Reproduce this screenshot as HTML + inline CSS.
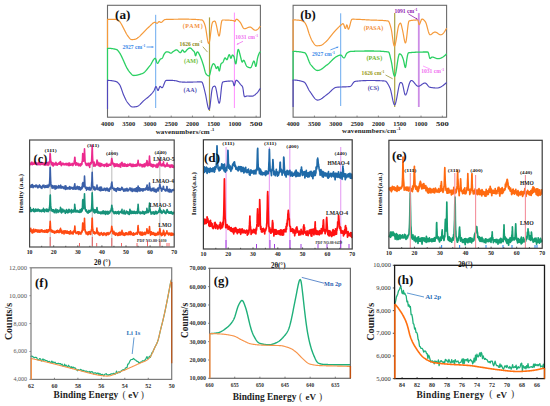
<!DOCTYPE html>
<html><head><meta charset="utf-8"><style>
html,body{margin:0;padding:0;background:#fff;}
body{width:550px;height:406px;overflow:hidden;}
svg{display:block;}
</style></head><body>
<svg width="550" height="406" viewBox="0 0 550 406">
<rect width="550" height="406" fill="#fff"/>
<text x="107.50" y="126.00" font-family="'Liberation Serif', serif" font-size="6.6" font-weight="bold" fill="#222" text-anchor="middle" textLength="12.8" lengthAdjust="spacingAndGlyphs">4000</text>
<line x1="128.74" y1="117.20" x2="128.74" y2="115.60" stroke="#555" stroke-width="0.7" opacity="1.0"/>
<text x="128.74" y="126.00" font-family="'Liberation Serif', serif" font-size="6.6" font-weight="bold" fill="#222" text-anchor="middle" textLength="12.8" lengthAdjust="spacingAndGlyphs">3500</text>
<line x1="149.97" y1="117.20" x2="149.97" y2="115.60" stroke="#555" stroke-width="0.7" opacity="1.0"/>
<text x="149.97" y="126.00" font-family="'Liberation Serif', serif" font-size="6.6" font-weight="bold" fill="#222" text-anchor="middle" textLength="12.8" lengthAdjust="spacingAndGlyphs">3000</text>
<line x1="171.21" y1="117.20" x2="171.21" y2="115.60" stroke="#555" stroke-width="0.7" opacity="1.0"/>
<text x="171.21" y="126.00" font-family="'Liberation Serif', serif" font-size="6.6" font-weight="bold" fill="#222" text-anchor="middle" textLength="12.8" lengthAdjust="spacingAndGlyphs">2500</text>
<line x1="192.44" y1="117.20" x2="192.44" y2="115.60" stroke="#555" stroke-width="0.7" opacity="1.0"/>
<text x="192.44" y="126.00" font-family="'Liberation Serif', serif" font-size="6.6" font-weight="bold" fill="#222" text-anchor="middle" textLength="12.8" lengthAdjust="spacingAndGlyphs">2000</text>
<line x1="213.68" y1="117.20" x2="213.68" y2="115.60" stroke="#555" stroke-width="0.7" opacity="1.0"/>
<text x="213.68" y="126.00" font-family="'Liberation Serif', serif" font-size="6.6" font-weight="bold" fill="#222" text-anchor="middle" textLength="12.8" lengthAdjust="spacingAndGlyphs">1500</text>
<line x1="234.92" y1="117.20" x2="234.92" y2="115.60" stroke="#555" stroke-width="0.7" opacity="1.0"/>
<text x="234.92" y="126.00" font-family="'Liberation Serif', serif" font-size="6.6" font-weight="bold" fill="#222" text-anchor="middle" textLength="12.8" lengthAdjust="spacingAndGlyphs">1000</text>
<line x1="256.15" y1="117.20" x2="256.15" y2="115.60" stroke="#555" stroke-width="0.7" opacity="1.0"/>
<text x="256.15" y="126.00" font-family="'Liberation Serif', serif" font-size="6.6" font-weight="bold" fill="#222" text-anchor="middle" textLength="12.8" lengthAdjust="spacingAndGlyphs">500</text>
<rect x="107.5" y="5.3" width="152.90" height="111.90" fill="none" stroke="#6a6a6a" stroke-width="1.1"/>
<line x1="155.70" y1="14.80" x2="155.70" y2="108.00" stroke="#5aa0ee" stroke-width="0.9" opacity="1.0"/>
<line x1="209.50" y1="17.40" x2="209.50" y2="111.00" stroke="#aaa040" stroke-width="1.2" opacity="1.0"/>
<line x1="234.40" y1="12.60" x2="234.40" y2="108.00" stroke="#ff80ff" stroke-width="0.9" opacity="1.0"/>
<line x1="107.50" y1="19.30" x2="107.50" y2="48.30" stroke="#f59a3a" stroke-width="1.2" opacity="1.0"/>
<line x1="107.50" y1="48.30" x2="107.50" y2="80.40" stroke="#2ad062" stroke-width="1.2" opacity="1.0"/>
<line x1="107.50" y1="80.40" x2="107.50" y2="109.00" stroke="#5048bc" stroke-width="1.15" opacity="1.0"/>
<polyline points="107.50,19.30 107.80,19.30 108.10,19.30 108.40,19.30 108.70,19.30 109.00,19.30 109.30,19.30 109.60,19.31 109.90,19.31 110.20,19.31 110.50,19.31 110.80,19.32 111.10,19.32 111.40,19.32 111.70,19.32 112.00,19.33 112.30,19.33 112.60,19.34 112.90,19.34 113.20,19.35 113.50,19.35 113.80,19.36 114.10,19.37 114.40,19.37 114.70,19.38 115.00,19.39 115.30,19.40 115.60,19.42 115.90,19.45 116.20,19.49 116.50,19.55 116.80,19.63 117.10,19.72 117.40,19.83 117.70,19.95 118.00,20.08 118.30,20.23 118.60,20.42 118.90,20.65 119.20,20.95 119.50,21.30 119.80,21.69 120.10,22.12 120.40,22.58 120.70,23.04 121.00,23.51 121.30,24.00 121.60,24.51 121.90,25.05 122.20,25.61 122.50,26.18 122.80,26.77 123.10,27.36 123.40,27.95 123.70,28.54 124.00,29.12 124.30,29.69 124.60,30.27 124.90,30.85 125.20,31.44 125.50,32.03 125.80,32.61 126.10,33.18 126.40,33.73 126.70,34.25 127.00,34.73 127.30,35.19 127.60,35.62 127.90,36.04 128.20,36.45 128.50,36.85 128.80,37.25 129.10,37.64 129.40,38.01 129.70,38.35 130.00,38.67 130.30,38.94 130.60,39.17 130.90,39.35 131.20,39.47 131.50,39.54 131.80,39.58 132.10,39.58 132.40,39.57 132.70,39.56 133.00,39.54 133.30,39.51 133.60,39.48 133.90,39.45 134.20,39.41 134.50,39.37 134.80,39.32 135.10,39.26 135.40,39.18 135.70,39.07 136.00,38.95 136.30,38.80 136.60,38.62 136.90,38.44 137.20,38.24 137.50,38.03 137.80,37.81 138.10,37.59 138.40,37.37 138.70,37.13 139.00,36.89 139.30,36.62 139.60,36.35 139.90,36.06 140.20,35.75 140.50,35.45 140.80,35.13 141.10,34.82 141.40,34.51 141.70,34.21 142.00,33.90 142.30,33.60 142.60,33.30 142.90,32.99 143.20,32.68 143.50,32.37 143.80,32.06 144.10,31.75 144.40,31.43 144.70,31.12 145.00,30.80 145.30,30.49 145.60,30.18 145.90,29.87 146.20,29.56 146.50,29.25 146.80,28.95 147.10,28.65 147.40,28.35 147.70,28.06 148.00,27.78 148.30,27.50 148.60,27.22 148.90,26.95 149.20,26.69 149.50,26.42 149.80,26.14 150.10,25.86 150.40,25.57 150.70,25.28 151.00,24.98 151.30,24.69 151.60,24.40 151.90,24.11 152.20,23.83 152.50,23.57 152.80,23.32 153.10,23.09 153.40,22.88 153.70,22.70 154.00,22.54 154.30,22.42 154.60,22.33 154.90,22.29 155.20,22.31 155.50,22.42 155.80,22.61 156.10,22.85 156.40,23.08 156.70,23.25 157.00,23.30 157.30,23.19 157.60,22.95 157.90,22.62 158.20,22.26 158.50,21.95 158.80,21.74 159.10,21.66 159.40,21.70 159.70,21.83 160.00,22.00 160.30,22.17 160.60,22.31 160.90,22.39 161.20,22.38 161.50,22.29 161.80,22.13 162.10,21.90 162.40,21.63 162.70,21.33 163.00,21.02 163.30,20.70 163.60,20.40 163.90,20.13 164.20,19.90 164.50,19.72 164.80,19.60 165.10,19.53 165.40,19.50 165.70,19.48 166.00,19.46 166.30,19.45 166.60,19.44 166.90,19.43 167.20,19.43 167.50,19.42 167.80,19.41 168.10,19.40 168.40,19.39 168.70,19.38 169.00,19.37 169.30,19.37 169.60,19.36 169.90,19.35 170.20,19.34 170.50,19.34 170.80,19.33 171.10,19.32 171.40,19.32 171.70,19.31 172.00,19.31 172.30,19.30 172.60,19.29 172.90,19.29 173.20,19.28 173.50,19.28 173.80,19.27 174.10,19.27 174.40,19.26 174.70,19.26 175.00,19.26 175.30,19.25 175.60,19.25 175.90,19.25 176.20,19.24 176.50,19.24 176.80,19.24 177.10,19.23 177.40,19.23 177.70,19.23 178.00,19.23 178.30,19.22 178.60,19.22 178.90,19.22 179.20,19.22 179.50,19.21 179.80,19.21 180.10,19.21 180.40,19.21 180.70,19.21 181.00,19.21 181.30,19.21 181.60,19.21 181.90,19.20 182.20,19.20 182.50,19.20 182.80,19.20 183.10,19.20 183.40,19.20 183.70,19.20 184.00,19.20 184.30,19.20 184.60,19.20 184.90,19.20 185.20,19.20 185.50,19.20 185.80,19.20 186.10,19.20 186.40,19.20 186.70,19.20 187.00,19.21 187.30,19.21 187.60,19.21 187.90,19.21 188.20,19.22 188.50,19.22 188.80,19.22 189.10,19.23 189.40,19.23 189.70,19.24 190.00,19.24 190.30,19.25 190.60,19.26 190.90,19.26 191.20,19.27 191.50,19.28 191.80,19.29 192.10,19.29 192.40,19.30 192.70,19.31 193.00,19.33 193.30,19.34 193.60,19.35 193.90,19.36 194.20,19.37 194.50,19.39 194.80,19.40 195.10,19.42 195.40,19.43 195.70,19.45 196.00,19.47 196.30,19.48 196.60,19.50 196.90,19.52 197.20,19.54 197.50,19.56 197.80,19.58 198.10,19.61 198.40,19.63 198.70,19.65 199.00,19.68 199.30,19.71 199.60,19.73 199.90,19.76 200.20,19.79 200.50,19.82 200.80,19.85 201.10,19.88 201.40,19.91 201.70,19.95 202.00,20.02 202.30,20.13 202.60,20.32 202.90,20.62 203.20,21.03 203.50,21.54 203.80,22.13 204.10,22.79 204.40,23.52 204.70,24.32 205.00,25.24 205.30,26.35 205.60,27.71 205.90,29.33 206.20,31.16 206.50,33.12 206.80,35.14 207.10,37.12 207.40,38.98 207.70,40.64 208.00,42.02 208.30,43.01 208.60,43.54 208.90,43.51 209.20,42.89 209.50,41.69 209.80,39.99 210.10,37.89 210.40,35.53 210.70,33.04 211.00,30.56 211.30,28.21 211.60,26.14 211.90,24.44 212.20,23.21 212.50,22.41 212.80,21.94 213.10,21.66 213.40,21.47 213.70,21.33 214.00,21.21 214.30,21.14 214.60,21.12 214.90,21.22 215.20,21.53 215.50,22.13 215.80,23.01 216.10,24.13 216.40,25.39 216.70,26.71 217.00,28.08 217.30,29.51 217.60,31.01 217.90,32.54 218.20,33.96 218.50,35.13 218.80,35.87 219.10,36.04 219.40,35.53 219.70,34.33 220.00,32.57 220.30,30.40 220.60,28.06 220.90,25.74 221.20,23.68 221.50,22.05 221.80,20.96 222.10,20.36 222.40,20.10 222.70,20.02 223.00,20.01 223.30,20.01 223.60,20.01 223.90,20.01 224.20,20.01 224.50,20.02 224.80,20.02 225.10,20.03 225.40,20.04 225.70,20.04 226.00,20.05 226.30,20.06 226.60,20.07 226.90,20.08 227.20,20.09 227.50,20.11 227.80,20.12 228.10,20.14 228.40,20.15 228.70,20.17 229.00,20.19 229.30,20.21 229.60,20.23 229.90,20.25 230.20,20.28 230.50,20.30 230.80,20.33 231.10,20.36 231.40,20.39 231.70,20.42 232.00,20.45 232.30,20.49 232.60,20.52 232.90,20.56 233.20,20.61 233.50,20.68 233.80,20.81 234.10,21.01 234.40,21.27 234.70,21.43 235.00,21.34 235.30,20.90 235.60,20.25 235.90,19.66 236.20,19.30 236.50,19.19 236.80,19.24 237.10,19.38 237.40,19.56 237.70,19.78 238.00,20.02 238.30,20.29 238.60,20.57 238.90,20.87 239.20,21.17 239.50,21.49 239.80,21.82 240.10,22.18 240.40,22.58 240.70,23.05 241.00,23.59 241.30,24.17 241.60,24.78 241.90,25.40 242.20,26.02 242.50,26.62 242.80,27.17 243.10,27.66 243.40,28.07 243.70,28.38 244.00,28.59 244.30,28.71 244.60,28.74 244.90,28.71 245.20,28.66 245.50,28.57 245.80,28.48 246.10,28.36 246.40,28.24 246.70,28.11 247.00,27.97 247.30,27.83 247.60,27.69 247.90,27.56 248.20,27.44 248.50,27.32 248.80,27.23 249.10,27.14 249.40,27.08 249.70,27.05 250.00,27.05 250.30,27.09 250.60,27.17 250.90,27.30 251.20,27.47 251.50,27.67 251.80,27.91 252.10,28.16 252.40,28.42 252.70,28.70 253.00,28.97 253.30,29.23 253.60,29.47 253.90,29.70 254.20,29.89 254.50,30.05 254.80,30.16 255.10,30.23 255.40,30.25 255.70,30.23 256.00,30.17 256.30,30.08 256.60,29.96 256.90,29.80 257.20,29.62 257.50,29.40 257.80,29.16 258.10,28.89 258.40,28.59 258.70,28.27 259.00,27.92 259.30,27.55 259.60,27.17 259.90,26.82 260.20,26.56" fill="none" stroke="#f59a3a" stroke-width="1.2" stroke-linejoin="round" stroke-linecap="round" opacity="1.0"/>
<polyline points="107.50,48.30 107.80,48.30 108.10,48.31 108.40,48.31 108.70,48.32 109.00,48.33 109.30,48.35 109.60,48.37 109.90,48.39 110.20,48.41 110.50,48.43 110.80,48.46 111.10,48.49 111.40,48.52 111.70,48.56 112.00,48.60 112.30,48.64 112.60,48.68 112.90,48.73 113.20,48.78 113.50,48.83 113.80,48.89 114.10,48.94 114.40,49.00 114.70,49.07 115.00,49.13 115.30,49.20 115.60,49.27 115.90,49.35 116.20,49.43 116.50,49.52 116.80,49.66 117.10,49.84 117.40,50.07 117.70,50.36 118.00,50.69 118.30,51.06 118.60,51.46 118.90,51.88 119.20,52.31 119.50,52.76 119.80,53.21 120.10,53.67 120.40,54.17 120.70,54.70 121.00,55.26 121.30,55.87 121.60,56.49 121.90,57.13 122.20,57.78 122.50,58.43 122.80,59.07 123.10,59.72 123.40,60.37 123.70,61.04 124.00,61.73 124.30,62.42 124.60,63.12 124.90,63.81 125.20,64.49 125.50,65.16 125.80,65.81 126.10,66.43 126.40,67.02 126.70,67.58 127.00,68.12 127.30,68.63 127.60,69.13 127.90,69.62 128.20,70.09 128.50,70.55 128.80,70.98 129.10,71.39 129.40,71.78 129.70,72.15 130.00,72.49 130.30,72.83 130.60,73.17 130.90,73.51 131.20,73.84 131.50,74.16 131.80,74.46 132.10,74.74 132.40,74.98 132.70,75.18 133.00,75.33 133.30,75.43 133.60,75.48 133.90,75.49 134.20,75.48 134.50,75.47 134.80,75.45 135.10,75.42 135.40,75.39 135.70,75.35 136.00,75.31 136.30,75.27 136.60,75.21 136.90,75.16 137.20,75.10 137.50,75.03 137.80,74.96 138.10,74.89 138.40,74.81 138.70,74.73 139.00,74.65 139.30,74.56 139.60,74.47 139.90,74.38 140.20,74.28 140.50,74.18 140.80,74.08 141.10,73.97 141.40,73.87 141.70,73.76 142.00,73.65 142.30,73.53 142.60,73.40 142.90,73.26 143.20,73.09 143.50,72.89 143.80,72.68 144.10,72.44 144.40,72.18 144.70,71.91 145.00,71.62 145.30,71.31 145.60,70.99 145.90,70.66 146.20,70.32 146.50,69.96 146.80,69.60 147.10,69.23 147.40,68.86 147.70,68.48 148.00,68.10 148.30,67.72 148.60,67.34 148.90,66.96 149.20,66.58 149.50,66.21 149.80,65.84 150.10,65.46 150.40,65.05 150.70,64.60 151.00,64.12 151.30,63.61 151.60,63.08 151.90,62.54 152.20,62.00 152.50,61.46 152.80,60.94 153.10,60.44 153.40,59.96 153.70,59.53 154.00,59.15 154.30,58.83 154.60,58.57 154.90,58.39 155.20,58.35 155.50,58.52 155.80,59.03 156.10,59.87 156.40,60.90 156.70,61.93 157.00,62.76 157.30,63.25 157.60,63.36 157.90,63.19 158.20,62.82 158.50,62.32 158.80,61.75 159.10,61.15 159.40,60.56 159.70,60.03 160.00,59.60 160.30,59.27 160.60,59.05 160.90,58.89 161.20,58.76 161.50,58.63 161.80,58.49 162.10,58.28 162.40,57.96 162.70,57.48 163.00,56.84 163.30,56.09 163.60,55.32 163.90,54.62 164.20,54.05 164.50,53.59 164.80,53.21 165.10,52.87 165.40,52.56 165.70,52.29 166.00,52.08 166.30,51.93 166.60,51.85 166.90,51.83 167.20,51.84 167.50,51.87 167.80,51.93 168.10,51.99 168.40,52.07 168.70,52.15 169.00,52.25 169.30,52.39 169.60,52.58 169.90,52.81 170.20,53.02 170.50,53.17 170.80,53.22 171.10,53.17 171.40,53.04 171.70,52.85 172.00,52.62 172.30,52.37 172.60,52.10 172.90,51.84 173.20,51.60 173.50,51.38 173.80,51.18 174.10,50.98 174.40,50.79 174.70,50.59 175.00,50.40 175.30,50.23 175.60,50.08 175.90,49.96 176.20,49.88 176.50,49.85 176.80,49.90 177.10,50.04 177.40,50.26 177.70,50.53 178.00,50.82 178.30,51.11 178.60,51.39 178.90,51.66 179.20,51.95 179.50,52.22 179.80,52.46 180.10,52.62 180.40,52.67 180.70,52.54 181.00,52.20 181.30,51.69 181.60,51.10 181.90,50.56 182.20,50.16 182.50,50.01 182.80,50.14 183.10,50.48 183.40,50.96 183.70,51.47 184.00,51.88 184.30,52.12 184.60,52.17 184.90,52.07 185.20,51.86 185.50,51.57 185.80,51.23 186.10,50.86 186.40,50.49 186.70,50.13 187.00,49.80 187.30,49.51 187.60,49.25 187.90,49.01 188.20,48.77 188.50,48.54 188.80,48.34 189.10,48.16 189.40,48.04 189.70,47.96 190.00,47.95 190.30,48.02 190.60,48.15 190.90,48.33 191.20,48.57 191.50,48.85 191.80,49.15 192.10,49.48 192.40,49.82 192.70,50.15 193.00,50.47 193.30,50.78 193.60,51.06 193.90,51.34 194.20,51.67 194.50,52.20 194.80,53.14 195.10,54.49 195.40,55.61 195.70,55.75 196.00,54.96 196.30,53.86 196.60,52.97 196.90,52.38 197.20,52.05 197.50,51.95 197.80,52.05 198.10,52.31 198.40,52.70 198.70,53.18 199.00,53.74 199.30,54.35 199.60,54.99 199.90,55.64 200.20,56.29 200.50,56.96 200.80,57.65 201.10,58.40 201.40,59.19 201.70,60.02 202.00,60.89 202.30,61.78 202.60,62.68 202.90,63.59 203.20,64.53 203.50,65.51 203.80,66.57 204.10,67.70 204.40,68.88 204.70,70.05 205.00,71.17 205.30,72.18 205.60,73.04 205.90,73.71 206.20,74.20 206.50,74.55 206.80,74.83 207.10,75.08 207.40,75.30 207.70,75.49 208.00,75.66 208.30,75.79 208.60,75.89 208.90,75.91 209.20,75.78 209.50,75.36 209.80,74.56 210.10,73.41 210.40,72.04 210.70,70.59 211.00,69.21 211.30,68.01 211.60,67.01 211.90,66.15 212.20,65.37 212.50,64.69 212.80,64.17 213.10,63.84 213.40,63.73 213.70,63.80 214.00,64.01 214.30,64.32 214.60,64.70 214.90,65.19 215.20,65.85 215.50,66.72 215.80,67.65 216.10,68.36 216.40,68.60 216.70,68.37 217.00,67.82 217.30,67.18 217.60,66.66 217.90,66.56 218.20,67.15 218.50,68.44 218.80,69.93 219.10,70.91 219.40,70.94 219.70,70.03 220.00,68.52 220.30,66.81 220.60,65.29 220.90,64.20 221.20,63.58 221.50,63.26 221.80,63.07 222.10,62.92 222.40,62.74 222.70,62.49 223.00,62.09 223.30,61.52 223.60,60.79 223.90,59.99 224.20,59.21 224.50,58.55 224.80,58.10 225.10,57.92 225.40,58.04 225.70,58.38 226.00,58.85 226.30,59.32 226.60,59.65 226.90,59.74 227.20,59.49 227.50,58.91 227.80,58.07 228.10,57.10 228.40,56.13 228.70,55.29 229.00,54.73 229.30,54.59 229.60,54.94 229.90,55.71 230.20,56.72 230.50,57.67 230.80,58.25 231.10,58.22 231.40,57.53 231.70,56.49 232.00,55.58 232.30,55.10 232.60,55.02 232.90,55.18 233.20,55.46 233.50,55.83 233.80,56.33 234.10,57.09 234.40,58.26 234.70,59.81 235.00,61.51 235.30,62.99 235.60,63.89 235.90,63.89 236.20,62.83 236.50,60.85 236.80,58.25 237.10,55.45 237.40,52.85 237.70,50.84 238.00,49.69 238.30,49.39 238.60,49.72 238.90,50.46 239.20,51.44 239.50,52.58 239.80,53.78 240.10,54.98 240.40,56.14 240.70,57.30 241.00,58.51 241.30,59.73 241.60,60.84 241.90,61.66 242.20,62.06 242.50,61.96 242.80,61.46 243.10,60.83 243.40,60.38 243.70,60.26 244.00,60.47 244.30,60.90 244.60,61.48 244.90,62.18 245.20,62.93 245.50,63.71 245.80,64.47 246.10,65.16 246.40,65.75 246.70,66.21 247.00,66.53 247.30,66.75 247.60,66.92 247.90,67.07 248.20,67.21 248.50,67.33 248.80,67.45 249.10,67.55 249.40,67.63 249.70,67.70 250.00,67.74 250.30,67.76 250.60,67.70 250.90,67.50 251.20,67.11 251.50,66.53 251.80,65.80 252.10,64.98 252.40,64.10 252.70,63.24 253.00,62.44 253.30,61.76 253.60,61.26 253.90,61.02 254.20,61.20 254.50,61.89 254.80,63.04 255.10,64.41 255.40,65.64 255.70,66.40 256.00,66.37 256.30,65.44 256.60,63.78 256.90,61.78 257.20,59.86 257.50,58.31 257.80,57.11 258.10,56.12 258.40,55.23 258.70,54.41 259.00,53.67 259.30,53.04 259.60,52.53 259.90,52.17 260.20,51.96" fill="none" stroke="#2ad062" stroke-width="1.3" stroke-linejoin="round" stroke-linecap="round" opacity="1.0"/>
<polyline points="107.50,80.40 107.80,80.40 108.10,80.41 108.40,80.42 108.70,80.43 109.00,80.44 109.30,80.45 109.60,80.47 109.90,80.49 110.20,80.52 110.50,80.55 110.80,80.58 111.10,80.61 111.40,80.64 111.70,80.68 112.00,80.72 112.30,80.76 112.60,80.81 112.90,80.86 113.20,80.91 113.50,80.96 113.80,81.02 114.10,81.08 114.40,81.14 114.70,81.20 115.00,81.27 115.30,81.33 115.60,81.41 115.90,81.49 116.20,81.59 116.50,81.72 116.80,81.88 117.10,82.07 117.40,82.29 117.70,82.54 118.00,82.82 118.30,83.12 118.60,83.44 118.90,83.79 119.20,84.16 119.50,84.57 119.80,85.04 120.10,85.59 120.40,86.22 120.70,86.93 121.00,87.71 121.30,88.53 121.60,89.39 121.90,90.27 122.20,91.15 122.50,92.02 122.80,92.87 123.10,93.68 123.40,94.44 123.70,95.16 124.00,95.85 124.30,96.51 124.60,97.17 124.90,97.82 125.20,98.46 125.50,99.08 125.80,99.67 126.10,100.25 126.40,100.79 126.70,101.30 127.00,101.77 127.30,102.20 127.60,102.61 127.90,102.99 128.20,103.37 128.50,103.74 128.80,104.11 129.10,104.47 129.40,104.81 129.70,105.15 130.00,105.46 130.30,105.75 130.60,106.02 130.90,106.26 131.20,106.47 131.50,106.65 131.80,106.79 132.10,106.89 132.40,106.95 132.70,106.98 133.00,106.98 133.30,106.98 133.60,106.96 133.90,106.94 134.20,106.92 134.50,106.89 134.80,106.85 135.10,106.81 135.40,106.77 135.70,106.73 136.00,106.68 136.30,106.63 136.60,106.57 136.90,106.50 137.20,106.42 137.50,106.32 137.80,106.19 138.10,106.04 138.40,105.85 138.70,105.64 139.00,105.41 139.30,105.16 139.60,104.90 139.90,104.61 140.20,104.32 140.50,104.01 140.80,103.70 141.10,103.38 141.40,103.06 141.70,102.74 142.00,102.42 142.30,102.10 142.60,101.79 142.90,101.49 143.20,101.20 143.50,100.92 143.80,100.65 144.10,100.38 144.40,100.13 144.70,99.87 145.00,99.62 145.30,99.38 145.60,99.14 145.90,98.90 146.20,98.66 146.50,98.42 146.80,98.18 147.10,97.94 147.40,97.70 147.70,97.46 148.00,97.21 148.30,96.97 148.60,96.71 148.90,96.46 149.20,96.19 149.50,95.92 149.80,95.64 150.10,95.36 150.40,95.07 150.70,94.77 151.00,94.45 151.30,94.13 151.60,93.80 151.90,93.45 152.20,93.10 152.50,92.72 152.80,92.34 153.10,91.94 153.40,91.52 153.70,91.08 154.00,90.59 154.30,90.02 154.60,89.33 154.90,88.54 155.20,87.73 155.50,87.04 155.80,86.62 156.10,86.58 156.40,86.94 156.70,87.63 157.00,88.50 157.30,89.37 157.60,90.05 157.90,90.40 158.20,90.33 158.50,89.85 158.80,89.09 159.10,88.20 159.40,87.36 159.70,86.73 160.00,86.40 160.30,86.37 160.60,86.56 160.90,86.88 161.20,87.24 161.50,87.54 161.80,87.73 162.10,87.74 162.40,87.57 162.70,87.20 163.00,86.68 163.30,86.03 163.60,85.29 163.90,84.49 164.20,83.69 164.50,82.90 164.80,82.18 165.10,81.56 165.40,81.07 165.70,80.73 166.00,80.53 166.30,80.43 166.60,80.38 166.90,80.36 167.20,80.35 167.50,80.34 167.80,80.33 168.10,80.32 168.40,80.32 168.70,80.31 169.00,80.31 169.30,80.30 169.60,80.30 169.90,80.30 170.20,80.30 170.50,80.31 170.80,80.32 171.10,80.33 171.40,80.34 171.70,80.35 172.00,80.37 172.30,80.39 172.60,80.42 172.90,80.44 173.20,80.47 173.50,80.50 173.80,80.53 174.10,80.57 174.40,80.60 174.70,80.64 175.00,80.67 175.30,80.71 175.60,80.75 175.90,80.79 176.20,80.85 176.50,80.91 176.80,80.98 177.10,81.07 177.40,81.17 177.70,81.27 178.00,81.37 178.30,81.47 178.60,81.57 178.90,81.66 179.20,81.74 179.50,81.81 179.80,81.86 180.10,81.90 180.40,81.93 180.70,81.96 181.00,81.98 181.30,82.01 181.60,82.03 181.90,82.05 182.20,82.07 182.50,82.09 182.80,82.10 183.10,82.12 183.40,82.13 183.70,82.15 184.00,82.16 184.30,82.17 184.60,82.18 184.90,82.19 185.20,82.19 185.50,82.20 185.80,82.20 186.10,82.20 186.40,82.20 186.70,82.20 187.00,82.19 187.30,82.19 187.60,82.19 187.90,82.18 188.20,82.18 188.50,82.17 188.80,82.17 189.10,82.16 189.40,82.16 189.70,82.15 190.00,82.14 190.30,82.13 190.60,82.13 190.90,82.12 191.20,82.11 191.50,82.10 191.80,82.09 192.10,82.08 192.40,82.07 192.70,82.07 193.00,82.06 193.30,82.05 193.60,82.04 193.90,82.03 194.20,82.02 194.50,82.01 194.80,82.01 195.10,82.00 195.40,81.99 195.70,81.98 196.00,81.97 196.30,81.96 196.60,81.95 196.90,81.94 197.20,81.92 197.50,81.91 197.80,81.90 198.10,81.89 198.40,81.88 198.70,81.87 199.00,81.86 199.30,81.85 199.60,81.84 199.90,81.83 200.20,81.82 200.50,81.81 200.80,81.81 201.10,81.82 201.40,81.85 201.70,81.96 202.00,82.20 202.30,82.62 202.60,83.24 202.90,84.05 203.20,85.01 203.50,86.09 203.80,87.24 204.10,88.44 204.40,89.65 204.70,90.85 205.00,92.07 205.30,93.35 205.60,94.73 205.90,96.23 206.20,97.82 206.50,99.48 206.80,101.15 207.10,102.79 207.40,104.35 207.70,105.79 208.00,107.06 208.30,108.12 208.60,108.90 208.90,109.32 209.20,109.28 209.50,108.64 209.80,107.36 210.10,105.46 210.40,103.09 210.70,100.40 211.00,97.60 211.30,94.87 211.60,92.39 211.90,90.33 212.20,88.80 212.50,87.80 212.80,87.21 213.10,86.85 213.40,86.61 213.70,86.43 214.00,86.28 214.30,86.17 214.60,86.13 214.90,86.21 215.20,86.49 215.50,87.05 215.80,87.92 216.10,89.09 216.40,90.51 216.70,92.11 217.00,93.83 217.30,95.59 217.60,97.32 217.90,98.97 218.20,100.46 218.50,101.71 218.80,102.65 219.10,103.17 219.40,103.13 219.70,102.39 220.00,100.89 220.30,98.70 220.60,96.02 220.90,93.08 221.20,90.13 221.50,87.42 221.80,85.19 222.10,83.58 222.40,82.61 222.70,82.13 223.00,81.92 223.30,81.82 223.60,81.75 223.90,81.70 224.20,81.64 224.50,81.59 224.80,81.55 225.10,81.50 225.40,81.46 225.70,81.42 226.00,81.38 226.30,81.34 226.60,81.31 226.90,81.28 227.20,81.25 227.50,81.22 227.80,81.19 228.10,81.17 228.40,81.15 228.70,81.13 229.00,81.11 229.30,81.09 229.60,81.08 229.90,81.06 230.20,81.05 230.50,81.04 230.80,81.03 231.10,81.02 231.40,81.02 231.70,81.01 232.00,81.02 232.30,81.06 232.60,81.23 232.90,81.71 233.20,82.65 233.50,83.95 233.80,85.15 234.10,85.74 234.40,85.53 234.70,84.68 235.00,83.49 235.30,82.27 235.60,81.25 235.90,80.58 236.20,80.26 236.50,80.20 236.80,80.30 237.10,80.47 237.40,80.70 237.70,80.97 238.00,81.27 238.30,81.61 238.60,81.97 238.90,82.34 239.20,82.73 239.50,83.13 239.80,83.52 240.10,83.90 240.40,84.28 240.70,84.63 241.00,84.96 241.30,85.25 241.60,85.53 241.90,85.82 242.20,86.17 242.50,86.71 242.80,87.66 243.10,89.25 243.40,91.45 243.70,93.73 244.00,95.48 244.30,96.42 244.60,96.73 244.90,96.74 245.20,96.63 245.50,96.50 245.80,96.37 246.10,96.24 246.40,96.14 246.70,96.07 247.00,96.03 247.30,96.01 247.60,96.01 247.90,96.02 248.20,96.03 248.50,96.05 248.80,96.06 249.10,96.08 249.40,96.09 249.70,96.11 250.00,96.13 250.30,96.14 250.60,96.16 250.90,96.17 251.20,96.18 251.50,96.19 251.80,96.19 252.10,96.17 252.40,96.14 252.70,96.07 253.00,95.98 253.30,95.86 253.60,95.72 253.90,95.55 254.20,95.36 254.50,95.15 254.80,94.93 255.10,94.69 255.40,94.44 255.70,94.18 256.00,93.91 256.30,93.64 256.60,93.36 256.90,93.08 257.20,92.78 257.50,92.45 257.80,92.10 258.10,91.71 258.40,91.29 258.70,90.85 259.00,90.39 259.30,89.91 259.60,89.43 259.90,88.99 260.20,88.66" fill="none" stroke="#5048bc" stroke-width="1.15" stroke-linejoin="round" stroke-linecap="round" opacity="1.0"/>
<text x="115.10" y="18.90" font-family="'Liberation Serif', serif" font-size="12.5" font-weight="bold" fill="#111" text-anchor="start" textLength="15.4" lengthAdjust="spacingAndGlyphs">(a)</text>
<text x="192.70" y="27.80" font-family="'Liberation Serif', serif" font-size="6.0" font-weight="bold" fill="#f39040" text-anchor="middle" textLength="20.1" lengthAdjust="spacing">(PAM)</text>
<text x="122.40" y="48.90" font-family="'Liberation Serif', serif" font-size="5.6" font-weight="bold" fill="#3a88e8" text-anchor="start">2927 cm<tspan font-size="3.8" dy="-2.2">-1</tspan></text>
<line x1="146.50" y1="47.00" x2="153.50" y2="47.00" stroke="#3a88e8" stroke-width="0.8" opacity="1.0"/>
<polygon points="153.50,47.00 151.70,47.87 151.70,46.13" fill="#3a88e8"/>
<text x="179.60" y="45.50" font-family="'Liberation Serif', serif" font-size="5.6" font-weight="bold" fill="#8c8a20" text-anchor="start">1626 cm<tspan font-size="3.8" dy="-2.2">-1</tspan></text>
<line x1="202.80" y1="46.70" x2="207.50" y2="52.10" stroke="#8c8a20" stroke-width="0.7" opacity="1.0"/>
<text x="235.30" y="39.30" font-family="'Liberation Serif', serif" font-size="5.6" font-weight="bold" fill="#f070f0" text-anchor="start">1031 cm<tspan font-size="3.8" dy="-2.2">-1</tspan></text>
<line x1="243.00" y1="41.30" x2="236.80" y2="44.40" stroke="#f070f0" stroke-width="0.8" opacity="1.0"/>
<polygon points="236.80,44.40 237.90,42.97 238.60,44.38" fill="#f070f0"/>
<text x="191.00" y="63.30" font-family="'Liberation Serif', serif" font-size="6.0" font-weight="bold" fill="#70c040" text-anchor="middle" textLength="14.2" lengthAdjust="spacing">(AM)</text>
<text x="190.10" y="92.30" font-family="'Liberation Serif', serif" font-size="6.0" font-weight="bold" fill="#4a48b0" text-anchor="middle" textLength="13.2" lengthAdjust="spacing">(AA)</text>
<text x="155.70" y="134.10" font-family="'Liberation Serif', serif" font-size="7.0" font-weight="bold" fill="#222" text-anchor="start" textLength="54.0" lengthAdjust="spacing">wavenumbers/cm</text>
<text x="210.60" y="131.00" font-family="'Liberation Serif', serif" font-size="4.6" font-weight="bold" fill="#222" text-anchor="start">-1</text>
<text x="293.10" y="126.00" font-family="'Liberation Serif', serif" font-size="6.6" font-weight="bold" fill="#222" text-anchor="middle" textLength="12.8" lengthAdjust="spacingAndGlyphs">4000</text>
<line x1="314.42" y1="117.20" x2="314.42" y2="115.60" stroke="#555" stroke-width="0.7" opacity="1.0"/>
<text x="314.42" y="126.00" font-family="'Liberation Serif', serif" font-size="6.6" font-weight="bold" fill="#222" text-anchor="middle" textLength="12.8" lengthAdjust="spacingAndGlyphs">3500</text>
<line x1="335.74" y1="117.20" x2="335.74" y2="115.60" stroke="#555" stroke-width="0.7" opacity="1.0"/>
<text x="335.74" y="126.00" font-family="'Liberation Serif', serif" font-size="6.6" font-weight="bold" fill="#222" text-anchor="middle" textLength="12.8" lengthAdjust="spacingAndGlyphs">3000</text>
<line x1="357.06" y1="117.20" x2="357.06" y2="115.60" stroke="#555" stroke-width="0.7" opacity="1.0"/>
<text x="357.06" y="126.00" font-family="'Liberation Serif', serif" font-size="6.6" font-weight="bold" fill="#222" text-anchor="middle" textLength="12.8" lengthAdjust="spacingAndGlyphs">2500</text>
<line x1="378.38" y1="117.20" x2="378.38" y2="115.60" stroke="#555" stroke-width="0.7" opacity="1.0"/>
<text x="378.38" y="126.00" font-family="'Liberation Serif', serif" font-size="6.6" font-weight="bold" fill="#222" text-anchor="middle" textLength="12.8" lengthAdjust="spacingAndGlyphs">2000</text>
<line x1="399.70" y1="117.20" x2="399.70" y2="115.60" stroke="#555" stroke-width="0.7" opacity="1.0"/>
<text x="399.70" y="126.00" font-family="'Liberation Serif', serif" font-size="6.6" font-weight="bold" fill="#222" text-anchor="middle" textLength="12.8" lengthAdjust="spacingAndGlyphs">1500</text>
<line x1="421.02" y1="117.20" x2="421.02" y2="115.60" stroke="#555" stroke-width="0.7" opacity="1.0"/>
<text x="421.02" y="126.00" font-family="'Liberation Serif', serif" font-size="6.6" font-weight="bold" fill="#222" text-anchor="middle" textLength="12.8" lengthAdjust="spacingAndGlyphs">1000</text>
<line x1="442.34" y1="117.20" x2="442.34" y2="115.60" stroke="#555" stroke-width="0.7" opacity="1.0"/>
<text x="442.34" y="126.00" font-family="'Liberation Serif', serif" font-size="6.6" font-weight="bold" fill="#222" text-anchor="middle" textLength="12.8" lengthAdjust="spacingAndGlyphs">500</text>
<rect x="293.1" y="5.3" width="153.50" height="111.90" fill="none" stroke="#6a6a6a" stroke-width="1.1"/>
<line x1="340.70" y1="13.30" x2="340.70" y2="106.00" stroke="#5aa0ee" stroke-width="0.9" opacity="1.0"/>
<line x1="394.70" y1="13.10" x2="394.70" y2="107.00" stroke="#aaa040" stroke-width="1.2" opacity="1.0"/>
<line x1="418.80" y1="13.10" x2="418.80" y2="107.00" stroke="#c070e0" stroke-width="1.8" opacity="0.8"/>
<line x1="293.10" y1="19.90" x2="293.10" y2="51.40" stroke="#f59a3a" stroke-width="1.2" opacity="1.0"/>
<line x1="293.10" y1="51.40" x2="293.10" y2="80.00" stroke="#2ad062" stroke-width="1.2" opacity="1.0"/>
<line x1="293.10" y1="80.00" x2="293.10" y2="107.00" stroke="#5048bc" stroke-width="1.15" opacity="1.0"/>
<polyline points="293.10,19.90 293.40,19.90 293.70,19.90 294.00,19.91 294.30,19.92 294.60,19.92 294.90,19.93 295.20,19.95 295.50,19.96 295.80,19.97 296.10,19.99 296.40,20.01 296.70,20.03 297.00,20.05 297.30,20.08 297.60,20.10 297.90,20.13 298.20,20.16 298.50,20.19 298.80,20.22 299.10,20.25 299.40,20.29 299.70,20.32 300.00,20.36 300.30,20.40 300.60,20.44 300.90,20.49 301.20,20.54 301.50,20.61 301.80,20.70 302.10,20.81 302.40,20.94 302.70,21.08 303.00,21.25 303.30,21.43 303.60,21.62 303.90,21.84 304.20,22.07 304.50,22.33 304.80,22.65 305.10,23.06 305.40,23.55 305.70,24.10 306.00,24.72 306.30,25.37 306.60,26.05 306.90,26.79 307.20,27.60 307.50,28.50 307.80,29.48 308.10,30.49 308.40,31.50 308.70,32.48 309.00,33.40 309.30,34.25 309.60,35.06 309.90,35.85 310.20,36.62 310.50,37.38 310.80,38.11 311.10,38.81 311.40,39.47 311.70,40.09 312.00,40.65 312.30,41.17 312.60,41.64 312.90,42.09 313.20,42.53 313.50,42.97 313.80,43.40 314.10,43.81 314.40,44.20 314.70,44.56 315.00,44.88 315.30,45.16 315.60,45.40 315.90,45.58 316.20,45.70 316.50,45.77 316.80,45.79 317.10,45.79 317.40,45.78 317.70,45.77 318.00,45.75 318.30,45.73 318.60,45.71 318.90,45.68 319.20,45.65 319.50,45.62 319.80,45.59 320.10,45.55 320.40,45.51 320.70,45.45 321.00,45.37 321.30,45.27 321.60,45.14 321.90,44.98 322.20,44.80 322.50,44.60 322.80,44.39 323.10,44.16 323.40,43.92 323.70,43.66 324.00,43.41 324.30,43.15 324.60,42.88 324.90,42.62 325.20,42.36 325.50,42.10 325.80,41.83 326.10,41.56 326.40,41.27 326.70,40.97 327.00,40.66 327.30,40.34 327.60,40.01 327.90,39.67 328.20,39.31 328.50,38.96 328.80,38.59 329.10,38.22 329.40,37.85 329.70,37.47 330.00,37.09 330.30,36.71 330.60,36.32 330.90,35.93 331.20,35.55 331.50,35.17 331.80,34.78 332.10,34.41 332.40,34.03 332.70,33.66 333.00,33.30 333.30,32.94 333.60,32.59 333.90,32.25 334.20,31.91 334.50,31.58 334.80,31.26 335.10,30.93 335.40,30.60 335.70,30.28 336.00,29.95 336.30,29.63 336.60,29.31 336.90,28.99 337.20,28.67 337.50,28.36 337.80,28.05 338.10,27.75 338.40,27.45 338.70,27.16 339.00,26.87 339.30,26.60 339.60,26.32 339.90,26.06 340.20,25.80 340.50,25.53 340.80,25.25 341.10,24.96 341.40,24.67 341.70,24.40 342.00,24.15 342.30,23.94 342.60,23.78 342.90,23.69 343.20,23.74 343.50,24.05 343.80,24.68 344.10,25.55 344.40,26.53 344.70,27.45 345.00,28.16 345.30,28.48 345.60,28.25 345.90,27.49 346.20,26.42 346.50,25.42 346.80,24.89 347.10,25.12 347.40,26.08 347.70,27.40 348.00,28.54 348.30,29.14 348.60,29.11 348.90,28.64 349.20,27.86 349.50,26.88 349.80,25.76 350.10,24.55 350.40,23.34 350.70,22.18 351.00,21.14 351.30,20.29 351.60,19.69 351.90,19.35 352.20,19.23 352.50,19.20 352.80,19.20 353.10,19.21 353.40,19.21 353.70,19.21 354.00,19.22 354.30,19.22 354.60,19.23 354.90,19.24 355.20,19.24 355.50,19.25 355.80,19.26 356.10,19.27 356.40,19.28 356.70,19.29 357.00,19.30 357.30,19.31 357.60,19.33 357.90,19.34 358.20,19.35 358.50,19.36 358.80,19.38 359.10,19.39 359.40,19.41 359.70,19.42 360.00,19.44 360.30,19.45 360.60,19.47 360.90,19.48 361.20,19.50 361.50,19.52 361.80,19.53 362.10,19.55 362.40,19.57 362.70,19.59 363.00,19.60 363.30,19.62 363.60,19.64 363.90,19.66 364.20,19.67 364.50,19.69 364.80,19.71 365.10,19.73 365.40,19.74 365.70,19.76 366.00,19.78 366.30,19.80 366.60,19.82 366.90,19.83 367.20,19.85 367.50,19.87 367.80,19.88 368.10,19.90 368.40,19.92 368.70,19.93 369.00,19.95 369.30,19.96 369.60,19.98 369.90,19.99 370.20,20.01 370.50,20.02 370.80,20.04 371.10,20.05 371.40,20.06 371.70,20.07 372.00,20.08 372.30,20.09 372.60,20.10 372.90,20.11 373.20,20.12 373.50,20.13 373.80,20.14 374.10,20.15 374.40,20.16 374.70,20.17 375.00,20.17 375.30,20.18 375.60,20.19 375.90,20.20 376.20,20.21 376.50,20.21 376.80,20.22 377.10,20.23 377.40,20.24 377.70,20.25 378.00,20.26 378.30,20.27 378.60,20.28 378.90,20.29 379.20,20.30 379.50,20.31 379.80,20.32 380.10,20.33 380.40,20.34 380.70,20.36 381.00,20.37 381.30,20.38 381.60,20.40 381.90,20.42 382.20,20.43 382.50,20.45 382.80,20.47 383.10,20.49 383.40,20.51 383.70,20.53 384.00,20.55 384.30,20.58 384.60,20.60 384.90,20.63 385.20,20.65 385.50,20.68 385.80,20.71 386.10,20.74 386.40,20.78 386.70,20.81 387.00,20.84 387.30,20.88 387.60,20.92 387.90,20.97 388.20,21.06 388.50,21.26 388.80,21.63 389.10,22.18 389.40,22.88 389.70,23.71 390.00,24.63 390.30,25.61 390.60,26.64 390.90,27.72 391.20,28.96 391.50,30.47 391.80,32.27 392.10,34.29 392.40,36.43 392.70,38.59 393.00,40.66 393.30,42.53 393.60,44.11 393.90,45.28 394.20,45.97 394.50,46.12 394.80,45.78 395.10,45.02 395.40,43.91 395.70,42.50 396.00,40.87 396.30,39.06 396.60,37.14 396.90,35.17 397.20,33.21 397.50,31.31 397.80,29.54 398.10,27.95 398.40,26.61 398.70,25.57 399.00,24.80 399.30,24.24 399.60,23.78 399.90,23.42 400.20,23.19 400.50,23.18 400.80,23.49 401.10,24.19 401.40,25.22 401.70,26.46 402.00,27.80 402.30,29.14 402.60,30.48 402.90,31.91 403.20,33.49 403.50,35.19 403.80,36.92 404.10,38.59 404.40,40.12 404.70,41.41 405.00,42.37 405.30,42.90 405.60,42.86 405.90,42.13 406.20,40.70 406.50,38.70 406.80,36.27 407.10,33.58 407.40,30.81 407.70,28.11 408.00,25.66 408.30,23.62 408.60,22.13 408.90,21.28 409.20,20.92 409.50,20.80 409.80,20.73 410.10,20.67 410.40,20.61 410.70,20.56 411.00,20.51 411.30,20.46 411.60,20.42 411.90,20.38 412.20,20.34 412.50,20.30 412.80,20.26 413.10,20.23 413.40,20.20 413.70,20.17 414.00,20.15 414.30,20.13 414.60,20.11 414.90,20.09 415.20,20.07 415.50,20.06 415.80,20.04 416.10,20.03 416.40,20.02 416.70,20.01 417.00,20.01 417.30,20.01 417.60,20.04 417.90,20.28 418.20,21.08 418.50,22.50 418.80,23.90 419.10,24.59 419.40,24.54 419.70,24.07 420.00,23.38 420.30,22.57 420.60,21.71 420.90,20.88 421.20,20.14 421.50,19.56 421.80,19.21 422.10,19.07 422.40,19.09 422.70,19.19 423.00,19.34 423.30,19.54 423.60,19.78 423.90,20.05 424.20,20.35 424.50,20.68 424.80,21.02 425.10,21.38 425.40,21.81 425.70,22.36 426.00,23.07 426.30,23.94 426.60,24.93 426.90,26.01 427.20,27.14 427.50,28.31 427.80,29.46 428.10,30.58 428.40,31.63 428.70,32.57 429.00,33.38 429.30,34.01 429.60,34.45 429.90,34.69 430.20,34.74 430.50,34.70 430.80,34.59 431.10,34.44 431.40,34.25 431.70,34.04 432.00,33.81 432.30,33.57 432.60,33.32 432.90,33.07 433.20,32.84 433.50,32.62 433.80,32.42 434.10,32.26 434.40,32.13 434.70,32.05 435.00,32.03 435.30,32.04 435.60,32.10 435.90,32.20 436.20,32.33 436.50,32.49 436.80,32.67 437.10,32.87 437.40,33.07 437.70,33.29 438.00,33.51 438.30,33.73 438.60,33.93 438.90,34.13 439.20,34.31 439.50,34.47 439.80,34.60 440.10,34.70 440.40,34.76 440.70,34.78 441.00,34.76 441.30,34.69 441.60,34.58 441.90,34.44 442.20,34.25 442.50,34.03 442.80,33.77 443.10,33.47 443.40,33.15 443.70,32.79 444.00,32.40 444.30,31.98 444.60,31.54 444.90,31.07 445.20,30.58 445.50,30.06 445.80,29.52 446.10,29.00 446.40,28.60" fill="none" stroke="#f59a3a" stroke-width="1.2" stroke-linejoin="round" stroke-linecap="round" opacity="1.0"/>
<polyline points="293.10,51.40 293.40,51.40 293.70,51.40 294.00,51.41 294.30,51.41 294.60,51.42 294.90,51.43 295.20,51.44 295.50,51.46 295.80,51.47 296.10,51.49 296.40,51.51 296.70,51.53 297.00,51.55 297.30,51.57 297.60,51.60 297.90,51.62 298.20,51.65 298.50,51.68 298.80,51.72 299.10,51.75 299.40,51.79 299.70,51.83 300.00,51.87 300.30,51.91 300.60,51.96 300.90,52.00 301.20,52.05 301.50,52.10 301.80,52.16 302.10,52.21 302.40,52.27 302.70,52.33 303.00,52.39 303.30,52.45 303.60,52.52 303.90,52.59 304.20,52.66 304.50,52.73 304.80,52.83 305.10,52.99 305.40,53.25 305.70,53.61 306.00,54.06 306.30,54.60 306.60,55.21 306.90,55.88 307.20,56.60 307.50,57.35 307.80,58.13 308.10,58.92 308.40,59.71 308.70,60.49 309.00,61.25 309.30,61.98 309.60,62.65 309.90,63.27 310.20,63.82 310.50,64.30 310.80,64.71 311.10,65.09 311.40,65.45 311.70,65.82 312.00,66.18 312.30,66.54 312.60,66.90 312.90,67.25 313.20,67.59 313.50,67.92 313.80,68.23 314.10,68.54 314.40,68.82 314.70,69.10 315.00,69.35 315.30,69.58 315.60,69.79 315.90,69.97 316.20,70.13 316.50,70.26 316.80,70.36 317.10,70.44 317.40,70.48 317.70,70.49 318.00,70.47 318.30,70.44 318.60,70.39 318.90,70.32 319.20,70.23 319.50,70.13 319.80,70.01 320.10,69.88 320.40,69.74 320.70,69.58 321.00,69.41 321.30,69.23 321.60,69.04 321.90,68.85 322.20,68.64 322.50,68.43 322.80,68.21 323.10,67.98 323.40,67.75 323.70,67.52 324.00,67.28 324.30,67.04 324.60,66.80 324.90,66.55 325.20,66.31 325.50,66.07 325.80,65.83 326.10,65.59 326.40,65.35 326.70,65.12 327.00,64.90 327.30,64.67 327.60,64.45 327.90,64.22 328.20,63.97 328.50,63.72 328.80,63.45 329.10,63.18 329.40,62.89 329.70,62.60 330.00,62.31 330.30,62.01 330.60,61.70 330.90,61.40 331.20,61.09 331.50,60.78 331.80,60.47 332.10,60.17 332.40,59.87 332.70,59.57 333.00,59.28 333.30,58.99 333.60,58.71 333.90,58.44 334.20,58.18 334.50,57.93 334.80,57.69 335.10,57.46 335.40,57.25 335.70,57.05 336.00,56.87 336.30,56.70 336.60,56.54 336.90,56.38 337.20,56.22 337.50,56.06 337.80,55.91 338.10,55.76 338.40,55.62 338.70,55.48 339.00,55.36 339.30,55.26 339.60,55.17 339.90,55.10 340.20,55.05 340.50,55.03 340.80,55.06 341.10,55.18 341.40,55.39 341.70,55.69 342.00,56.05 342.30,56.43 342.60,56.83 342.90,57.20 343.20,57.52 343.50,57.76 343.80,57.90 344.10,57.89 344.40,57.69 344.70,57.32 345.00,56.80 345.30,56.18 345.60,55.51 345.90,54.84 346.20,54.21 346.50,53.67 346.80,53.26 347.10,52.97 347.40,52.75 347.70,52.56 348.00,52.39 348.30,52.23 348.60,52.08 348.90,51.94 349.20,51.82 349.50,51.71 349.80,51.62 350.10,51.54 350.40,51.48 350.70,51.43 351.00,51.40 351.30,51.39 351.60,51.37 351.90,51.36 352.20,51.34 352.50,51.33 352.80,51.32 353.10,51.30 353.40,51.29 353.70,51.28 354.00,51.27 354.30,51.26 354.60,51.24 354.90,51.23 355.20,51.22 355.50,51.21 355.80,51.20 356.10,51.19 356.40,51.18 356.70,51.17 357.00,51.17 357.30,51.16 357.60,51.15 357.90,51.14 358.20,51.13 358.50,51.13 358.80,51.12 359.10,51.11 359.40,51.10 359.70,51.10 360.00,51.09 360.30,51.09 360.60,51.08 360.90,51.07 361.20,51.07 361.50,51.06 361.80,51.06 362.10,51.05 362.40,51.05 362.70,51.05 363.00,51.04 363.30,51.04 363.60,51.03 363.90,51.03 364.20,51.03 364.50,51.02 364.80,51.02 365.10,51.02 365.40,51.02 365.70,51.01 366.00,51.01 366.30,51.01 366.60,51.01 366.90,51.01 367.20,51.01 367.50,51.00 367.80,51.00 368.10,51.00 368.40,51.00 368.70,51.00 369.00,51.00 369.30,51.00 369.60,51.00 369.90,51.00 370.20,51.00 370.50,51.00 370.80,51.00 371.10,51.00 371.40,51.00 371.70,51.00 372.00,51.01 372.30,51.01 372.60,51.01 372.90,51.01 373.20,51.01 373.50,51.02 373.80,51.02 374.10,51.03 374.40,51.03 374.70,51.03 375.00,51.04 375.30,51.05 375.60,51.05 375.90,51.06 376.20,51.07 376.50,51.07 376.80,51.08 377.10,51.09 377.40,51.10 377.70,51.11 378.00,51.12 378.30,51.13 378.60,51.14 378.90,51.16 379.20,51.17 379.50,51.18 379.80,51.20 380.10,51.21 380.40,51.23 380.70,51.24 381.00,51.26 381.30,51.28 381.60,51.30 381.90,51.32 382.20,51.34 382.50,51.36 382.80,51.38 383.10,51.41 383.40,51.43 383.70,51.45 384.00,51.48 384.30,51.51 384.60,51.53 384.90,51.56 385.20,51.59 385.50,51.62 385.80,51.65 386.10,51.69 386.40,51.72 386.70,51.76 387.00,51.79 387.30,51.83 387.60,51.87 387.90,51.91 388.20,51.95 388.50,52.05 388.80,52.28 389.10,52.78 389.40,53.56 389.70,54.59 390.00,55.77 390.30,57.04 390.60,58.33 390.90,59.61 391.20,60.92 391.50,62.38 391.80,63.99 392.10,65.74 392.40,67.54 392.70,69.34 393.00,71.06 393.30,72.64 393.60,74.02 393.90,75.12 394.20,75.88 394.50,76.24 394.80,76.16 395.10,75.64 395.40,74.71 395.70,73.44 396.00,71.89 396.30,70.12 396.60,68.19 396.90,66.18 397.20,64.12 397.50,62.11 397.80,60.18 398.10,58.41 398.40,56.86 398.70,55.59 399.00,54.66 399.30,54.11 399.60,53.90 399.90,53.90 400.20,54.01 400.50,54.17 400.80,54.38 401.10,54.64 401.40,54.99 401.70,55.46 402.00,56.04 402.30,56.72 402.60,57.47 402.90,58.29 403.20,59.15 403.50,60.13 403.80,61.33 404.10,62.79 404.40,64.37 404.70,65.85 405.00,66.98 405.30,67.49 405.60,67.13 405.90,65.83 406.20,63.83 406.50,61.56 406.80,59.41 407.10,57.58 407.40,55.97 407.70,54.59 408.00,53.56 408.30,53.00 408.60,52.80 408.90,52.74 409.20,52.70 409.50,52.67 409.80,52.64 410.10,52.61 410.40,52.59 410.70,52.56 411.00,52.53 411.30,52.51 411.60,52.48 411.90,52.46 412.20,52.44 412.50,52.41 412.80,52.39 413.10,52.37 413.40,52.35 413.70,52.33 414.00,52.31 414.30,52.30 414.60,52.28 414.90,52.26 415.20,52.25 415.50,52.23 415.80,52.22 416.10,52.20 416.40,52.19 416.70,52.18 417.00,52.16 417.30,52.15 417.60,52.14 417.90,52.13 418.20,52.12 418.50,52.11 418.80,52.10 419.10,52.09 419.40,52.09 419.70,52.08 420.00,52.07 420.30,52.06 420.60,52.06 420.90,52.05 421.20,52.05 421.50,52.04 421.80,52.04 422.10,52.03 422.40,52.03 422.70,52.03 423.00,52.02 423.30,52.02 423.60,52.02 423.90,52.01 424.20,52.01 424.50,52.01 424.80,52.01 425.10,52.01 425.40,52.00 425.70,52.00 426.00,52.00 426.30,52.00 426.60,52.00 426.90,52.00 427.20,52.00 427.50,52.01 427.80,52.06 428.10,52.31 428.40,52.95 428.70,54.02 429.00,55.35 429.30,56.68 429.60,57.75 429.90,58.37 430.20,58.52 430.50,58.37 430.80,58.08 431.10,57.73 431.40,57.41 431.70,57.18 432.00,57.05 432.30,57.03 432.60,57.06 432.90,57.12 433.20,57.19 433.50,57.28 433.80,57.38 434.10,57.50 434.40,57.62 434.70,57.74 435.00,57.87 435.30,58.00 435.60,58.12 435.90,58.24 436.20,58.35 436.50,58.45 436.80,58.54 437.10,58.61 437.40,58.65 437.70,58.68 438.00,58.69 438.30,58.68 438.60,58.66 438.90,58.62 439.20,58.58 439.50,58.51 439.80,58.44 440.10,58.36 440.40,58.26 440.70,58.15 441.00,58.03 441.30,57.90 441.60,57.76 441.90,57.60 442.20,57.44 442.50,57.26 442.80,57.07 443.10,56.87 443.40,56.66 443.70,56.44 444.00,56.21 444.30,55.97 444.60,55.72 444.90,55.46 445.20,55.19 445.50,54.91 445.80,54.62 446.10,54.34 446.40,54.12" fill="none" stroke="#2ad062" stroke-width="1.3" stroke-linejoin="round" stroke-linecap="round" opacity="1.0"/>
<polyline points="293.10,80.00 293.40,80.00 293.70,80.01 294.00,80.02 294.30,80.03 294.60,80.04 294.90,80.06 295.20,80.08 295.50,80.10 295.80,80.13 296.10,80.16 296.40,80.19 296.70,80.23 297.00,80.26 297.30,80.31 297.60,80.35 297.90,80.40 298.20,80.45 298.50,80.50 298.80,80.56 299.10,80.62 299.40,80.68 299.70,80.75 300.00,80.82 300.30,80.89 300.60,80.96 300.90,81.04 301.20,81.12 301.50,81.20 301.80,81.29 302.10,81.37 302.40,81.47 302.70,81.56 303.00,81.66 303.30,81.76 303.60,81.86 303.90,81.98 304.20,82.13 304.50,82.33 304.80,82.61 305.10,82.95 305.40,83.36 305.70,83.81 306.00,84.31 306.30,84.85 306.60,85.42 306.90,86.01 307.20,86.61 307.50,87.22 307.80,87.83 308.10,88.43 308.40,89.02 308.70,89.58 309.00,90.10 309.30,90.59 309.60,91.05 309.90,91.47 310.20,91.90 310.50,92.33 310.80,92.77 311.10,93.21 311.40,93.66 311.70,94.12 312.00,94.57 312.30,95.02 312.60,95.47 312.90,95.91 313.20,96.34 313.50,96.76 313.80,97.17 314.10,97.55 314.40,97.92 314.70,98.27 315.00,98.60 315.30,98.90 315.60,99.17 315.90,99.41 316.20,99.62 316.50,99.79 316.80,99.92 317.10,100.02 317.40,100.07 317.70,100.09 318.00,100.07 318.30,100.04 318.60,99.98 318.90,99.91 319.20,99.82 319.50,99.71 319.80,99.59 320.10,99.46 320.40,99.31 320.70,99.15 321.00,98.98 321.30,98.80 321.60,98.61 321.90,98.40 322.20,98.20 322.50,97.98 322.80,97.76 323.10,97.53 323.40,97.30 323.70,97.06 324.00,96.82 324.30,96.58 324.60,96.34 324.90,96.10 325.20,95.86 325.50,95.62 325.80,95.38 326.10,95.15 326.40,94.92 326.70,94.70 327.00,94.48 327.30,94.27 327.60,94.05 327.90,93.83 328.20,93.59 328.50,93.34 328.80,93.08 329.10,92.81 329.40,92.53 329.70,92.25 330.00,91.95 330.30,91.66 330.60,91.36 330.90,91.06 331.20,90.76 331.50,90.47 331.80,90.17 332.10,89.89 332.40,89.61 332.70,89.34 333.00,89.08 333.30,88.83 333.60,88.59 333.90,88.37 334.20,88.16 334.50,87.98 334.80,87.81 335.10,87.66 335.40,87.54 335.70,87.44 336.00,87.36 336.30,87.31 336.60,87.27 336.90,87.24 337.20,87.21 337.50,87.18 337.80,87.16 338.10,87.13 338.40,87.11 338.70,87.09 339.00,87.07 339.30,87.06 339.60,87.04 339.90,87.03 340.20,87.01 340.50,87.00 340.80,86.99 341.10,86.98 341.40,86.97 341.70,86.96 342.00,86.95 342.30,86.94 342.60,86.94 342.90,86.93 343.20,86.92 343.50,86.91 343.80,86.90 344.10,86.89 344.40,86.89 344.70,86.88 345.00,86.87 345.30,86.85 345.60,86.84 345.90,86.83 346.20,86.82 346.50,86.80 346.80,86.78 347.10,86.77 347.40,86.75 347.70,86.73 348.00,86.70 348.30,86.68 348.60,86.65 348.90,86.62 349.20,86.59 349.50,86.56 349.80,86.52 350.10,86.45 350.40,86.33 350.70,86.14 351.00,85.88 351.30,85.56 351.60,85.20 351.90,84.80 352.20,84.38 352.50,83.95 352.80,83.52 353.10,83.10 353.40,82.70 353.70,82.34 354.00,82.02 354.30,81.76 354.60,81.57 354.90,81.45 355.20,81.38 355.50,81.34 355.80,81.30 356.10,81.26 356.40,81.23 356.70,81.19 357.00,81.16 357.30,81.12 357.60,81.09 357.90,81.06 358.20,81.03 358.50,81.00 358.80,80.97 359.10,80.95 359.40,80.92 359.70,80.90 360.00,80.87 360.30,80.85 360.60,80.83 360.90,80.80 361.20,80.78 361.50,80.76 361.80,80.74 362.10,80.72 362.40,80.71 362.70,80.69 363.00,80.67 363.30,80.66 363.60,80.64 363.90,80.63 364.20,80.62 364.50,80.60 364.80,80.59 365.10,80.58 365.40,80.57 365.70,80.56 366.00,80.55 366.30,80.55 366.60,80.54 366.90,80.53 367.20,80.53 367.50,80.52 367.80,80.52 368.10,80.51 368.40,80.51 368.70,80.51 369.00,80.50 369.30,80.50 369.60,80.50 369.90,80.50 370.20,80.50 370.50,80.50 370.80,80.50 371.10,80.50 371.40,80.50 371.70,80.50 372.00,80.51 372.30,80.51 372.60,80.51 372.90,80.51 373.20,80.52 373.50,80.52 373.80,80.52 374.10,80.53 374.40,80.53 374.70,80.54 375.00,80.54 375.30,80.55 375.60,80.56 375.90,80.56 376.20,80.57 376.50,80.58 376.80,80.58 377.10,80.59 377.40,80.60 377.70,80.61 378.00,80.62 378.30,80.63 378.60,80.64 378.90,80.65 379.20,80.66 379.50,80.68 379.80,80.69 380.10,80.70 380.40,80.72 380.70,80.73 381.00,80.75 381.30,80.76 381.60,80.78 381.90,80.79 382.20,80.81 382.50,80.83 382.80,80.85 383.10,80.87 383.40,80.89 383.70,80.91 384.00,80.93 384.30,80.95 384.60,80.97 384.90,81.00 385.20,81.06 385.50,81.17 385.80,81.33 386.10,81.56 386.40,81.84 386.70,82.18 387.00,82.56 387.30,82.98 387.60,83.45 387.90,83.94 388.20,84.47 388.50,85.02 388.80,85.59 389.10,86.18 389.40,86.78 389.70,87.40 390.00,88.06 390.30,88.85 390.60,89.81 390.90,90.96 391.20,92.26 391.50,93.67 391.80,95.15 392.10,96.66 392.40,98.15 392.70,99.59 393.00,100.93 393.30,102.14 393.60,103.18 393.90,103.99 394.20,104.55 394.50,104.82 394.80,104.76 395.10,104.40 395.40,103.74 395.70,102.83 396.00,101.69 396.30,100.38 396.60,98.91 396.90,97.34 397.20,95.68 397.50,93.98 397.80,92.28 398.10,90.61 398.40,89.00 398.70,87.50 399.00,86.13 399.30,84.93 399.60,83.94 399.90,83.19 400.20,82.72 400.50,82.50 400.80,82.47 401.10,82.54 401.40,82.67 401.70,82.84 402.00,83.12 402.30,83.62 402.60,84.43 402.90,85.54 403.20,86.88 403.50,88.36 403.80,89.87 404.10,91.34 404.40,92.67 404.70,93.78 405.00,94.56 405.30,94.96 405.60,95.00 405.90,94.73 406.20,94.23 406.50,93.54 406.80,92.69 407.10,91.71 407.40,90.64 407.70,89.51 408.00,88.34 408.30,87.18 408.60,86.04 408.90,84.97 409.20,84.00 409.50,83.15 409.80,82.44 410.10,81.86 410.40,81.36 410.70,80.93 411.00,80.62 411.30,80.48 411.60,80.47 411.90,80.55 412.20,80.70 412.50,80.90 412.80,81.13 413.10,81.41 413.40,81.72 413.70,82.06 414.00,82.41 414.30,82.78 414.60,83.16 414.90,83.54 415.20,83.92 415.50,84.29 415.80,84.64 416.10,84.98 416.40,85.29 416.70,85.57 417.00,85.80 417.30,86.00 417.60,86.15 417.90,86.24 418.20,86.27 418.50,86.26 418.80,86.21 419.10,86.13 419.40,86.02 419.70,85.88 420.00,85.72 420.30,85.54 420.60,85.35 420.90,85.15 421.20,84.94 421.50,84.72 421.80,84.51 422.10,84.29 422.40,84.08 422.70,83.88 423.00,83.70 423.30,83.53 423.60,83.37 423.90,83.24 424.20,83.14 424.50,83.07 424.80,83.03 425.10,83.04 425.40,83.11 425.70,83.24 426.00,83.44 426.30,83.70 426.60,83.99 426.90,84.32 427.20,84.67 427.50,85.03 427.80,85.40 428.10,85.76 428.40,86.11 428.70,86.43 429.00,86.71 429.30,86.95 429.60,87.13 429.90,87.25 430.20,87.33 430.50,87.39 430.80,87.44 431.10,87.49 431.40,87.54 431.70,87.59 432.00,87.63 432.30,87.67 432.60,87.71 432.90,87.75 433.20,87.78 433.50,87.81 433.80,87.84 434.10,87.87 434.40,87.89 434.70,87.92 435.00,87.94 435.30,87.95 435.60,87.97 435.90,87.98 436.20,87.99 436.50,87.99 436.80,88.00 437.10,87.99 437.40,87.98 437.70,87.95 438.00,87.91 438.30,87.86 438.60,87.80 438.90,87.72 439.20,87.63 439.50,87.52 439.80,87.41 440.10,87.28 440.40,87.15 440.70,87.00 441.00,86.84 441.30,86.67 441.60,86.49 441.90,86.31 442.20,86.11 442.50,85.90 442.80,85.69 443.10,85.47 443.40,85.24 443.70,85.00 444.00,84.76 444.30,84.51 444.60,84.25 444.90,83.99 445.20,83.72 445.50,83.45 445.80,83.17 446.10,82.90 446.40,82.70" fill="none" stroke="#5048bc" stroke-width="1.15" stroke-linejoin="round" stroke-linecap="round" opacity="1.0"/>
<text x="300.30" y="19.20" font-family="'Liberation Serif', serif" font-size="12.5" font-weight="bold" fill="#111" text-anchor="start" textLength="15.5" lengthAdjust="spacingAndGlyphs">(b)</text>
<text x="312.00" y="55.80" font-family="'Liberation Serif', serif" font-size="5.6" font-weight="bold" fill="#3a88e8" text-anchor="start">2927 cm<tspan font-size="3.8" dy="-2.2">-1</tspan></text>
<line x1="330.40" y1="49.90" x2="338.30" y2="46.90" stroke="#3a88e8" stroke-width="0.8" opacity="1.0"/>
<polygon points="338.30,46.90 336.93,48.35 336.31,46.73" fill="#3a88e8"/>
<text x="373.40" y="29.80" font-family="'Liberation Serif', serif" font-size="6.0" font-weight="bold" fill="#f39040" text-anchor="middle" textLength="19.5" lengthAdjust="spacing">(PASA)</text>
<text x="394.40" y="13.00" font-family="'Liberation Serif', serif" font-size="5.6" font-weight="bold" fill="#9020b0" text-anchor="start">1091 cm<tspan font-size="3.8" dy="-2.2">-1</tspan></text>
<line x1="408.30" y1="13.90" x2="417.50" y2="19.30" stroke="#9020b0" stroke-width="0.8" opacity="1.0"/>
<polygon points="417.50,19.30 415.71,19.15 416.50,17.80" fill="#9020b0"/>
<text x="374.30" y="60.40" font-family="'Liberation Serif', serif" font-size="6.2" font-weight="bold" fill="#6cb42c" text-anchor="middle" textLength="15.8" lengthAdjust="spacing">(PAS)</text>
<text x="361.60" y="75.30" font-family="'Liberation Serif', serif" font-size="5.6" font-weight="bold" fill="#9a9a20" text-anchor="start">1626 cm<tspan font-size="3.8" dy="-2.2">-1</tspan></text>
<line x1="385.50" y1="75.00" x2="392.70" y2="78.80" stroke="#8c8a20" stroke-width="0.7" opacity="1.0"/>
<text x="373.30" y="89.80" font-family="'Liberation Serif', serif" font-size="6.0" font-weight="bold" fill="#4a48b0" text-anchor="middle" textLength="11.3" lengthAdjust="spacing">(CS)</text>
<text x="421.20" y="73.30" font-family="'Liberation Serif', serif" font-size="5.6" font-weight="bold" fill="#f070f0" text-anchor="start">1031 cm<tspan font-size="3.8" dy="-2.2">-1</tspan></text>
<line x1="423.00" y1="66.00" x2="430.00" y2="69.00" stroke="#ff66ff" stroke-width="0.6" opacity="1.0"/>
<text x="342.00" y="132.80" font-family="'Liberation Serif', serif" font-size="7.0" font-weight="bold" fill="#222" text-anchor="start" textLength="54.1" lengthAdjust="spacing">wavenumbers/cm</text>
<text x="396.80" y="129.70" font-family="'Liberation Serif', serif" font-size="4.6" font-weight="bold" fill="#222" text-anchor="start">-1</text>
<line x1="50.20" y1="150.00" x2="50.20" y2="246.50" stroke="#c0c0c0" stroke-width="1.1" opacity="1.0"/>
<line x1="92.30" y1="150.00" x2="92.30" y2="246.50" stroke="#c0c0c0" stroke-width="1.1" opacity="1.0"/>
<line x1="111.80" y1="150.00" x2="111.80" y2="246.50" stroke="#c0c0c0" stroke-width="1.1" opacity="1.0"/>
<line x1="159.80" y1="150.00" x2="159.80" y2="246.50" stroke="#c0c0c0" stroke-width="1.1" opacity="1.0"/>
<polyline points="30.10,163.53 30.30,164.60 30.50,164.49 30.70,163.11 30.90,163.29 31.10,163.11 31.30,163.99 31.50,163.49 31.70,164.14 31.90,162.07 32.10,164.80 32.30,163.48 32.50,164.10 32.70,163.45 32.90,163.27 33.10,163.94 33.30,164.24 33.50,163.42 33.70,163.46 33.90,164.14 34.10,162.90 34.30,162.39 34.50,163.92 34.70,163.07 34.90,162.08 35.10,162.97 35.30,163.25 35.50,162.67 35.70,162.44 35.90,163.66 36.10,164.36 36.30,163.46 36.50,163.05 36.70,163.96 36.90,164.23 37.10,163.42 37.30,164.10 37.50,164.50 37.70,163.51 37.90,163.03 38.10,163.96 38.30,163.88 38.50,164.57 38.70,162.67 38.90,163.17 39.10,163.03 39.30,162.32 39.50,163.81 39.70,164.14 39.90,163.13 40.10,164.83 40.30,164.39 40.50,164.23 40.70,164.06 40.90,164.50 41.10,162.68 41.30,164.24 41.50,164.23 41.70,162.34 41.90,164.04 42.10,163.56 42.30,164.39 42.50,163.42 42.70,163.76 42.90,164.05 43.10,163.08 43.30,164.26 43.50,163.70 43.70,164.18 43.90,163.38 44.10,164.66 44.30,164.28 44.50,163.66 44.70,164.31 44.90,164.81 45.10,165.24 45.30,162.55 45.50,164.51 45.70,164.18 45.90,163.73 46.10,163.00 46.30,164.81 46.50,162.79 46.70,164.25 46.90,164.83 47.10,162.50 47.30,163.53 47.50,162.71 47.70,163.93 47.90,164.92 48.10,165.29 48.30,162.21 48.50,163.10 48.70,164.03 48.90,164.60 49.10,163.45 49.30,162.17 49.50,162.37 49.70,160.89 49.90,158.20 50.10,153.80 50.20,153.77 50.30,154.64 50.50,158.30 50.70,160.74 50.90,161.13 51.10,162.41 51.30,164.13 51.50,163.24 51.70,162.38 51.90,164.71 52.10,164.14 52.30,165.45 52.50,163.86 52.70,163.48 52.90,162.72 53.10,164.96 53.30,165.97 53.50,163.28 53.70,163.43 53.90,164.44 54.10,163.31 54.30,163.77 54.50,163.72 54.70,164.16 54.90,164.89 55.10,164.04 55.30,164.76 55.50,163.70 55.70,164.30 55.90,162.34 56.10,162.89 56.30,164.69 56.50,163.59 56.70,164.53 56.90,164.51 57.10,165.13 57.30,164.73 57.50,164.90 57.70,164.00 57.90,163.53 58.10,163.50 58.30,163.69 58.50,163.18 58.70,163.64 58.90,163.99 59.10,164.25 59.30,163.75 59.50,162.43 59.70,163.83 59.90,163.90 60.10,164.26 60.30,163.20 60.50,161.67 60.50,161.60 60.70,164.36 60.90,164.01 61.10,165.22 61.30,165.63 61.50,163.36 61.70,164.38 61.90,164.48 62.10,164.59 62.30,164.59 62.50,164.34 62.70,164.33 62.90,163.00 63.10,164.08 63.30,163.62 63.50,164.33 63.70,163.86 63.90,164.73 64.10,164.90 64.30,164.50 64.50,164.51 64.70,164.34 64.90,163.91 65.10,164.14 65.30,163.88 65.50,164.59 65.70,164.30 65.90,164.76 66.10,163.23 66.30,165.01 66.50,163.70 66.70,163.72 66.90,164.16 67.10,163.87 67.30,164.55 67.50,163.87 67.70,163.47 67.90,163.66 68.10,165.39 68.30,164.38 68.50,163.41 68.70,164.35 68.90,163.11 69.10,165.78 69.30,163.14 69.50,164.74 69.70,164.80 69.90,163.20 70.10,164.60 70.30,165.16 70.50,164.74 70.70,164.58 70.90,165.13 71.10,164.50 71.30,164.63 71.50,164.26 71.70,164.86 71.90,163.60 72.10,164.98 72.30,163.93 72.50,163.44 72.70,164.59 72.90,165.62 73.10,165.00 73.30,163.76 73.50,164.64 73.70,163.59 73.90,163.63 74.10,163.40 74.30,160.70 74.50,161.12 74.70,157.64 74.80,157.32 74.90,157.29 75.10,159.76 75.30,161.82 75.50,164.01 75.70,165.09 75.90,163.96 76.10,164.99 76.30,164.00 76.50,162.75 76.70,164.44 76.90,164.71 77.10,164.04 77.30,164.64 77.50,164.87 77.70,163.73 77.90,163.25 78.10,164.26 78.30,164.27 78.50,164.16 78.70,165.23 78.90,165.82 79.10,164.11 79.30,164.99 79.50,165.18 79.70,164.98 79.90,165.24 80.10,164.07 80.30,164.94 80.50,165.94 80.70,164.92 80.90,163.72 81.10,164.62 81.30,165.04 81.50,164.16 81.70,163.18 81.90,164.48 82.10,161.57 82.30,161.69 82.50,158.68 82.70,153.67 82.80,154.61 82.90,154.79 83.10,157.38 83.30,161.08 83.50,161.08 83.70,159.85 83.90,159.89 84.10,158.26 84.30,153.60 84.50,148.97 84.50,148.88 84.70,153.64 84.90,158.25 85.10,162.02 85.30,162.52 85.50,163.36 85.70,163.99 85.90,162.99 86.10,163.46 86.30,165.38 86.50,164.52 86.70,164.10 86.90,164.66 87.10,164.04 87.30,164.69 87.50,163.96 87.70,164.73 87.90,163.27 88.10,165.60 88.30,164.14 88.50,163.28 88.70,164.37 88.90,164.25 89.10,164.66 89.30,163.60 89.50,164.81 89.70,167.36 89.90,163.39 90.10,164.62 90.30,164.02 90.50,164.30 90.70,162.53 90.90,162.81 91.10,163.71 91.30,162.67 91.50,162.86 91.70,158.76 91.90,154.87 92.10,149.87 92.20,145.24 92.30,146.82 92.50,154.72 92.70,159.31 92.90,162.26 93.10,162.84 93.30,162.78 93.50,163.96 93.70,166.16 93.90,165.24 94.10,162.12 94.30,164.32 94.50,163.80 94.70,165.04 94.90,164.43 95.10,166.13 95.30,165.33 95.50,165.28 95.70,164.67 95.90,164.41 96.10,164.56 96.30,165.03 96.50,163.83 96.70,161.91 96.90,161.29 97.00,159.97 97.10,160.22 97.30,161.59 97.50,163.01 97.70,163.57 97.90,162.16 98.10,165.39 98.30,165.15 98.50,164.60 98.70,165.66 98.90,165.22 99.10,165.19 99.30,162.94 99.50,164.76 99.70,165.39 99.90,166.27 100.10,166.46 100.30,166.14 100.50,164.08 100.70,163.26 100.90,165.48 101.10,165.05 101.30,165.81 101.50,164.94 101.70,165.22 101.90,163.85 102.10,165.41 102.30,164.70 102.50,165.34 102.70,165.44 102.90,164.98 103.10,165.33 103.30,165.07 103.50,165.69 103.70,165.48 103.90,164.65 104.10,164.62 104.30,166.48 104.50,165.01 104.70,165.89 104.90,165.41 105.10,164.64 105.30,164.50 105.50,165.19 105.70,165.30 105.90,165.59 106.10,164.08 106.30,164.62 106.50,165.02 106.70,166.38 106.90,163.20 107.10,165.44 107.30,164.65 107.50,165.43 107.70,164.68 107.90,165.36 108.10,166.31 108.30,165.33 108.50,165.38 108.70,165.32 108.90,164.40 109.10,165.41 109.30,164.78 109.50,164.25 109.70,164.82 109.90,164.60 110.10,165.29 110.30,164.52 110.50,163.95 110.70,165.26 110.90,164.47 111.10,164.04 111.30,162.46 111.50,160.36 111.70,158.64 111.80,158.50 111.90,159.74 112.10,160.54 112.30,160.80 112.50,163.01 112.70,162.57 112.90,164.26 113.10,163.44 113.30,163.58 113.50,164.82 113.70,164.77 113.90,163.57 114.10,165.56 114.30,166.74 114.50,163.86 114.70,166.53 114.90,164.55 115.10,164.72 115.30,164.99 115.50,164.00 115.70,166.21 115.90,165.57 116.10,164.59 116.30,164.98 116.50,163.99 116.70,164.94 116.90,165.97 117.10,163.86 117.30,164.88 117.50,165.36 117.70,166.08 117.90,166.33 118.10,164.88 118.30,164.66 118.50,165.62 118.70,164.97 118.90,165.01 119.10,166.12 119.30,166.61 119.50,165.47 119.70,165.10 119.90,165.70 120.10,163.73 120.30,165.21 120.50,164.36 120.70,167.09 120.90,165.70 121.10,165.16 121.30,164.74 121.50,162.59 121.70,164.57 121.90,164.36 122.00,162.26 122.10,163.61 122.30,164.59 122.50,163.38 122.70,165.66 122.90,166.15 123.10,165.34 123.30,165.16 123.50,165.88 123.70,164.04 123.90,165.37 124.10,166.15 124.30,164.33 124.50,166.12 124.70,165.00 124.90,163.68 125.10,165.26 125.30,164.58 125.50,165.61 125.70,164.42 125.90,166.21 126.10,164.78 126.30,165.66 126.50,164.90 126.70,165.12 126.90,166.33 127.10,165.55 127.30,165.06 127.50,164.37 127.70,166.30 127.90,165.95 128.10,165.10 128.30,165.54 128.50,164.51 128.70,164.50 128.90,164.61 129.10,165.49 129.30,165.32 129.50,164.26 129.70,164.96 129.90,164.24 130.00,163.58 130.10,164.45 130.30,164.15 130.50,164.77 130.70,165.48 130.90,165.20 131.10,165.93 131.30,164.34 131.50,166.51 131.70,164.76 131.90,165.27 132.10,164.31 132.30,165.90 132.50,166.45 132.70,166.29 132.90,166.11 133.10,164.20 133.30,164.82 133.50,165.08 133.70,164.70 133.90,166.35 134.10,165.60 134.30,165.43 134.50,165.84 134.70,164.69 134.90,164.72 135.10,164.74 135.30,165.84 135.50,165.70 135.70,165.88 135.90,166.27 136.10,164.30 136.30,164.92 136.50,165.44 136.70,164.19 136.90,164.77 137.10,165.87 137.30,165.72 137.50,165.28 137.70,163.62 137.90,161.77 138.10,161.40 138.10,160.24 138.30,162.21 138.50,164.65 138.70,164.14 138.90,164.37 139.10,165.07 139.30,165.70 139.50,165.69 139.70,165.48 139.90,165.85 140.10,164.15 140.30,164.77 140.50,165.60 140.70,164.74 140.90,164.42 141.10,164.54 141.30,164.78 141.50,165.37 141.70,164.70 141.90,165.71 142.10,166.89 142.30,165.41 142.50,166.55 142.70,165.77 142.90,164.64 143.10,165.33 143.30,164.75 143.50,166.15 143.70,164.61 143.90,166.58 144.10,165.98 144.30,163.89 144.50,166.13 144.70,166.73 144.90,164.83 145.10,166.23 145.30,163.96 145.50,165.56 145.70,163.95 145.90,165.56 146.10,163.56 146.30,162.58 146.50,164.40 146.70,164.69 146.90,160.48 147.00,161.16 147.10,161.02 147.30,162.54 147.50,164.46 147.70,165.82 147.90,163.75 148.10,165.25 148.30,165.03 148.50,163.43 148.70,165.48 148.90,164.99 149.10,161.09 149.30,160.14 149.50,156.14 149.50,155.97 149.70,159.98 149.90,162.10 150.10,163.79 150.30,165.55 150.50,165.80 150.70,165.74 150.90,164.07 151.10,164.04 151.30,166.28 151.50,164.70 151.70,165.60 151.90,164.66 152.10,165.39 152.30,164.54 152.50,166.89 152.70,164.78 152.90,165.51 153.10,165.47 153.30,166.59 153.50,164.50 153.70,165.62 153.90,165.48 154.10,166.08 154.30,166.04 154.50,165.29 154.70,165.85 154.90,165.36 155.10,166.04 155.30,165.58 155.50,165.14 155.70,165.64 155.90,165.95 156.10,167.46 156.30,165.25 156.50,165.88 156.70,166.80 156.90,163.95 157.10,164.20 157.30,164.62 157.50,165.45 157.70,167.45 157.90,165.76 158.10,166.34 158.30,165.10 158.50,163.16 158.70,163.07 158.90,165.41 159.10,164.24 159.30,162.24 159.50,163.00 159.70,159.74 159.80,161.69 159.90,162.14 160.10,161.49 160.30,162.40 160.50,164.77 160.70,163.72 160.90,165.61 161.10,164.17 161.30,165.91 161.50,165.43 161.70,165.07 161.90,164.73 162.10,165.65 162.30,163.93 162.50,165.17 162.70,164.96 162.90,165.59 163.10,163.55 163.30,164.95 163.50,162.50 163.50,161.84 163.70,164.71 163.90,165.92 164.10,164.95 164.30,164.64 164.50,165.51 164.70,165.02 164.90,165.37 165.10,166.89 165.30,165.96 165.50,165.76 165.70,165.90 165.90,165.53 166.10,166.16 166.30,166.02 166.50,164.67 166.70,164.34 166.90,165.05 167.00,163.20 167.10,162.98 167.30,165.91 167.50,165.01 167.70,164.48 167.90,166.09 168.10,164.94 168.30,165.32 168.50,166.03 168.70,165.70 168.90,165.21 169.10,165.40 169.30,165.38 169.50,166.80 169.70,165.30 169.90,165.43 170.10,167.53 170.30,165.46 170.50,167.10 170.70,166.97 170.90,165.80 171.10,164.79 171.30,166.29 171.50,166.47 171.70,166.71 171.90,166.00 172.10,166.91 172.30,167.06 172.50,165.11 172.70,167.10 172.90,166.10 173.10,165.51 173.30,165.71 173.50,167.47 173.70,166.76" fill="none" stroke="#ec2a8e" stroke-width="1.6" stroke-linejoin="round" stroke-linecap="round" opacity="1.0"/>
<polyline points="30.10,186.01 30.30,186.86 30.50,186.63 30.70,186.63 30.90,187.35 31.10,185.10 31.30,185.58 31.50,185.03 31.70,186.01 31.90,186.91 32.10,186.10 32.30,186.52 32.50,184.61 32.70,186.26 32.90,185.43 33.10,187.59 33.30,186.88 33.50,186.94 33.70,186.15 33.90,186.69 34.10,186.74 34.30,185.95 34.50,185.84 34.70,186.15 34.90,185.77 35.10,185.79 35.30,186.05 35.50,185.70 35.70,186.90 35.90,185.02 36.10,186.97 36.30,185.82 36.50,185.89 36.70,185.26 36.90,186.23 37.10,186.16 37.30,186.52 37.50,185.95 37.70,186.46 37.90,187.85 38.10,186.73 38.30,185.96 38.50,187.19 38.70,186.33 38.90,186.92 39.10,186.94 39.30,186.15 39.50,184.93 39.70,186.20 39.90,186.93 40.10,186.20 40.30,186.86 40.50,187.30 40.70,186.09 40.90,187.52 41.10,187.84 41.30,187.42 41.50,187.49 41.70,187.45 41.90,188.38 42.10,186.74 42.30,186.60 42.50,187.09 42.70,185.89 42.90,185.38 43.10,185.92 43.30,186.93 43.50,187.02 43.70,185.42 43.90,185.15 44.10,186.41 44.30,186.52 44.50,186.64 44.70,187.22 44.90,187.67 45.10,186.88 45.30,187.19 45.50,185.82 45.70,185.76 45.90,186.89 46.10,187.23 46.30,187.28 46.50,187.17 46.70,187.32 46.90,187.33 47.10,185.26 47.30,186.06 47.50,186.99 47.70,187.07 47.90,185.33 48.10,187.42 48.30,186.05 48.50,186.10 48.70,186.34 48.90,186.47 49.10,184.33 49.30,185.63 49.50,183.76 49.70,180.86 49.90,176.67 50.10,167.95 50.20,167.50 50.30,169.86 50.50,176.35 50.70,181.26 50.90,183.65 51.10,184.97 51.30,186.41 51.50,185.98 51.70,186.06 51.90,186.88 52.10,188.25 52.30,186.42 52.50,187.18 52.70,185.57 52.90,187.96 53.10,187.46 53.30,188.04 53.50,186.95 53.70,186.20 53.90,187.77 54.10,187.68 54.30,186.41 54.50,185.94 54.70,187.50 54.90,187.02 55.10,189.26 55.30,186.70 55.50,186.78 55.70,187.13 55.90,185.90 56.10,186.53 56.30,188.57 56.50,187.16 56.70,186.79 56.90,186.27 57.10,187.77 57.30,187.84 57.50,187.53 57.70,187.02 57.90,187.58 58.10,187.65 58.30,186.80 58.50,187.85 58.70,185.66 58.90,186.32 59.10,187.09 59.30,187.23 59.50,186.34 59.70,187.45 59.90,187.88 60.10,187.07 60.30,186.24 60.50,186.17 60.50,185.83 60.70,185.17 60.90,186.59 61.10,188.13 61.30,186.37 61.50,187.43 61.70,187.13 61.90,186.76 62.10,186.71 62.30,187.62 62.50,187.82 62.70,187.83 62.90,186.44 63.10,187.38 63.30,187.90 63.50,188.40 63.70,188.19 63.90,188.33 64.10,188.56 64.30,188.35 64.50,187.05 64.70,187.76 64.90,187.15 65.10,185.83 65.30,186.40 65.50,189.43 65.70,186.87 65.90,185.98 66.10,187.32 66.30,189.01 66.50,187.77 66.70,188.14 66.90,187.61 67.10,187.77 67.30,188.86 67.50,188.49 67.70,187.80 67.90,188.59 68.10,188.74 68.30,187.72 68.50,188.12 68.70,188.11 68.90,187.39 69.10,188.85 69.30,187.80 69.50,187.45 69.70,186.62 69.90,186.95 70.10,189.19 70.30,187.07 70.50,188.33 70.70,187.70 70.90,188.41 71.10,188.49 71.30,187.40 71.50,187.79 71.70,188.11 71.90,188.12 72.10,188.01 72.30,187.78 72.50,188.53 72.70,189.08 72.90,188.45 73.10,187.41 73.30,188.29 73.50,187.97 73.70,188.22 73.90,189.20 74.10,187.32 74.30,187.02 74.50,185.36 74.70,184.33 74.80,183.76 74.90,185.85 75.10,186.34 75.30,186.61 75.50,189.09 75.70,186.74 75.90,188.64 76.10,188.85 76.30,188.56 76.50,187.94 76.70,188.08 76.90,187.93 77.10,188.86 77.30,186.39 77.50,187.86 77.70,188.40 77.90,187.83 78.10,186.85 78.30,188.12 78.50,187.71 78.70,188.97 78.90,189.45 79.10,188.39 79.30,186.79 79.50,188.18 79.70,187.60 79.90,188.88 80.10,189.68 80.30,188.57 80.50,189.93 80.70,189.49 80.90,188.81 81.10,187.52 81.30,188.31 81.50,186.98 81.70,188.83 81.90,187.86 82.10,188.45 82.30,186.80 82.50,183.41 82.70,182.96 82.80,182.58 82.90,183.70 83.10,183.93 83.30,185.36 83.50,186.62 83.70,185.60 83.90,184.60 84.10,183.01 84.30,182.24 84.50,176.47 84.50,176.16 84.70,179.91 84.90,184.12 85.10,187.14 85.30,187.86 85.50,188.28 85.70,188.01 85.90,188.31 86.10,187.82 86.30,187.23 86.50,190.14 86.70,188.21 86.90,189.43 87.10,188.40 87.30,188.62 87.50,188.59 87.70,187.63 87.90,188.69 88.10,189.07 88.30,189.44 88.50,189.18 88.70,189.60 88.90,189.03 89.10,188.78 89.30,187.20 89.50,188.34 89.70,189.99 89.90,188.81 90.10,189.31 90.30,188.44 90.50,187.98 90.70,190.03 90.90,188.49 91.10,189.10 91.30,187.82 91.50,186.26 91.70,182.95 91.90,181.20 92.10,174.20 92.20,172.35 92.30,176.46 92.50,181.74 92.70,185.31 92.90,186.61 93.10,187.46 93.30,188.35 93.50,188.45 93.70,188.60 93.90,189.28 94.10,186.82 94.30,189.58 94.50,188.42 94.70,189.66 94.90,189.94 95.10,188.35 95.30,189.67 95.50,189.66 95.70,188.44 95.90,188.54 96.10,188.96 96.30,186.92 96.50,188.01 96.70,187.80 96.90,186.18 97.00,184.99 97.10,186.23 97.30,188.91 97.50,189.50 97.70,188.71 97.90,188.35 98.10,189.10 98.30,189.20 98.50,188.70 98.70,189.01 98.90,189.81 99.10,190.08 99.30,187.41 99.50,190.16 99.70,189.51 99.90,190.33 100.10,189.41 100.30,189.78 100.50,190.75 100.70,187.06 100.90,190.72 101.10,189.60 101.30,188.00 101.50,187.32 101.70,189.71 101.90,188.64 102.10,190.27 102.30,189.64 102.50,189.37 102.70,190.27 102.90,189.63 103.10,190.08 103.30,190.15 103.50,189.74 103.70,190.12 103.90,190.12 104.10,188.39 104.30,189.27 104.50,189.40 104.70,189.19 104.90,188.22 105.10,189.04 105.30,189.77 105.50,189.65 105.70,190.71 105.90,189.01 106.10,189.15 106.30,189.03 106.50,189.24 106.70,189.00 106.90,187.99 107.10,189.76 107.30,190.27 107.50,190.37 107.70,188.59 107.90,189.30 108.10,190.92 108.30,189.34 108.50,189.69 108.70,189.27 108.90,190.18 109.10,190.12 109.30,191.17 109.50,189.66 109.70,189.56 109.90,188.16 110.10,188.69 110.30,188.32 110.50,188.41 110.70,187.32 110.90,188.88 111.10,186.33 111.30,186.23 111.50,183.31 111.70,182.97 111.80,183.74 111.90,182.04 112.10,184.61 112.30,185.97 112.50,187.42 112.70,188.26 112.90,187.88 113.10,188.56 113.30,188.44 113.50,188.40 113.70,188.18 113.90,190.02 114.10,188.72 114.30,189.90 114.50,189.85 114.70,188.64 114.90,190.30 115.10,188.80 115.30,190.01 115.50,190.69 115.70,188.96 115.90,188.81 116.10,188.81 116.30,191.41 116.50,189.28 116.70,188.58 116.90,190.25 117.10,189.46 117.30,189.58 117.50,188.81 117.70,187.83 117.90,189.03 118.10,188.78 118.30,188.32 118.50,188.75 118.70,188.86 118.90,190.27 119.10,190.19 119.30,190.04 119.50,189.19 119.70,188.61 119.90,189.85 120.10,189.97 120.30,190.39 120.50,189.55 120.70,189.44 120.90,189.74 121.10,188.67 121.30,188.61 121.50,189.48 121.70,187.36 121.90,187.36 122.00,187.83 122.10,187.61 122.30,188.72 122.50,188.10 122.70,189.18 122.90,189.22 123.10,190.01 123.30,189.92 123.50,189.64 123.70,191.17 123.90,190.10 124.10,189.45 124.30,189.21 124.50,189.68 124.70,189.26 124.90,191.03 125.10,190.18 125.30,189.49 125.50,189.22 125.70,188.89 125.90,189.53 126.10,190.80 126.30,190.43 126.50,189.71 126.70,189.87 126.90,188.27 127.10,190.37 127.30,189.59 127.50,190.86 127.70,189.62 127.90,189.37 128.10,189.92 128.30,189.23 128.50,190.80 128.70,189.93 128.90,189.96 129.10,189.86 129.30,189.20 129.50,189.63 129.70,188.91 129.90,189.42 130.00,187.89 130.10,188.32 130.30,188.42 130.50,188.97 130.70,189.26 130.90,190.67 131.10,189.78 131.30,190.54 131.50,189.58 131.70,189.52 131.90,188.29 132.10,190.51 132.30,191.50 132.50,189.68 132.70,191.02 132.90,190.56 133.10,189.33 133.30,190.50 133.50,189.17 133.70,189.65 133.90,190.87 134.10,190.02 134.30,188.96 134.50,191.03 134.70,189.02 134.90,189.76 135.10,189.61 135.30,189.76 135.50,189.20 135.70,188.57 135.90,191.35 136.10,189.09 136.30,189.12 136.50,187.85 136.70,189.83 136.90,190.72 137.10,190.70 137.30,191.62 137.50,190.28 137.70,188.73 137.90,187.11 138.10,187.12 138.10,185.94 138.30,187.26 138.50,187.65 138.70,189.17 138.90,191.01 139.10,189.55 139.30,190.04 139.50,187.86 139.70,190.91 139.90,190.16 140.10,191.01 140.30,190.09 140.50,189.23 140.70,188.83 140.90,190.33 141.10,189.91 141.30,189.15 141.50,189.88 141.70,189.42 141.90,190.50 142.10,189.60 142.30,188.94 142.50,189.85 142.70,189.47 142.90,191.09 143.10,189.53 143.30,188.84 143.50,189.84 143.70,189.68 143.90,190.09 144.10,190.03 144.30,189.02 144.50,189.79 144.70,189.73 144.90,188.84 145.10,189.31 145.30,189.89 145.50,188.41 145.70,188.74 145.90,189.12 146.10,189.24 146.30,189.41 146.50,187.32 146.70,187.42 146.90,185.78 147.00,186.06 147.10,184.93 147.30,186.41 147.50,187.10 147.70,189.32 147.90,190.17 148.10,188.70 148.30,189.61 148.50,189.86 148.70,189.72 148.90,188.17 149.10,188.03 149.30,185.53 149.50,183.15 149.50,184.13 149.70,185.91 149.90,186.84 150.10,188.99 150.30,190.75 150.50,188.23 150.70,190.16 150.90,190.44 151.10,189.82 151.30,190.09 151.50,189.66 151.70,190.98 151.90,189.16 152.10,189.82 152.30,188.39 152.50,190.20 152.70,190.25 152.90,188.62 153.10,189.26 153.30,190.34 153.50,189.57 153.70,189.00 153.90,187.96 154.10,190.24 154.30,191.51 154.50,189.59 154.70,190.31 154.90,190.29 155.10,189.89 155.30,190.03 155.50,190.04 155.70,189.25 155.90,191.93 156.10,192.11 156.30,190.17 156.50,191.34 156.70,189.24 156.90,189.70 157.10,190.76 157.30,188.91 157.50,188.75 157.70,190.02 157.90,188.11 158.10,190.99 158.30,190.10 158.50,189.53 158.70,189.64 158.90,188.01 159.10,187.41 159.30,187.91 159.50,186.65 159.70,184.73 159.80,184.36 159.90,184.19 160.10,187.02 160.30,186.06 160.50,187.49 160.70,188.32 160.90,187.89 161.10,188.29 161.30,188.69 161.50,190.43 161.70,191.13 161.90,190.01 162.10,188.45 162.30,189.25 162.50,189.58 162.70,189.36 162.90,189.05 163.10,189.27 163.30,186.33 163.50,186.60 163.50,187.23 163.70,188.48 163.90,189.14 164.10,189.44 164.30,189.57 164.50,189.28 164.70,189.97 164.90,189.79 165.10,189.42 165.30,190.96 165.50,190.95 165.70,189.68 165.90,190.44 166.10,190.83 166.30,189.95 166.50,189.55 166.70,189.25 166.90,186.60 167.00,186.56 167.10,188.34 167.30,189.10 167.50,190.58 167.70,189.39 167.90,190.83 168.10,190.89 168.30,191.67 168.50,189.49 168.70,189.88 168.90,190.40 169.10,190.41 169.30,189.42 169.50,189.77 169.70,189.19 169.90,192.09 170.10,190.19 170.30,190.25 170.50,189.77 170.70,190.29 170.90,190.90 171.10,190.01 171.30,190.26 171.50,192.02 171.70,191.02 171.90,190.48 172.10,189.96 172.30,190.28 172.50,189.71 172.70,190.52 172.90,189.77 173.10,189.72 173.30,189.98 173.50,189.45 173.70,190.46" fill="none" stroke="#3a5fa8" stroke-width="1.6" stroke-linejoin="round" stroke-linecap="round" opacity="1.0"/>
<polyline points="30.10,211.47 30.30,207.56 30.50,210.79 30.70,210.09 30.90,211.09 31.10,210.35 31.30,211.51 31.50,210.09 31.70,209.65 31.90,210.54 32.10,210.43 32.30,209.80 32.50,209.90 32.70,210.68 32.90,210.67 33.10,209.72 33.30,209.83 33.50,208.68 33.70,211.48 33.90,209.96 34.10,211.22 34.30,210.49 34.50,211.72 34.70,211.40 34.90,210.43 35.10,211.37 35.30,209.43 35.50,211.21 35.70,209.02 35.90,210.49 36.10,211.07 36.30,210.40 36.50,209.94 36.70,209.60 36.90,209.97 37.10,211.09 37.30,210.97 37.50,210.06 37.70,209.28 37.90,210.82 38.10,209.13 38.30,209.87 38.50,209.71 38.70,210.90 38.90,210.50 39.10,210.69 39.30,210.54 39.50,209.79 39.70,210.77 39.90,211.48 40.10,210.32 40.30,210.87 40.50,210.26 40.70,211.19 40.90,210.91 41.10,211.08 41.30,210.67 41.50,211.71 41.70,210.11 41.90,210.14 42.10,209.94 42.30,210.91 42.50,209.93 42.70,209.92 42.90,211.02 43.10,211.37 43.30,210.91 43.50,208.31 43.70,209.69 43.90,209.60 44.10,209.50 44.30,210.14 44.50,211.93 44.70,210.23 44.90,209.89 45.10,211.04 45.30,210.54 45.50,210.58 45.70,209.94 45.90,210.48 46.10,210.83 46.30,208.95 46.50,209.19 46.70,211.34 46.90,211.13 47.10,210.04 47.30,209.61 47.50,210.26 47.70,209.42 47.90,210.07 48.10,211.61 48.30,210.32 48.50,211.05 48.70,209.80 48.90,210.06 49.10,210.55 49.30,207.83 49.50,207.65 49.70,205.93 49.90,202.42 50.10,197.39 50.20,195.27 50.30,194.95 50.50,202.00 50.70,205.38 50.90,207.25 51.10,210.58 51.30,208.66 51.50,210.04 51.70,209.51 51.90,210.92 52.10,210.63 52.30,210.53 52.50,210.44 52.70,211.46 52.90,209.85 53.10,210.05 53.30,209.77 53.50,211.75 53.70,210.47 53.90,209.90 54.10,210.41 54.30,212.76 54.50,210.69 54.70,211.47 54.90,211.18 55.10,210.81 55.30,210.28 55.50,210.57 55.70,210.57 55.90,209.09 56.10,212.94 56.30,211.62 56.50,210.98 56.70,210.73 56.90,210.27 57.10,211.67 57.30,210.76 57.50,211.30 57.70,209.81 57.90,211.23 58.10,212.52 58.30,210.69 58.50,211.56 58.70,210.94 58.90,211.78 59.10,211.72 59.30,210.87 59.50,210.31 59.70,210.86 59.90,210.42 60.10,209.39 60.30,209.27 60.50,208.42 60.50,207.36 60.70,208.83 60.90,212.25 61.10,211.08 61.30,210.76 61.50,212.84 61.70,210.55 61.90,208.99 62.10,209.49 62.30,209.83 62.50,211.28 62.70,211.87 62.90,209.37 63.10,212.01 63.30,210.15 63.50,211.35 63.70,211.53 63.90,211.51 64.10,211.18 64.30,211.32 64.50,210.28 64.70,211.43 64.90,212.00 65.10,211.96 65.30,213.32 65.50,212.10 65.70,211.82 65.90,212.58 66.10,211.45 66.30,210.23 66.50,209.48 66.70,212.30 66.90,211.74 67.10,211.97 67.30,211.03 67.50,211.58 67.70,212.82 67.90,211.59 68.10,210.43 68.30,210.99 68.50,212.45 68.70,210.47 68.90,209.29 69.10,209.52 69.30,210.29 69.50,212.01 69.70,211.44 69.90,210.77 70.10,210.35 70.30,211.29 70.50,211.26 70.70,210.94 70.90,211.20 71.10,210.79 71.30,212.84 71.50,209.51 71.70,211.50 71.90,210.59 72.10,211.96 72.30,211.20 72.50,211.67 72.70,211.78 72.90,211.50 73.10,212.09 73.30,210.14 73.50,211.94 73.70,210.88 73.90,211.16 74.10,211.74 74.30,210.70 74.50,209.94 74.70,204.29 74.80,204.79 74.90,206.86 75.10,207.47 75.30,209.68 75.50,211.90 75.70,211.61 75.90,210.35 76.10,211.61 76.30,211.85 76.50,211.44 76.70,211.35 76.90,211.58 77.10,210.29 77.30,211.61 77.50,210.75 77.70,211.86 77.90,211.89 78.10,210.84 78.30,212.05 78.50,211.85 78.70,211.54 78.90,212.15 79.10,211.32 79.30,211.34 79.50,211.62 79.70,211.50 79.90,212.44 80.10,209.61 80.30,211.24 80.50,209.84 80.70,210.99 80.90,211.54 81.10,211.25 81.30,211.91 81.50,211.22 81.70,208.52 81.90,209.41 82.10,210.85 82.30,209.51 82.50,205.61 82.70,200.04 82.80,201.98 82.90,199.47 83.10,205.38 83.30,207.48 83.50,208.57 83.70,207.36 83.90,206.97 84.10,205.59 84.30,199.03 84.50,193.76 84.50,194.85 84.70,199.67 84.90,205.01 85.10,207.33 85.30,209.82 85.50,210.06 85.70,209.69 85.90,211.10 86.10,211.11 86.30,211.39 86.50,210.02 86.70,210.85 86.90,211.89 87.10,212.33 87.30,211.90 87.50,211.78 87.70,212.27 87.90,212.50 88.10,213.15 88.30,212.12 88.50,211.30 88.70,212.14 88.90,210.20 89.10,211.81 89.30,211.39 89.50,211.71 89.70,212.10 89.90,211.71 90.10,210.45 90.30,211.24 90.50,210.77 90.70,211.23 90.90,211.29 91.10,209.84 91.30,210.56 91.50,209.88 91.70,206.39 91.90,202.61 92.10,193.65 92.20,192.72 92.30,195.62 92.50,200.64 92.70,206.24 92.90,208.17 93.10,210.97 93.30,211.62 93.50,210.61 93.70,211.47 93.90,209.46 94.10,212.36 94.30,212.05 94.50,212.90 94.70,209.98 94.90,212.21 95.10,211.67 95.30,209.87 95.50,211.40 95.70,211.86 95.90,212.51 96.10,211.91 96.30,211.11 96.50,211.43 96.70,210.04 96.90,208.10 97.00,207.46 97.10,208.76 97.30,210.29 97.50,212.62 97.70,211.27 97.90,213.17 98.10,212.31 98.30,213.07 98.50,211.47 98.70,211.54 98.90,212.03 99.10,213.02 99.30,212.47 99.50,212.96 99.70,212.63 99.90,213.21 100.10,212.56 100.30,211.99 100.50,212.83 100.70,212.49 100.90,213.82 101.10,212.30 101.30,212.52 101.50,212.19 101.70,213.37 101.90,213.14 102.10,212.97 102.30,211.45 102.50,211.24 102.70,212.66 102.90,213.03 103.10,213.64 103.30,211.02 103.50,212.32 103.70,211.11 103.90,211.69 104.10,212.28 104.30,213.23 104.50,212.04 104.70,211.89 104.90,212.21 105.10,213.47 105.30,214.40 105.50,211.23 105.70,212.24 105.90,212.12 106.10,213.39 106.30,212.80 106.50,213.69 106.70,211.64 106.90,212.46 107.10,212.08 107.30,211.56 107.50,212.31 107.70,211.48 107.90,214.15 108.10,212.74 108.30,211.58 108.50,211.89 108.70,213.75 108.90,211.96 109.10,212.87 109.30,212.75 109.50,213.11 109.70,212.69 109.90,211.95 110.10,211.55 110.30,210.47 110.50,211.66 110.70,211.54 110.90,210.72 111.10,210.23 111.30,208.32 111.50,209.50 111.70,205.90 111.80,205.22 111.90,205.82 112.10,207.63 112.30,209.89 112.50,208.41 112.70,211.43 112.90,210.95 113.10,211.57 113.30,212.72 113.50,212.65 113.70,211.59 113.90,212.13 114.10,213.76 114.30,213.40 114.50,213.04 114.70,212.38 114.90,213.17 115.10,212.74 115.30,212.00 115.50,211.65 115.70,212.88 115.90,212.78 116.10,213.45 116.30,212.11 116.50,213.62 116.70,212.21 116.90,213.52 117.10,212.95 117.30,212.06 117.50,211.77 117.70,212.43 117.90,212.32 118.10,213.28 118.30,211.98 118.50,211.35 118.70,212.52 118.90,214.07 119.10,213.84 119.30,212.03 119.50,212.31 119.70,212.78 119.90,211.99 120.10,212.31 120.30,212.27 120.50,211.63 120.70,211.94 120.90,212.00 121.10,212.49 121.30,211.21 121.50,211.95 121.70,210.47 121.90,209.67 122.00,209.19 122.10,213.52 122.30,212.27 122.50,212.94 122.70,212.81 122.90,212.13 123.10,212.46 123.30,212.69 123.50,212.85 123.70,212.99 123.90,213.76 124.10,210.18 124.30,212.11 124.50,213.11 124.70,212.29 124.90,212.45 125.10,213.77 125.30,212.74 125.50,214.01 125.70,212.55 125.90,212.78 126.10,211.74 126.30,211.00 126.50,212.26 126.70,212.64 126.90,212.32 127.10,211.51 127.30,213.12 127.50,212.64 127.70,212.59 127.90,211.95 128.10,213.89 128.30,213.74 128.50,212.79 128.70,212.42 128.90,212.68 129.10,213.76 129.30,214.53 129.50,212.06 129.70,211.23 129.90,209.36 130.00,212.87 130.10,209.93 130.30,212.27 130.50,212.46 130.70,213.36 130.90,211.72 131.10,211.18 131.30,212.64 131.50,212.88 131.70,213.49 131.90,211.23 132.10,212.23 132.30,212.39 132.50,211.52 132.70,212.48 132.90,213.25 133.10,212.59 133.30,211.46 133.50,212.89 133.70,213.30 133.90,213.04 134.10,213.25 134.30,211.29 134.50,212.98 134.70,213.08 134.90,212.29 135.10,212.54 135.30,211.96 135.50,213.55 135.70,212.31 135.90,211.77 136.10,212.65 136.30,212.55 136.50,212.94 136.70,211.66 136.90,211.67 137.10,212.34 137.30,213.51 137.50,211.51 137.70,208.86 137.90,207.78 138.10,205.06 138.10,204.20 138.30,207.10 138.50,209.49 138.70,211.47 138.90,212.78 139.10,212.95 139.30,212.87 139.50,211.99 139.70,212.54 139.90,212.44 140.10,213.64 140.30,212.02 140.50,212.13 140.70,213.78 140.90,213.06 141.10,212.25 141.30,212.75 141.50,212.75 141.70,212.79 141.90,213.28 142.10,212.94 142.30,212.50 142.50,212.24 142.70,211.26 142.90,212.30 143.10,213.57 143.30,212.83 143.50,212.12 143.70,212.45 143.90,211.95 144.10,212.87 144.30,214.23 144.50,214.06 144.70,213.56 144.90,213.21 145.10,212.38 145.30,211.54 145.50,212.51 145.70,212.08 145.90,213.02 146.10,212.33 146.30,211.49 146.50,211.84 146.70,212.83 146.90,208.24 147.00,209.51 147.10,209.42 147.30,210.35 147.50,210.75 147.70,211.80 147.90,212.13 148.10,212.61 148.30,212.49 148.50,212.00 148.70,210.83 148.90,210.89 149.10,208.78 149.30,205.37 149.50,204.41 149.50,203.16 149.70,205.27 149.90,209.27 150.10,209.18 150.30,211.43 150.50,212.25 150.70,211.80 150.90,212.48 151.10,214.12 151.30,213.60 151.50,213.26 151.70,213.04 151.90,212.17 152.10,212.50 152.30,212.40 152.50,212.67 152.70,212.75 152.90,212.02 153.10,213.97 153.30,211.85 153.50,212.98 153.70,213.52 153.90,212.67 154.10,212.16 154.30,212.73 154.50,214.26 154.70,213.21 154.90,212.47 155.10,213.17 155.30,212.55 155.50,211.20 155.70,212.90 155.90,213.53 156.10,213.62 156.30,212.63 156.50,211.55 156.70,213.63 156.90,212.53 157.10,213.23 157.30,213.53 157.50,212.87 157.70,212.51 157.90,212.02 158.10,212.11 158.30,212.40 158.50,211.89 158.70,212.38 158.90,210.27 159.10,210.62 159.30,210.75 159.50,209.28 159.70,208.50 159.80,207.86 159.90,209.46 160.10,211.13 160.30,209.96 160.50,212.33 160.70,210.65 160.90,212.18 161.10,210.62 161.30,212.72 161.50,212.42 161.70,212.56 161.90,213.44 162.10,212.94 162.30,212.42 162.50,211.73 162.70,212.30 162.90,211.47 163.10,211.19 163.30,211.74 163.50,210.42 163.50,209.95 163.70,211.07 163.90,210.40 164.10,212.14 164.30,210.96 164.50,211.91 164.70,212.81 164.90,212.86 165.10,213.14 165.30,212.71 165.50,212.62 165.70,212.55 165.90,213.62 166.10,213.45 166.30,211.07 166.50,211.99 166.70,212.20 166.90,209.83 167.00,209.94 167.10,209.55 167.30,210.21 167.50,212.00 167.70,211.92 167.90,212.30 168.10,211.38 168.30,211.67 168.50,212.53 168.70,212.30 168.90,213.12 169.10,211.85 169.30,213.27 169.50,213.16 169.70,212.79 169.90,213.23 170.10,212.65 170.30,212.57 170.50,212.70 170.70,211.71 170.90,212.69 171.10,213.36 171.30,211.44 171.50,213.28 171.70,212.22 171.90,212.45 172.10,212.80 172.30,212.93 172.50,213.83 172.70,212.62 172.90,214.11 173.10,212.78 173.30,213.13 173.50,213.29 173.70,212.22" fill="none" stroke="#17927a" stroke-width="1.6" stroke-linejoin="round" stroke-linecap="round" opacity="1.0"/>
<polyline points="30.10,231.17 30.30,229.84 30.50,229.38 30.70,228.30 30.90,230.37 31.10,231.66 31.30,230.70 31.50,231.09 31.70,231.51 31.90,229.99 32.10,232.83 32.30,230.02 32.50,231.02 32.70,232.93 32.90,230.65 33.10,230.84 33.30,230.35 33.50,231.04 33.70,229.08 33.90,230.27 34.10,232.15 34.30,230.98 34.50,230.62 34.70,231.12 34.90,231.17 35.10,230.96 35.30,231.31 35.50,229.53 35.70,231.34 35.90,230.34 36.10,231.52 36.30,230.88 36.50,230.11 36.70,230.86 36.90,230.12 37.10,231.74 37.30,230.92 37.50,231.63 37.70,230.07 37.90,232.26 38.10,230.73 38.30,232.08 38.50,231.68 38.70,230.12 38.90,231.27 39.10,230.59 39.30,231.36 39.50,232.18 39.70,231.60 39.90,231.91 40.10,230.13 40.30,231.24 40.50,231.37 40.70,231.96 40.90,230.60 41.10,231.56 41.30,231.46 41.50,229.90 41.70,230.30 41.90,231.50 42.10,230.21 42.30,230.17 42.50,231.88 42.70,231.40 42.90,230.99 43.10,231.27 43.30,230.87 43.50,230.77 43.70,230.84 43.90,231.53 44.10,232.28 44.30,230.86 44.50,231.19 44.70,231.07 44.90,230.25 45.10,231.46 45.30,231.96 45.50,230.60 45.70,231.94 45.90,230.82 46.10,232.20 46.30,232.26 46.50,230.98 46.70,229.69 46.90,231.01 47.10,230.17 47.30,230.23 47.50,231.07 47.70,232.34 47.90,231.16 48.10,231.03 48.30,229.69 48.50,230.63 48.70,229.91 48.90,231.32 49.10,230.28 49.30,230.33 49.50,229.76 49.70,228.45 49.90,226.95 50.10,222.80 50.20,221.27 50.30,222.55 50.50,226.66 50.70,229.74 50.90,229.93 51.10,231.60 51.30,230.32 51.50,230.83 51.70,229.97 51.90,231.92 52.10,230.51 52.30,230.57 52.50,232.11 52.70,231.05 52.90,230.91 53.10,232.30 53.30,231.41 53.50,232.32 53.70,231.28 53.90,232.20 54.10,232.50 54.30,231.71 54.50,233.10 54.70,231.36 54.90,231.52 55.10,231.76 55.30,232.51 55.50,231.49 55.70,231.38 55.90,231.95 56.10,232.75 56.30,231.43 56.50,230.75 56.70,231.67 56.90,232.29 57.10,231.36 57.30,231.90 57.50,230.31 57.70,231.83 57.90,231.90 58.10,232.32 58.30,232.07 58.50,232.43 58.70,231.01 58.90,232.32 59.10,230.45 59.30,231.25 59.50,232.54 59.70,232.21 59.90,229.81 60.10,231.27 60.30,229.47 60.50,228.36 60.50,229.15 60.70,229.94 60.90,231.95 61.10,230.19 61.30,231.26 61.50,231.64 61.70,230.37 61.90,232.84 62.10,233.35 62.30,231.47 62.50,232.31 62.70,231.81 62.90,232.26 63.10,231.52 63.30,232.74 63.50,231.15 63.70,233.19 63.90,232.40 64.10,234.06 64.30,230.81 64.50,232.07 64.70,231.13 64.90,232.05 65.10,232.52 65.30,231.45 65.50,231.05 65.70,230.82 65.90,232.39 66.10,233.25 66.30,233.17 66.50,232.27 66.70,231.48 66.90,231.97 67.10,231.06 67.30,231.02 67.50,233.14 67.70,232.07 67.90,232.56 68.10,232.09 68.30,233.38 68.50,233.48 68.70,231.72 68.90,232.05 69.10,231.81 69.30,233.41 69.50,233.37 69.70,232.14 69.90,234.22 70.10,232.41 70.30,231.42 70.50,230.77 70.70,232.29 70.90,232.67 71.10,231.95 71.30,232.71 71.50,233.38 71.70,232.37 71.90,233.10 72.10,233.75 72.30,232.81 72.50,231.94 72.70,232.74 72.90,232.80 73.10,234.05 73.30,231.94 73.50,230.98 73.70,232.34 73.90,232.16 74.10,231.22 74.30,231.30 74.50,229.66 74.70,228.11 74.80,225.94 74.90,226.59 75.10,229.41 75.30,230.48 75.50,232.62 75.70,232.44 75.90,232.17 76.10,233.54 76.30,232.81 76.50,233.27 76.70,233.16 76.90,232.43 77.10,232.46 77.30,232.60 77.50,231.74 77.70,232.36 77.90,233.33 78.10,232.90 78.30,231.91 78.50,234.56 78.70,231.85 78.90,233.18 79.10,233.26 79.30,233.70 79.50,231.99 79.70,232.69 79.90,232.51 80.10,233.57 80.30,232.95 80.50,232.95 80.70,233.01 80.90,234.10 81.10,233.01 81.30,233.08 81.50,231.50 81.70,232.59 81.90,230.69 82.10,231.85 82.30,230.06 82.50,226.89 82.70,223.01 82.80,222.97 82.90,223.94 83.10,226.84 83.30,229.10 83.50,229.87 83.70,229.65 83.90,229.09 84.10,227.30 84.30,223.66 84.50,219.30 84.50,218.34 84.70,224.09 84.90,228.40 85.10,229.66 85.30,231.89 85.50,231.31 85.70,231.53 85.90,231.81 86.10,233.86 86.30,232.80 86.50,233.04 86.70,232.91 86.90,232.60 87.10,233.35 87.30,233.55 87.50,234.61 87.70,232.39 87.90,234.31 88.10,233.64 88.30,231.74 88.50,233.91 88.70,234.43 88.90,234.01 89.10,233.33 89.30,233.26 89.50,231.53 89.70,233.35 89.90,233.21 90.10,232.27 90.30,233.11 90.50,232.33 90.70,234.52 90.90,231.53 91.10,231.46 91.30,229.91 91.50,230.35 91.70,228.88 91.90,224.94 92.10,218.36 92.20,218.15 92.30,219.07 92.50,225.89 92.70,228.73 92.90,229.30 93.10,231.56 93.30,231.42 93.50,233.23 93.70,232.30 93.90,232.74 94.10,233.03 94.30,231.90 94.50,232.86 94.70,233.91 94.90,232.78 95.10,233.12 95.30,233.38 95.50,232.69 95.70,232.95 95.90,233.45 96.10,232.65 96.30,232.71 96.50,231.98 96.70,230.06 96.90,227.99 97.00,230.16 97.10,230.13 97.30,230.84 97.50,232.92 97.70,233.65 97.90,233.85 98.10,232.97 98.30,232.24 98.50,232.45 98.70,233.33 98.90,234.64 99.10,234.85 99.30,233.44 99.50,233.39 99.70,234.64 99.90,235.34 100.10,232.97 100.30,234.10 100.50,233.85 100.70,233.48 100.90,233.49 101.10,233.48 101.30,233.75 101.50,232.53 101.70,233.76 101.90,234.39 102.10,234.37 102.30,234.40 102.50,234.04 102.70,233.93 102.90,235.33 103.10,233.64 103.30,233.91 103.50,234.78 103.70,233.82 103.90,232.76 104.10,233.35 104.30,233.45 104.50,233.67 104.70,233.43 104.90,234.58 105.10,234.36 105.30,234.18 105.50,233.47 105.70,234.61 105.90,234.58 106.10,235.53 106.30,233.30 106.50,233.70 106.70,234.89 106.90,232.92 107.10,233.99 107.30,233.95 107.50,233.81 107.70,233.00 107.90,233.78 108.10,232.55 108.30,234.67 108.50,233.32 108.70,233.81 108.90,233.65 109.10,233.78 109.30,233.68 109.50,233.87 109.70,233.18 109.90,233.42 110.10,232.40 110.30,232.29 110.50,232.23 110.70,231.79 110.90,231.02 111.10,230.84 111.30,230.63 111.50,228.69 111.70,226.34 111.80,226.63 111.90,226.96 112.10,230.50 112.30,228.87 112.50,231.55 112.70,231.08 112.90,233.61 113.10,232.76 113.30,233.50 113.50,233.46 113.70,233.97 113.90,231.18 114.10,232.65 114.30,233.69 114.50,232.61 114.70,234.13 114.90,234.70 115.10,232.72 115.30,233.42 115.50,234.28 115.70,235.24 115.90,234.61 116.10,234.40 116.30,233.14 116.50,233.86 116.70,233.95 116.90,233.37 117.10,234.19 117.30,233.62 117.50,233.52 117.70,235.56 117.90,233.74 118.10,235.36 118.30,233.57 118.50,233.82 118.70,232.89 118.90,233.42 119.10,235.14 119.30,233.88 119.50,232.28 119.70,234.99 119.90,233.14 120.10,233.50 120.30,233.79 120.50,232.30 120.70,235.00 120.90,234.74 121.10,233.37 121.30,233.76 121.50,232.96 121.70,232.11 121.90,231.45 122.00,230.27 122.10,231.32 122.30,232.14 122.50,234.72 122.70,232.32 122.90,234.65 123.10,234.30 123.30,233.90 123.50,233.34 123.70,235.28 123.90,235.02 124.10,233.84 124.30,233.73 124.50,234.05 124.70,235.36 124.90,233.18 125.10,233.98 125.30,234.82 125.50,232.81 125.70,233.86 125.90,234.81 126.10,233.58 126.30,233.84 126.50,232.70 126.70,234.23 126.90,232.99 127.10,233.62 127.30,234.19 127.50,233.48 127.70,234.61 127.90,234.48 128.10,234.29 128.30,234.68 128.50,233.74 128.70,232.13 128.90,234.50 129.10,234.36 129.30,233.24 129.50,232.72 129.70,233.83 129.90,231.77 130.00,231.66 130.10,231.79 130.30,234.77 130.50,232.81 130.70,231.56 130.90,233.64 131.10,232.96 131.30,232.42 131.50,233.93 131.70,233.42 131.90,234.55 132.10,233.59 132.30,234.80 132.50,234.64 132.70,233.88 132.90,234.48 133.10,235.30 133.30,234.41 133.50,232.73 133.70,233.93 133.90,234.03 134.10,234.86 134.30,233.76 134.50,234.75 134.70,233.75 134.90,233.87 135.10,233.65 135.30,233.84 135.50,233.70 135.70,234.07 135.90,233.17 136.10,232.92 136.30,233.64 136.50,233.77 136.70,233.25 136.90,233.77 137.10,233.53 137.30,234.29 137.50,231.21 137.70,232.75 137.90,227.02 138.10,225.50 138.10,227.11 138.30,228.10 138.50,230.91 138.70,231.98 138.90,231.87 139.10,232.14 139.30,233.10 139.50,233.80 139.70,234.08 139.90,233.79 140.10,233.43 140.30,234.67 140.50,232.02 140.70,233.79 140.90,234.78 141.10,235.07 141.30,234.75 141.50,234.88 141.70,234.64 141.90,233.93 142.10,232.06 142.30,233.44 142.50,233.62 142.70,235.10 142.90,233.51 143.10,233.57 143.30,234.37 143.50,233.08 143.70,233.87 143.90,234.28 144.10,233.58 144.30,233.78 144.50,232.41 144.70,232.82 144.90,233.58 145.10,234.66 145.30,233.26 145.50,232.94 145.70,232.96 145.90,234.01 146.10,232.17 146.30,233.13 146.50,232.11 146.70,231.23 146.90,228.68 147.00,228.89 147.10,230.33 147.30,230.90 147.50,231.91 147.70,230.81 147.90,233.47 148.10,232.66 148.30,233.45 148.50,233.09 148.70,232.06 148.90,231.55 149.10,229.67 149.30,229.71 149.50,226.63 149.50,226.56 149.70,229.11 149.90,231.91 150.10,232.85 150.30,233.66 150.50,235.19 150.70,232.08 150.90,233.74 151.10,233.19 151.30,233.80 151.50,231.80 151.70,232.98 151.90,234.52 152.10,232.90 152.30,234.36 152.50,233.27 152.70,233.81 152.90,232.75 153.10,233.48 153.30,232.78 153.50,234.42 153.70,232.61 153.90,234.26 154.10,233.57 154.30,233.88 154.50,235.16 154.70,233.82 154.90,233.52 155.10,234.04 155.30,234.59 155.50,233.60 155.70,235.39 155.90,234.17 156.10,233.74 156.30,233.50 156.50,233.90 156.70,234.46 156.90,234.84 157.10,234.04 157.30,233.49 157.50,233.89 157.70,232.21 157.90,234.72 158.10,234.43 158.30,233.51 158.50,234.09 158.70,232.54 158.90,234.45 159.10,232.42 159.30,231.39 159.50,232.25 159.70,228.74 159.80,229.66 159.90,228.87 160.10,230.25 160.30,231.64 160.50,232.22 160.70,234.35 160.90,234.38 161.10,233.26 161.30,235.75 161.50,233.91 161.70,233.86 161.90,234.35 162.10,233.22 162.30,235.10 162.50,233.24 162.70,232.85 162.90,234.46 163.10,232.38 163.30,231.93 163.50,230.32 163.50,230.93 163.70,232.20 163.90,231.19 164.10,233.54 164.30,233.21 164.50,235.09 164.70,235.66 164.90,234.51 165.10,234.58 165.30,234.95 165.50,234.95 165.70,232.93 165.90,232.97 166.10,233.52 166.30,232.63 166.50,233.11 166.70,232.74 166.90,230.88 167.00,231.62 167.10,232.66 167.30,232.69 167.50,233.73 167.70,233.71 167.90,233.86 168.10,233.62 168.30,233.20 168.50,234.58 168.70,235.02 168.90,234.14 169.10,234.27 169.30,233.12 169.50,234.02 169.70,234.46 169.90,234.15 170.10,234.28 170.30,233.44 170.50,233.23 170.70,234.04 170.90,235.42 171.10,233.94 171.30,233.06 171.50,233.73 171.70,234.09 171.90,235.21 172.10,235.11 172.30,233.62 172.50,233.46 172.70,234.06 172.90,234.25 173.10,233.47 173.30,235.02 173.50,233.92 173.70,234.46" fill="none" stroke="#ff4a12" stroke-width="1.6" stroke-linejoin="round" stroke-linecap="round" opacity="1.0"/>
<line x1="50.20" y1="237.00" x2="50.20" y2="246.50" stroke="#f04040" stroke-width="0.8" opacity="1.0"/>
<line x1="79.50" y1="243.00" x2="79.50" y2="246.50" stroke="#f04040" stroke-width="0.8" opacity="1.0"/>
<line x1="92.30" y1="237.00" x2="92.30" y2="246.50" stroke="#f04040" stroke-width="0.8" opacity="1.0"/>
<line x1="96.70" y1="243.00" x2="96.70" y2="246.50" stroke="#f04040" stroke-width="0.8" opacity="1.0"/>
<line x1="111.80" y1="238.00" x2="111.80" y2="246.50" stroke="#f04040" stroke-width="0.8" opacity="1.0"/>
<line x1="121.50" y1="243.00" x2="121.50" y2="246.50" stroke="#f04040" stroke-width="0.8" opacity="1.0"/>
<line x1="137.00" y1="243.00" x2="137.00" y2="246.50" stroke="#f04040" stroke-width="0.8" opacity="1.0"/>
<line x1="147.50" y1="241.00" x2="147.50" y2="246.50" stroke="#f04040" stroke-width="0.8" opacity="1.0"/>
<line x1="160.00" y1="241.00" x2="160.00" y2="246.50" stroke="#f04040" stroke-width="0.8" opacity="1.0"/>
<line x1="167.00" y1="243.00" x2="167.00" y2="246.50" stroke="#f04040" stroke-width="0.8" opacity="1.0"/>
<line x1="169.00" y1="243.00" x2="169.00" y2="246.50" stroke="#f04040" stroke-width="0.8" opacity="1.0"/>
<line x1="41.65" y1="247.00" x2="41.65" y2="245.80" stroke="#333" stroke-width="0.8" opacity="1.0"/>
<line x1="53.70" y1="247.00" x2="53.70" y2="245.40" stroke="#333" stroke-width="0.8" opacity="1.0"/>
<line x1="65.75" y1="247.00" x2="65.75" y2="245.80" stroke="#333" stroke-width="0.8" opacity="1.0"/>
<line x1="77.80" y1="247.00" x2="77.80" y2="245.40" stroke="#333" stroke-width="0.8" opacity="1.0"/>
<line x1="89.85" y1="247.00" x2="89.85" y2="245.80" stroke="#333" stroke-width="0.8" opacity="1.0"/>
<line x1="101.90" y1="247.00" x2="101.90" y2="245.40" stroke="#333" stroke-width="0.8" opacity="1.0"/>
<line x1="113.95" y1="247.00" x2="113.95" y2="245.80" stroke="#333" stroke-width="0.8" opacity="1.0"/>
<line x1="126.00" y1="247.00" x2="126.00" y2="245.40" stroke="#333" stroke-width="0.8" opacity="1.0"/>
<line x1="138.05" y1="247.00" x2="138.05" y2="245.80" stroke="#333" stroke-width="0.8" opacity="1.0"/>
<line x1="150.10" y1="247.00" x2="150.10" y2="245.40" stroke="#333" stroke-width="0.8" opacity="1.0"/>
<line x1="162.15" y1="247.00" x2="162.15" y2="245.80" stroke="#333" stroke-width="0.8" opacity="1.0"/>
<text x="29.60" y="253.70" font-family="'Liberation Serif', serif" font-size="5.4" font-weight="bold" fill="#222" text-anchor="middle" textLength="5.8" lengthAdjust="spacingAndGlyphs">10</text>
<text x="53.70" y="253.70" font-family="'Liberation Serif', serif" font-size="5.4" font-weight="bold" fill="#222" text-anchor="middle" textLength="5.8" lengthAdjust="spacingAndGlyphs">20</text>
<text x="77.80" y="253.70" font-family="'Liberation Serif', serif" font-size="5.4" font-weight="bold" fill="#222" text-anchor="middle" textLength="5.8" lengthAdjust="spacingAndGlyphs">30</text>
<text x="101.90" y="253.70" font-family="'Liberation Serif', serif" font-size="5.4" font-weight="bold" fill="#222" text-anchor="middle" textLength="5.8" lengthAdjust="spacingAndGlyphs">40</text>
<text x="126.00" y="253.70" font-family="'Liberation Serif', serif" font-size="5.4" font-weight="bold" fill="#222" text-anchor="middle" textLength="5.8" lengthAdjust="spacingAndGlyphs">50</text>
<text x="150.10" y="253.70" font-family="'Liberation Serif', serif" font-size="5.4" font-weight="bold" fill="#222" text-anchor="middle" textLength="5.8" lengthAdjust="spacingAndGlyphs">60</text>
<text x="174.20" y="253.70" font-family="'Liberation Serif', serif" font-size="5.4" font-weight="bold" fill="#222" text-anchor="middle" textLength="5.8" lengthAdjust="spacingAndGlyphs">70</text>
<rect x="29.6" y="140.0" width="144.60" height="107.00" fill="none" stroke="#4a4a4a" stroke-width="1.2"/>
<text x="33.60" y="162.60" font-family="'Liberation Serif', serif" font-size="12.0" font-weight="bold" fill="#111" text-anchor="start" textLength="13.8" lengthAdjust="spacingAndGlyphs">(c)</text>
<text x="50.70" y="152.30" font-family="'Liberation Serif', serif" font-size="4.9" font-weight="bold" fill="#222" text-anchor="middle" textLength="12.3" lengthAdjust="spacingAndGlyphs">(111)</text>
<text x="93.10" y="146.60" font-family="'Liberation Serif', serif" font-size="4.9" font-weight="bold" fill="#222" text-anchor="middle" textLength="12.3" lengthAdjust="spacingAndGlyphs">(311)</text>
<text x="112.10" y="155.30" font-family="'Liberation Serif', serif" font-size="4.9" font-weight="bold" fill="#222" text-anchor="middle" textLength="12.3" lengthAdjust="spacingAndGlyphs">(400)</text>
<text x="160.60" y="153.80" font-family="'Liberation Serif', serif" font-size="4.9" font-weight="bold" fill="#222" text-anchor="middle" textLength="12.3" lengthAdjust="spacingAndGlyphs">(440)</text>
<text x="153.20" y="160.70" font-family="'Liberation Serif', serif" font-size="5.9" font-weight="bold" fill="#222" text-anchor="start" textLength="21.3" lengthAdjust="spacingAndGlyphs">LMAO-5</text>
<text x="152.40" y="182.80" font-family="'Liberation Serif', serif" font-size="5.9" font-weight="bold" fill="#222" text-anchor="start" textLength="21.5" lengthAdjust="spacingAndGlyphs">LMAO-4</text>
<text x="149.50" y="206.80" font-family="'Liberation Serif', serif" font-size="5.9" font-weight="bold" fill="#222" text-anchor="start" textLength="21.4" lengthAdjust="spacingAndGlyphs">LMAO-3</text>
<text x="158.30" y="226.70" font-family="'Liberation Serif', serif" font-size="5.9" font-weight="bold" fill="#222" text-anchor="start" textLength="13.3" lengthAdjust="spacingAndGlyphs">LMO</text>
<text x="137.00" y="241.50" font-family="'Liberation Serif', serif" font-size="3.8" font-weight="bold" fill="#333" text-anchor="start" textLength="29.5" lengthAdjust="spacingAndGlyphs">PDF NO.88-1030</text>
<text x="22.60" y="193.50" font-family="'Liberation Serif', serif" font-size="6.6" font-weight="bold" fill="#222" text-anchor="middle" textLength="39.3" lengthAdjust="spacingAndGlyphs" transform="rotate(-90 22.6 193.5)">Itensity (a.u.)</text>
<text x="102.30" y="265.40" font-family="'Liberation Serif', serif" font-size="7.2" font-weight="bold" fill="#111" text-anchor="middle" textLength="16.4" lengthAdjust="spacingAndGlyphs">2θ (°)</text>
<line x1="226.10" y1="147.00" x2="226.10" y2="248.50" stroke="#e8a8f4" stroke-width="1.2" opacity="1.0"/>
<line x1="269.40" y1="147.00" x2="269.40" y2="248.50" stroke="#e8a8f4" stroke-width="1.2" opacity="1.0"/>
<line x1="289.80" y1="147.00" x2="289.80" y2="248.50" stroke="#e8a8f4" stroke-width="1.2" opacity="1.0"/>
<line x1="340.70" y1="147.00" x2="340.70" y2="248.50" stroke="#e8a8f4" stroke-width="1.2" opacity="1.0"/>
<polyline points="203.90,170.30 204.10,172.15 204.30,166.89 204.50,172.45 204.70,169.69 204.90,168.49 205.10,168.50 205.30,168.06 205.50,169.44 205.70,171.14 205.90,170.75 206.10,170.85 206.30,167.12 206.50,167.33 206.70,172.33 206.90,171.41 207.10,173.36 207.30,171.81 207.50,168.24 207.70,171.94 207.90,170.90 208.10,170.24 208.30,168.60 208.50,169.92 208.70,169.68 208.90,171.35 209.10,170.13 209.30,172.47 209.50,168.70 209.70,170.70 209.90,170.75 210.10,168.57 210.30,168.07 210.50,171.58 210.70,170.79 210.90,169.71 211.10,170.60 211.30,168.89 211.50,170.35 211.70,169.00 211.90,170.27 212.10,171.54 212.30,169.41 212.50,171.31 212.70,168.29 212.90,169.47 213.10,167.73 213.30,169.74 213.50,170.01 213.70,169.54 213.90,169.40 214.10,171.94 214.30,172.03 214.50,167.75 214.70,171.50 214.90,166.77 215.10,168.23 215.30,168.97 215.50,169.20 215.70,167.01 215.90,167.03 216.10,167.50 216.30,164.82 216.50,162.11 216.70,158.41 216.90,149.60 217.00,145.80 217.10,148.10 217.30,157.23 217.50,162.26 217.70,164.90 217.90,165.43 218.10,168.88 218.30,168.13 218.50,168.29 218.70,168.96 218.90,169.55 219.10,170.98 219.30,168.24 219.50,167.96 219.70,168.82 219.90,167.02 220.10,170.25 220.30,169.51 220.50,168.93 220.70,167.40 220.90,168.54 221.10,168.80 221.30,167.70 221.50,166.26 221.70,163.88 221.90,168.02 222.00,165.94 222.10,165.17 222.30,168.03 222.50,167.30 222.70,164.69 222.90,167.04 223.10,167.03 223.30,169.31 223.50,164.94 223.70,167.59 223.90,168.19 224.10,170.88 224.30,167.04 224.50,164.21 224.70,166.83 224.90,169.56 225.10,170.52 225.30,172.06 225.50,169.96 225.70,168.05 225.90,170.73 226.10,169.24 226.30,168.83 226.50,169.01 226.70,170.74 226.90,166.81 227.10,165.85 227.30,166.04 227.50,163.48 227.70,157.34 227.90,150.29 228.00,150.79 228.10,153.84 228.30,159.80 228.50,164.70 228.70,168.16 228.90,164.34 229.10,165.87 229.30,167.61 229.50,167.11 229.70,167.61 229.90,169.40 230.10,167.28 230.30,168.64 230.50,166.05 230.70,167.70 230.90,171.32 231.10,168.18 231.30,169.41 231.50,169.83 231.70,167.67 231.90,169.10 232.10,168.17 232.30,168.53 232.50,165.92 232.70,164.08 232.90,164.13 233.10,164.21 233.30,165.27 233.50,163.47 233.70,162.67 233.90,162.75 234.00,164.76 234.10,162.12 234.30,165.73 234.50,161.83 234.70,163.47 234.90,166.47 235.10,166.60 235.30,165.02 235.50,166.76 235.70,166.28 235.90,169.18 236.10,169.01 236.30,167.29 236.50,169.29 236.70,168.24 236.90,168.85 237.10,169.17 237.30,168.23 237.50,169.85 237.70,169.91 237.90,169.83 238.10,170.87 238.30,168.59 238.50,166.55 238.70,168.03 238.90,169.00 239.10,168.59 239.30,169.36 239.50,169.62 239.70,168.08 239.90,168.08 240.00,166.69 240.10,169.95 240.30,167.98 240.50,166.81 240.70,166.95 240.90,168.28 241.10,171.65 241.30,170.63 241.50,166.90 241.70,169.61 241.90,170.43 242.10,171.18 242.30,170.89 242.50,169.46 242.70,171.27 242.90,169.84 243.10,167.25 243.30,169.80 243.50,169.92 243.70,172.62 243.90,172.86 244.10,169.56 244.30,171.58 244.50,171.50 244.70,169.11 244.90,168.17 245.10,171.35 245.30,171.76 245.50,170.63 245.70,167.28 245.90,171.60 246.10,170.76 246.30,170.29 246.50,171.23 246.70,169.97 246.90,172.70 247.10,171.84 247.30,170.95 247.50,172.32 247.70,171.84 247.90,169.49 248.10,171.71 248.30,171.23 248.50,169.19 248.70,170.95 248.90,172.70 249.10,171.04 249.30,174.30 249.50,174.78 249.70,171.59 249.90,172.98 250.10,175.30 250.30,171.59 250.50,170.70 250.70,171.48 250.90,169.96 251.10,170.02 251.30,172.52 251.50,171.53 251.70,172.60 251.90,173.00 252.10,171.00 252.30,171.92 252.50,171.81 252.70,171.17 252.90,170.91 253.10,172.75 253.30,172.02 253.50,172.77 253.70,173.84 253.90,173.85 254.10,170.44 254.30,170.83 254.50,171.77 254.70,172.34 254.90,173.60 255.10,170.51 255.30,171.28 255.50,172.27 255.70,173.71 255.90,173.77 256.10,169.69 256.30,170.58 256.50,169.03 256.70,170.70 256.90,168.36 257.10,163.86 257.30,157.27 257.50,150.03 257.60,149.25 257.70,148.35 257.90,157.77 258.10,164.67 258.30,167.75 258.50,169.99 258.70,168.85 258.90,170.11 259.10,168.12 259.30,171.85 259.50,173.68 259.70,168.83 259.90,171.23 260.10,173.78 260.30,172.19 260.50,169.45 260.70,174.40 260.90,170.30 261.10,174.81 261.30,171.72 261.50,171.56 261.70,172.76 261.90,172.70 262.10,173.72 262.30,173.59 262.50,172.56 262.70,174.93 262.90,173.97 263.10,173.28 263.30,173.08 263.50,172.72 263.70,172.76 263.90,173.95 264.10,173.66 264.30,172.97 264.50,174.53 264.70,172.49 264.90,173.61 265.10,174.29 265.30,171.12 265.50,172.48 265.70,175.56 265.90,171.35 266.10,174.70 266.30,171.14 266.50,173.45 266.70,171.06 266.90,171.72 267.10,172.03 267.30,171.65 267.50,174.01 267.70,173.55 267.90,173.35 268.10,171.89 268.30,173.62 268.50,171.71 268.70,168.93 268.90,163.64 269.10,160.47 269.30,152.06 269.40,149.35 269.50,152.15 269.70,160.58 269.90,164.80 270.10,169.25 270.30,170.52 270.50,171.36 270.70,170.84 270.90,170.96 271.10,172.05 271.30,174.20 271.50,175.58 271.70,171.09 271.90,169.66 272.10,170.20 272.30,168.35 272.50,167.13 272.70,165.24 272.90,159.48 273.00,161.23 273.10,162.24 273.30,167.12 273.50,170.85 273.70,171.50 273.90,174.66 274.10,170.92 274.30,172.60 274.50,172.73 274.70,173.36 274.90,174.45 275.10,172.41 275.30,175.75 275.50,175.12 275.70,173.70 275.90,173.93 276.10,171.67 276.30,169.28 276.50,173.13 276.70,173.79 276.90,173.66 277.10,171.55 277.30,172.58 277.50,176.10 277.70,174.45 277.90,174.25 278.10,172.74 278.30,174.37 278.50,175.17 278.70,174.23 278.90,172.22 279.10,173.08 279.30,170.83 279.50,171.03 279.70,171.07 279.90,166.39 280.10,162.26 280.20,163.81 280.30,162.36 280.50,168.44 280.70,169.61 280.90,169.65 281.10,172.16 281.30,171.94 281.50,169.52 281.70,170.91 281.90,172.18 282.10,175.16 282.30,171.81 282.50,172.50 282.70,173.26 282.90,172.23 283.10,170.38 283.30,172.06 283.50,168.45 283.70,157.03 283.90,158.26 283.90,157.60 284.10,162.49 284.30,166.53 284.50,170.77 284.70,174.11 284.90,174.66 285.10,175.32 285.30,174.49 285.50,174.52 285.70,174.71 285.90,171.56 286.10,177.04 286.30,173.88 286.50,174.08 286.70,173.81 286.90,174.41 287.10,170.32 287.30,174.08 287.50,171.74 287.70,172.20 287.90,170.84 288.10,171.08 288.30,174.75 288.50,173.06 288.70,173.69 288.90,173.59 289.10,172.03 289.30,172.76 289.50,171.89 289.70,173.41 289.90,170.38 290.10,173.30 290.30,175.37 290.50,175.85 290.70,175.76 290.90,174.74 291.10,172.36 291.30,175.40 291.50,174.79 291.70,174.40 291.90,172.05 292.10,174.61 292.30,176.24 292.50,175.18 292.70,173.64 292.90,174.88 293.10,174.02 293.30,174.30 293.50,175.37 293.70,174.58 293.90,174.15 294.10,174.65 294.30,172.74 294.50,172.46 294.70,174.82 294.90,173.11 295.10,174.95 295.30,171.14 295.50,175.97 295.70,173.91 295.90,176.72 296.10,170.14 296.30,171.40 296.50,176.31 296.70,174.33 296.90,174.56 297.10,174.28 297.30,174.34 297.50,174.93 297.70,172.47 297.90,173.81 298.10,176.13 298.30,174.34 298.50,173.06 298.70,174.18 298.90,175.67 299.10,173.67 299.30,173.67 299.50,174.69 299.70,175.20 299.90,176.11 300.10,173.45 300.30,174.04 300.50,174.91 300.70,169.85 300.90,172.51 301.10,172.05 301.30,169.77 301.50,167.15 301.60,169.20 301.70,170.49 301.90,169.78 302.10,170.58 302.30,171.97 302.50,175.40 302.70,175.29 302.90,173.63 303.10,171.99 303.30,171.84 303.50,173.43 303.70,173.51 303.90,174.49 304.10,172.31 304.30,173.94 304.50,175.02 304.70,171.51 304.90,177.87 305.10,175.15 305.30,175.09 305.50,172.19 305.70,172.64 305.90,175.91 306.10,175.71 306.30,170.42 306.50,176.15 306.70,175.47 306.90,175.31 307.10,172.55 307.30,174.74 307.50,173.36 307.70,175.23 307.90,177.27 308.10,175.36 308.30,175.96 308.50,173.84 308.70,172.71 308.90,174.36 309.10,175.99 309.30,176.68 309.50,174.23 309.70,174.73 309.90,173.68 310.10,171.56 310.30,174.44 310.50,174.84 310.70,173.62 310.90,173.99 311.10,171.37 311.30,174.32 311.50,176.42 311.70,174.15 311.90,175.12 312.10,174.84 312.30,172.89 312.50,174.40 312.70,172.72 312.90,178.64 313.10,174.25 313.30,172.12 313.50,171.34 313.70,176.10 313.90,174.60 314.10,174.15 314.30,171.22 314.50,172.34 314.70,171.13 314.90,174.62 315.10,171.79 315.30,175.41 315.50,172.81 315.70,171.03 315.90,173.16 316.10,167.01 316.30,168.22 316.50,167.90 316.70,169.01 316.90,167.54 317.10,164.71 317.30,159.55 317.50,160.02 317.70,158.19 317.80,161.83 317.90,159.26 318.10,161.82 318.30,165.38 318.50,164.06 318.70,166.99 318.90,166.75 319.10,168.69 319.30,169.70 319.50,170.48 319.70,171.23 319.90,171.03 320.10,175.09 320.30,171.43 320.50,173.17 320.70,172.55 320.90,169.63 321.10,174.98 321.30,173.95 321.50,171.52 321.70,172.67 321.90,171.35 322.10,174.48 322.30,176.60 322.50,176.12 322.70,172.17 322.90,171.54 323.10,175.19 323.30,177.09 323.50,174.52 323.70,176.15 323.90,172.28 324.10,174.36 324.30,175.28 324.50,173.94 324.70,174.26 324.90,175.74 325.10,173.67 325.30,173.11 325.50,175.91 325.70,175.12 325.90,173.16 326.10,175.46 326.30,173.89 326.50,175.82 326.70,174.80 326.90,174.37 327.10,173.61 327.30,175.18 327.50,174.80 327.70,177.91 327.90,174.82 328.10,172.75 328.30,178.23 328.50,171.67 328.70,177.58 328.90,173.57 329.10,177.18 329.30,174.67 329.50,175.85 329.70,175.03 329.90,174.82 330.10,175.84 330.30,173.98 330.50,175.78 330.70,173.30 330.90,173.86 331.10,174.23 331.30,174.89 331.50,177.00 331.70,173.73 331.90,173.69 332.10,173.28 332.30,174.43 332.50,175.99 332.70,173.90 332.90,174.63 333.10,174.17 333.30,175.25 333.50,171.90 333.70,176.08 333.90,176.61 334.10,173.80 334.30,175.03 334.50,173.70 334.70,176.76 334.90,176.17 335.10,179.81 335.30,174.85 335.50,173.78 335.70,174.42 335.90,173.19 336.10,175.54 336.30,175.71 336.50,176.70 336.70,175.87 336.90,174.57 337.10,177.31 337.30,176.17 337.50,176.58 337.70,173.38 337.90,173.92 338.10,174.24 338.30,174.64 338.50,171.77 338.70,177.20 338.90,174.94 339.10,176.63 339.30,176.52 339.50,177.67 339.70,176.19 339.90,175.87 340.10,174.08 340.30,175.45 340.50,178.05 340.70,172.40 340.90,174.06 341.10,175.59 341.30,177.67 341.50,173.24 341.70,174.14 341.90,174.90 342.10,179.28 342.30,172.32 342.50,172.30 342.70,171.53 342.90,166.08 343.00,167.16 343.10,167.88 343.30,169.79 343.50,173.16 343.70,176.53 343.90,174.60 344.10,174.08 344.30,173.79 344.50,175.51 344.70,176.91 344.90,175.56 345.10,175.88 345.30,179.67 345.50,174.25 345.70,173.77 345.90,175.96 346.10,175.20 346.30,176.48 346.50,177.56 346.70,176.17 346.90,175.30 347.10,176.45 347.30,176.41 347.50,175.50 347.70,174.74 347.90,176.73 348.10,175.35 348.30,173.85 348.50,176.78 348.70,174.87 348.90,174.84 349.10,176.75 349.30,174.46 349.50,175.44 349.70,174.16 349.90,173.29 350.10,176.21 350.30,178.23 350.50,174.35 350.70,177.61 350.90,177.46 351.10,178.17 351.30,174.06 351.50,174.74 351.70,178.41" fill="none" stroke="#1f6aa8" stroke-width="1.7" stroke-linejoin="round" stroke-linecap="round" opacity="1.0"/>
<polyline points="203.90,219.62 204.10,219.91 204.30,219.71 204.50,220.74 204.70,223.98 204.90,219.00 205.10,222.95 205.30,223.31 205.50,220.53 205.70,219.75 205.90,221.37 206.10,222.28 206.30,223.50 206.50,221.22 206.70,222.16 206.90,218.81 207.00,218.15 207.10,216.84 207.30,217.94 207.50,219.51 207.70,220.78 207.90,218.77 208.10,222.58 208.30,221.48 208.50,220.96 208.70,221.07 208.90,225.81 209.10,223.09 209.30,221.60 209.50,221.70 209.70,226.34 209.90,222.64 210.10,225.61 210.30,226.12 210.50,220.24 210.70,226.24 210.90,223.85 211.10,222.55 211.30,223.51 211.50,225.37 211.70,225.16 211.90,225.33 212.10,223.57 212.30,226.86 212.50,227.30 212.70,227.90 212.90,226.64 213.10,228.15 213.30,228.54 213.50,226.38 213.70,226.74 213.90,226.33 214.10,226.34 214.30,226.91 214.50,222.86 214.70,225.14 214.90,226.50 215.10,222.40 215.30,223.51 215.50,228.40 215.70,224.21 215.90,225.21 216.10,226.60 216.30,225.28 216.50,224.70 216.70,225.29 216.90,225.47 217.10,225.27 217.30,226.53 217.50,228.85 217.70,226.88 217.90,228.94 218.10,227.56 218.30,227.75 218.50,227.38 218.70,225.99 218.90,227.17 219.10,227.01 219.30,224.76 219.50,227.76 219.70,227.50 219.90,227.18 220.10,225.70 220.30,222.38 220.50,228.94 220.70,226.46 220.90,223.06 221.10,227.55 221.30,225.34 221.50,227.48 221.70,226.11 221.90,227.95 222.10,226.32 222.30,226.15 222.50,225.59 222.70,226.84 222.90,222.12 223.10,225.07 223.30,222.76 223.50,218.34 223.70,215.15 223.90,207.33 224.10,196.26 224.30,184.07 224.40,178.93 224.50,183.80 224.70,197.80 224.90,209.29 225.10,217.96 225.30,219.51 225.50,223.26 225.70,227.73 225.90,224.90 226.10,225.41 226.30,226.20 226.50,227.57 226.70,225.98 226.90,226.86 227.10,224.67 227.30,225.99 227.50,226.20 227.70,226.12 227.90,227.39 228.10,229.33 228.30,227.71 228.50,226.30 228.70,228.90 228.90,228.86 229.10,226.43 229.30,228.98 229.50,227.10 229.70,227.87 229.90,227.77 230.10,230.32 230.30,227.75 230.50,228.62 230.70,229.48 230.90,230.90 231.10,231.19 231.30,227.72 231.50,231.30 231.70,229.94 231.90,231.43 232.10,231.25 232.30,228.76 232.50,229.73 232.70,229.25 232.90,230.36 233.10,232.46 233.30,229.95 233.50,228.85 233.70,234.01 233.90,228.42 234.10,230.06 234.30,230.08 234.50,228.12 234.70,231.46 234.90,231.94 235.10,230.16 235.30,230.43 235.50,230.12 235.70,227.61 235.90,230.86 236.10,228.53 236.30,229.03 236.50,231.24 236.70,232.13 236.90,229.31 237.10,232.57 237.30,233.62 237.50,231.11 237.70,230.76 237.90,231.25 238.10,230.33 238.30,229.65 238.50,232.09 238.70,232.25 238.90,230.35 239.10,230.54 239.30,230.24 239.50,230.16 239.70,229.78 239.90,228.96 240.10,232.84 240.30,230.84 240.50,231.52 240.70,234.28 240.90,230.65 241.10,232.35 241.30,229.28 241.50,230.44 241.70,232.56 241.90,231.04 242.10,229.18 242.30,229.02 242.50,232.00 242.70,229.99 242.90,232.56 243.10,231.92 243.30,230.98 243.50,231.39 243.70,232.69 243.90,231.55 244.10,230.00 244.30,232.04 244.50,230.95 244.70,231.15 244.90,232.42 245.10,232.04 245.30,233.13 245.50,231.22 245.70,230.79 245.90,230.98 246.10,232.10 246.30,230.23 246.50,230.92 246.70,230.15 246.90,230.24 247.10,231.16 247.30,235.22 247.50,230.78 247.70,231.74 247.90,231.42 248.10,230.91 248.30,231.11 248.50,233.95 248.70,230.20 248.90,232.70 249.10,230.48 249.30,226.80 249.50,224.64 249.70,220.45 249.90,216.03 249.90,219.52 250.10,221.82 250.30,226.49 250.50,226.57 250.70,230.21 250.90,229.37 251.10,234.43 251.30,230.77 251.50,231.53 251.70,231.86 251.90,230.56 252.10,230.76 252.30,230.80 252.50,232.78 252.70,230.33 252.90,231.23 253.10,232.00 253.30,230.85 253.50,229.35 253.70,229.60 253.90,230.79 254.10,229.90 254.30,232.87 254.50,231.34 254.70,231.21 254.90,229.60 255.10,231.88 255.30,230.37 255.50,229.27 255.70,229.54 255.90,233.94 256.10,228.87 256.30,227.88 256.50,230.17 256.70,228.23 256.90,224.59 257.10,223.89 257.30,214.65 257.50,211.43 257.60,208.77 257.70,214.17 257.90,216.60 258.10,225.07 258.30,224.66 258.50,226.21 258.70,224.25 258.90,223.81 259.10,223.38 259.30,222.06 259.50,211.90 259.70,199.58 259.80,202.42 259.90,204.85 260.10,212.57 260.30,222.20 260.50,227.20 260.70,229.39 260.90,226.37 261.10,229.67 261.30,228.88 261.50,231.92 261.70,230.82 261.90,228.98 262.10,231.15 262.30,232.02 262.50,228.75 262.70,229.11 262.90,230.20 263.10,230.80 263.30,230.39 263.50,228.42 263.70,228.81 263.90,231.17 264.10,231.82 264.30,229.74 264.50,231.30 264.70,233.88 264.90,230.48 265.10,229.96 265.30,229.33 265.50,230.89 265.70,230.14 265.90,229.68 266.10,228.01 266.30,228.28 266.50,226.88 266.70,223.90 266.90,222.62 267.10,213.05 267.30,208.21 267.50,196.11 267.70,191.64 267.70,193.30 267.90,196.41 268.10,206.84 268.30,215.52 268.50,223.07 268.70,226.65 268.90,226.62 269.10,228.79 269.30,231.57 269.50,230.29 269.70,227.59 269.90,229.03 270.10,229.81 270.30,231.37 270.50,229.98 270.70,233.09 270.90,230.13 271.10,233.21 271.30,229.46 271.50,232.12 271.70,229.43 271.90,229.80 272.10,227.97 272.30,224.56 272.40,222.89 272.50,220.68 272.70,223.75 272.90,222.78 273.10,231.79 273.30,232.44 273.50,232.65 273.70,229.63 273.90,236.04 274.10,230.81 274.30,233.38 274.50,229.56 274.70,231.23 274.90,234.21 275.10,233.95 275.30,230.65 275.50,232.27 275.70,234.20 275.90,229.54 276.10,233.69 276.30,230.03 276.50,233.50 276.70,232.10 276.90,234.08 277.10,231.70 277.30,231.96 277.50,231.95 277.70,230.99 277.90,232.06 278.10,230.88 278.30,231.59 278.50,233.56 278.70,231.96 278.90,234.17 279.10,233.58 279.30,233.77 279.50,230.63 279.70,233.09 279.90,234.71 280.10,233.85 280.30,234.35 280.50,234.80 280.70,229.96 280.90,233.25 281.10,233.19 281.30,231.99 281.50,230.18 281.70,232.47 281.90,231.95 282.10,235.27 282.30,234.20 282.50,231.42 282.70,230.34 282.90,230.60 283.10,231.80 283.30,230.66 283.50,234.87 283.70,229.73 283.90,231.38 284.10,231.63 284.30,231.91 284.50,229.61 284.70,230.54 284.90,230.97 285.10,230.95 285.30,229.20 285.50,229.28 285.70,229.69 285.90,231.88 286.10,226.32 286.30,228.60 286.50,229.11 286.70,223.29 286.90,226.49 287.10,224.83 287.30,220.81 287.50,220.10 287.70,218.68 287.90,213.99 288.10,213.08 288.30,210.45 288.30,211.06 288.50,212.85 288.70,214.13 288.90,218.95 289.10,218.30 289.30,218.88 289.50,224.11 289.70,225.78 289.90,226.28 290.10,226.54 290.30,226.41 290.50,227.38 290.70,231.44 290.90,230.78 291.10,230.13 291.30,231.00 291.50,230.09 291.70,229.43 291.90,230.37 292.10,231.23 292.30,228.87 292.50,229.33 292.70,228.99 292.90,231.12 293.10,232.89 293.30,229.87 293.50,230.25 293.70,229.56 293.90,231.41 294.10,230.29 294.30,230.60 294.50,230.46 294.70,235.78 294.90,232.04 295.10,231.11 295.30,231.37 295.50,233.36 295.70,233.35 295.90,231.96 296.10,227.97 296.30,231.91 296.50,230.87 296.70,228.89 296.90,227.57 296.90,226.94 297.10,229.60 297.30,228.78 297.50,232.13 297.70,230.50 297.90,231.14 298.10,231.36 298.30,231.40 298.50,231.66 298.70,233.74 298.90,235.10 299.10,231.57 299.30,231.09 299.50,234.76 299.70,232.28 299.90,233.27 300.10,233.09 300.30,234.30 300.50,231.46 300.70,234.68 300.90,234.12 301.10,229.36 301.30,232.57 301.50,232.19 301.70,233.35 301.90,232.59 302.10,231.40 302.30,231.92 302.50,232.84 302.70,232.07 302.90,231.32 303.10,234.40 303.30,230.60 303.50,226.34 303.70,226.68 303.80,226.73 303.90,224.92 304.10,228.31 304.30,228.47 304.50,227.41 304.70,232.19 304.90,233.09 305.10,233.37 305.30,232.36 305.50,231.80 305.70,233.22 305.90,233.60 306.10,234.44 306.30,235.16 306.50,234.36 306.70,232.20 306.90,233.06 307.10,230.95 307.30,234.33 307.50,234.14 307.70,235.12 307.90,234.02 308.10,235.75 308.30,232.18 308.50,233.81 308.70,232.91 308.90,232.96 309.10,230.51 309.30,232.13 309.50,230.16 309.70,232.79 309.90,232.21 310.10,233.52 310.30,230.42 310.50,232.47 310.70,232.89 310.90,229.64 311.10,235.86 311.30,234.03 311.50,232.05 311.70,236.23 311.90,235.38 312.10,229.31 312.30,232.73 312.50,232.20 312.70,233.23 312.90,231.62 313.10,232.66 313.30,233.14 313.50,228.98 313.70,233.01 313.90,234.87 314.10,232.58 314.30,233.77 314.50,233.72 314.70,230.25 314.90,227.70 315.10,223.90 315.20,221.76 315.30,226.88 315.50,227.81 315.70,230.73 315.90,232.78 316.10,234.37 316.30,230.30 316.50,231.10 316.70,233.13 316.90,233.85 317.10,231.19 317.30,230.99 317.50,234.44 317.70,234.40 317.90,232.82 318.10,232.83 318.30,232.29 318.50,231.43 318.70,231.90 318.90,233.56 319.10,232.99 319.30,234.81 319.50,231.16 319.70,230.55 319.90,234.13 320.10,231.70 320.30,232.67 320.50,233.18 320.70,231.08 320.90,230.59 321.10,233.38 321.30,228.55 321.50,233.73 321.70,229.76 321.90,233.64 322.10,232.55 322.30,231.96 322.50,231.64 322.70,229.88 322.90,225.38 323.10,225.38 323.30,220.28 323.40,220.05 323.50,219.85 323.70,223.60 323.90,228.93 324.10,231.01 324.30,231.04 324.50,229.42 324.70,230.22 324.90,230.30 325.10,233.75 325.30,232.72 325.50,231.82 325.70,231.05 325.90,229.31 326.10,230.26 326.30,224.30 326.50,219.21 326.70,217.75 326.70,217.42 326.90,220.53 327.10,224.09 327.30,227.17 327.50,232.13 327.70,232.28 327.90,234.58 328.10,231.82 328.30,232.67 328.50,231.47 328.70,235.72 328.90,230.50 329.10,234.23 329.30,235.87 329.50,231.83 329.70,231.09 329.90,231.79 330.10,231.15 330.30,233.99 330.50,233.29 330.70,232.00 330.90,233.00 331.10,235.86 331.30,233.05 331.50,232.81 331.70,236.53 331.90,232.01 332.10,232.67 332.30,235.74 332.50,233.43 332.70,230.30 332.90,231.93 333.10,229.68 333.30,232.20 333.50,233.70 333.70,230.51 333.90,235.52 334.10,235.03 334.30,234.22 334.50,231.69 334.70,232.81 334.90,233.54 335.10,234.05 335.30,234.41 335.50,228.73 335.70,230.83 335.90,229.85 336.10,230.84 336.30,231.33 336.50,234.18 336.70,229.75 336.90,230.59 337.10,228.35 337.30,226.90 337.50,228.22 337.70,221.78 337.90,222.52 338.10,222.60 338.30,223.08 338.50,216.12 338.50,215.46 338.70,215.59 338.90,218.64 339.10,221.45 339.30,223.61 339.50,227.27 339.70,226.49 339.90,228.73 340.10,226.53 340.30,228.88 340.50,230.31 340.70,227.25 340.90,231.63 341.10,233.18 341.30,232.15 341.50,232.59 341.70,232.42 341.90,230.67 342.10,232.79 342.30,231.92 342.50,233.06 342.70,233.10 342.90,233.24 343.10,230.98 343.30,233.03 343.50,235.94 343.70,234.64 343.90,232.73 344.10,231.86 344.30,234.51 344.50,232.72 344.70,229.54 344.90,231.10 345.10,233.50 345.30,226.36 345.50,227.21 345.60,225.52 345.70,227.01 345.90,228.46 346.10,229.46 346.30,227.79 346.50,232.20 346.70,232.97 346.90,232.94 347.10,231.61 347.30,232.45 347.50,237.10 347.70,231.79 347.90,233.12 348.10,231.68 348.30,233.37 348.50,234.16 348.70,235.75 348.90,234.18 349.10,233.85 349.30,234.45 349.50,234.80 349.70,233.85 349.90,233.89 350.10,235.91 350.30,232.80 350.50,233.83 350.70,232.50 350.90,233.15 351.10,236.39 351.30,232.87 351.50,234.84 351.70,237.42" fill="none" stroke="#ff1010" stroke-width="1.7" stroke-linejoin="round" stroke-linecap="round" opacity="1.0"/>
<line x1="226.00" y1="240.00" x2="226.00" y2="248.50" stroke="#a040e0" stroke-width="1.0" opacity="1.0"/>
<line x1="256.50" y1="244.00" x2="256.50" y2="248.50" stroke="#a040e0" stroke-width="1.0" opacity="1.0"/>
<line x1="270.00" y1="240.00" x2="270.00" y2="248.50" stroke="#a040e0" stroke-width="1.0" opacity="1.0"/>
<line x1="274.50" y1="244.00" x2="274.50" y2="248.50" stroke="#a040e0" stroke-width="1.0" opacity="1.0"/>
<line x1="290.00" y1="240.00" x2="290.00" y2="248.50" stroke="#a040e0" stroke-width="1.0" opacity="1.0"/>
<line x1="301.00" y1="244.00" x2="301.00" y2="248.50" stroke="#a040e0" stroke-width="1.0" opacity="1.0"/>
<line x1="318.00" y1="244.00" x2="318.00" y2="248.50" stroke="#a040e0" stroke-width="1.0" opacity="1.0"/>
<line x1="327.00" y1="244.00" x2="327.00" y2="248.50" stroke="#a040e0" stroke-width="1.0" opacity="1.0"/>
<line x1="340.70" y1="240.00" x2="340.70" y2="248.50" stroke="#a040e0" stroke-width="1.0" opacity="1.0"/>
<line x1="349.00" y1="244.00" x2="349.00" y2="248.50" stroke="#a040e0" stroke-width="1.0" opacity="1.0"/>
<line x1="215.80" y1="249.00" x2="215.80" y2="247.80" stroke="#333" stroke-width="0.8" opacity="1.0"/>
<line x1="228.20" y1="249.00" x2="228.20" y2="247.40" stroke="#333" stroke-width="0.8" opacity="1.0"/>
<line x1="240.60" y1="249.00" x2="240.60" y2="247.80" stroke="#333" stroke-width="0.8" opacity="1.0"/>
<line x1="253.00" y1="249.00" x2="253.00" y2="247.40" stroke="#333" stroke-width="0.8" opacity="1.0"/>
<line x1="265.40" y1="249.00" x2="265.40" y2="247.80" stroke="#333" stroke-width="0.8" opacity="1.0"/>
<line x1="277.80" y1="249.00" x2="277.80" y2="247.40" stroke="#333" stroke-width="0.8" opacity="1.0"/>
<line x1="290.20" y1="249.00" x2="290.20" y2="247.80" stroke="#333" stroke-width="0.8" opacity="1.0"/>
<line x1="302.60" y1="249.00" x2="302.60" y2="247.40" stroke="#333" stroke-width="0.8" opacity="1.0"/>
<line x1="315.00" y1="249.00" x2="315.00" y2="247.80" stroke="#333" stroke-width="0.8" opacity="1.0"/>
<line x1="327.40" y1="249.00" x2="327.40" y2="247.40" stroke="#333" stroke-width="0.8" opacity="1.0"/>
<line x1="339.80" y1="249.00" x2="339.80" y2="247.80" stroke="#333" stroke-width="0.8" opacity="1.0"/>
<text x="203.40" y="256.00" font-family="'Liberation Serif', serif" font-size="5.4" font-weight="bold" fill="#222" text-anchor="middle" textLength="5.8" lengthAdjust="spacingAndGlyphs">10</text>
<text x="228.20" y="256.00" font-family="'Liberation Serif', serif" font-size="5.4" font-weight="bold" fill="#222" text-anchor="middle" textLength="5.8" lengthAdjust="spacingAndGlyphs">20</text>
<text x="253.00" y="256.00" font-family="'Liberation Serif', serif" font-size="5.4" font-weight="bold" fill="#222" text-anchor="middle" textLength="5.8" lengthAdjust="spacingAndGlyphs">30</text>
<text x="277.80" y="256.00" font-family="'Liberation Serif', serif" font-size="5.4" font-weight="bold" fill="#222" text-anchor="middle" textLength="5.8" lengthAdjust="spacingAndGlyphs">40</text>
<text x="302.60" y="256.00" font-family="'Liberation Serif', serif" font-size="5.4" font-weight="bold" fill="#222" text-anchor="middle" textLength="5.8" lengthAdjust="spacingAndGlyphs">50</text>
<text x="327.40" y="256.00" font-family="'Liberation Serif', serif" font-size="5.4" font-weight="bold" fill="#222" text-anchor="middle" textLength="5.8" lengthAdjust="spacingAndGlyphs">60</text>
<text x="352.20" y="256.00" font-family="'Liberation Serif', serif" font-size="5.4" font-weight="bold" fill="#222" text-anchor="middle" textLength="5.8" lengthAdjust="spacingAndGlyphs">70</text>
<rect x="203.4" y="139.8" width="148.80" height="109.20" fill="none" stroke="#3a3a3a" stroke-width="1.2"/>
<text x="203.90" y="162.40" font-family="'Liberation Serif', serif" font-size="12.0" font-weight="bold" fill="#111" text-anchor="start" textLength="16.2" lengthAdjust="spacingAndGlyphs">(d)</text>
<text x="228.40" y="145.20" font-family="'Liberation Serif', serif" font-size="4.9" font-weight="bold" fill="#222" text-anchor="middle" textLength="12.3" lengthAdjust="spacingAndGlyphs">(111)</text>
<text x="270.20" y="145.20" font-family="'Liberation Serif', serif" font-size="4.9" font-weight="bold" fill="#222" text-anchor="middle" textLength="12.3" lengthAdjust="spacingAndGlyphs">(311)</text>
<text x="292.40" y="147.60" font-family="'Liberation Serif', serif" font-size="4.9" font-weight="bold" fill="#222" text-anchor="middle" textLength="12.3" lengthAdjust="spacingAndGlyphs">(400)</text>
<text x="340.70" y="154.60" font-family="'Liberation Serif', serif" font-size="4.9" font-weight="bold" fill="#222" text-anchor="middle" textLength="12.3" lengthAdjust="spacingAndGlyphs">(440)</text>
<text x="327.40" y="164.50" font-family="'Liberation Serif', serif" font-size="5.9" font-weight="bold" fill="#222" text-anchor="start" textLength="22.2" lengthAdjust="spacingAndGlyphs">HMAO-4</text>
<text x="326.00" y="215.00" font-family="'Liberation Serif', serif" font-size="5.9" font-weight="bold" fill="#222" text-anchor="start" textLength="22.1" lengthAdjust="spacingAndGlyphs">LMAO-4</text>
<text x="315.60" y="243.70" font-family="'Liberation Serif', serif" font-size="3.8" font-weight="bold" fill="#333" text-anchor="start" textLength="26.6" lengthAdjust="spacingAndGlyphs">PDF NO.88-0459</text>
<text x="196.50" y="193.60" font-family="'Liberation Serif', serif" font-size="6.9" font-weight="bold" fill="#222" text-anchor="middle" textLength="43.1" lengthAdjust="spacingAndGlyphs" transform="rotate(-90 196.5 193.6)">Intensity(a.u.)</text>
<text x="278.20" y="267.80" font-family="'Liberation Serif', serif" font-size="7.2" font-weight="bold" fill="#111" text-anchor="middle" textLength="14.6" lengthAdjust="spacingAndGlyphs">2θ(°)</text>
<polyline points="389.40,188.39 389.60,189.38 389.80,189.91 390.00,187.54 390.20,190.16 390.40,189.40 390.60,190.20 390.80,189.44 391.00,190.78 391.20,187.64 391.40,191.72 391.60,190.87 391.80,188.17 392.00,190.07 392.20,189.75 392.40,186.47 392.60,189.99 392.80,188.23 393.00,188.74 393.20,188.21 393.40,188.48 393.60,189.24 393.80,189.28 394.00,186.80 394.20,188.75 394.40,187.14 394.60,187.26 394.80,188.65 395.00,190.46 395.20,190.12 395.40,188.28 395.60,188.12 395.80,187.95 396.00,189.41 396.20,190.61 396.40,189.23 396.60,190.25 396.80,189.68 397.00,191.47 397.20,186.20 397.40,186.02 397.60,188.92 397.80,190.17 398.00,188.60 398.20,189.85 398.40,187.45 398.60,187.31 398.80,188.12 399.00,190.44 399.20,190.21 399.40,188.08 399.60,189.40 399.80,188.13 400.00,189.10 400.20,187.35 400.40,188.90 400.60,187.79 400.80,188.73 401.00,187.70 401.20,187.28 401.40,188.44 401.60,187.42 401.80,187.45 402.00,185.97 402.20,186.12 402.40,181.36 402.60,178.41 402.80,168.71 403.00,157.12 403.00,160.14 403.20,169.77 403.40,177.95 403.60,180.59 403.80,182.83 404.00,186.40 404.20,190.16 404.40,188.89 404.60,189.52 404.80,188.25 405.00,187.69 405.20,189.50 405.40,187.39 405.60,188.84 405.80,189.97 406.00,189.32 406.20,190.10 406.40,188.68 406.60,190.28 406.80,190.02 407.00,186.96 407.20,187.89 407.40,188.39 407.60,190.48 407.80,189.96 408.00,189.95 408.20,189.79 408.40,190.50 408.60,190.97 408.80,188.72 409.00,187.18 409.20,190.57 409.40,189.25 409.60,189.64 409.80,189.31 410.00,187.90 410.20,187.29 410.40,191.00 410.60,191.18 410.80,190.92 411.00,189.82 411.20,189.89 411.40,188.83 411.60,189.52 411.80,188.77 412.00,188.49 412.20,189.54 412.40,191.67 412.60,186.16 412.80,189.69 413.00,189.52 413.20,186.26 413.40,187.87 413.60,186.41 413.80,183.43 414.00,179.04 414.20,169.09 414.40,166.28 414.40,167.24 414.60,173.56 414.80,179.32 415.00,184.50 415.20,186.74 415.40,186.08 415.60,187.56 415.80,189.15 416.00,187.96 416.20,186.12 416.40,186.96 416.60,189.30 416.80,188.43 417.00,188.49 417.20,190.94 417.40,188.97 417.60,187.68 417.80,188.55 418.00,191.73 418.20,186.61 418.40,190.74 418.60,189.90 418.80,187.09 419.00,186.31 419.20,188.29 419.40,185.72 419.60,183.59 419.80,186.07 420.00,182.63 420.20,182.26 420.30,181.72 420.40,181.27 420.60,182.44 420.80,182.58 421.00,184.86 421.20,186.55 421.40,187.30 421.60,187.99 421.80,188.83 422.00,187.97 422.20,186.06 422.40,188.44 422.60,184.48 422.80,185.76 423.00,187.08 423.20,183.90 423.40,188.40 423.60,184.48 423.80,183.64 424.00,184.74 424.00,184.74 424.20,185.97 424.40,186.03 424.60,188.14 424.80,186.72 425.00,187.62 425.20,186.24 425.40,188.80 425.60,187.19 425.80,185.69 426.00,190.80 426.20,187.45 426.40,187.57 426.60,188.03 426.80,190.45 427.00,187.30 427.20,189.09 427.40,190.64 427.60,192.69 427.80,189.48 428.00,190.06 428.20,188.73 428.40,193.06 428.60,189.92 428.80,190.08 429.00,190.43 429.20,188.87 429.40,190.27 429.60,188.42 429.80,192.57 430.00,190.14 430.20,190.15 430.40,192.17 430.60,188.62 430.80,192.56 431.00,192.77 431.20,189.35 431.40,191.56 431.60,190.39 431.80,191.88 432.00,190.63 432.20,189.24 432.40,191.54 432.60,190.29 432.80,190.90 433.00,192.11 433.20,192.48 433.40,191.61 433.60,188.55 433.80,191.74 434.00,190.26 434.20,192.33 434.40,190.43 434.60,192.88 434.80,191.52 435.00,190.76 435.20,191.21 435.40,188.13 435.60,191.65 435.80,190.96 436.00,189.15 436.20,191.42 436.40,191.29 436.60,191.36 436.80,190.65 437.00,192.01 437.20,192.03 437.40,190.97 437.60,190.74 437.80,190.15 438.00,189.94 438.20,191.75 438.40,190.00 438.60,188.70 438.80,191.17 439.00,192.44 439.20,190.35 439.40,192.03 439.60,191.40 439.80,189.09 440.00,190.99 440.20,190.20 440.40,191.15 440.60,185.54 440.80,190.22 441.00,188.58 441.20,183.09 441.40,183.48 441.40,181.65 441.60,184.72 441.80,188.68 442.00,190.86 442.20,189.78 442.40,190.88 442.60,190.67 442.80,188.94 443.00,192.43 443.20,190.98 443.40,189.77 443.60,190.72 443.80,189.20 444.00,186.29 444.20,186.33 444.40,180.45 444.60,173.30 444.80,167.67 444.80,167.66 445.00,175.23 445.20,180.73 445.40,184.69 445.60,186.20 445.80,187.65 446.00,190.38 446.20,190.51 446.40,188.92 446.60,189.54 446.80,189.98 447.00,193.12 447.20,189.49 447.40,191.52 447.60,188.61 447.80,190.76 448.00,193.23 448.20,189.33 448.40,192.96 448.60,188.44 448.80,191.38 449.00,189.67 449.20,191.31 449.40,191.00 449.60,192.60 449.80,191.81 450.00,191.67 450.20,190.62 450.40,192.12 450.60,190.26 450.80,190.51 451.00,190.54 451.20,192.34 451.40,194.89 451.60,191.41 451.80,194.39 452.00,190.00 452.20,190.63 452.40,192.31 452.60,192.45 452.80,192.68 453.00,193.90 453.20,191.23 453.40,193.16 453.60,191.90 453.80,187.29 454.00,190.03 454.20,190.72 454.40,191.65 454.60,192.26 454.80,191.02 455.00,193.36 455.20,189.89 455.40,191.24 455.60,192.56 455.80,189.38 456.00,192.77 456.20,192.07 456.40,190.03 456.60,189.70 456.80,188.58 457.00,186.97 457.20,185.38 457.40,178.20 457.60,170.67 457.60,170.43 457.80,178.30 458.00,179.52 458.20,184.48 458.40,187.65 458.60,189.46 458.80,192.03 459.00,190.54 459.20,195.63 459.40,190.64 459.60,191.37 459.80,191.09 460.00,188.37 460.20,187.86 460.40,183.53 460.60,180.07 460.60,178.77 460.80,182.06 461.00,187.76 461.20,188.69 461.40,190.49 461.60,191.12 461.80,191.32 462.00,191.17 462.20,192.19 462.40,192.67 462.60,193.57 462.80,192.33 463.00,190.79 463.20,190.65 463.40,192.65 463.60,189.44 463.80,190.96 464.00,193.30 464.20,191.26 464.40,190.77 464.60,193.59 464.80,187.77 465.00,191.61 465.20,191.01 465.40,190.94 465.60,192.98 465.80,193.81 466.00,193.18 466.20,192.29 466.40,191.68 466.60,190.57 466.80,190.53 467.00,187.40 467.20,187.73 467.40,186.73 467.60,180.38 467.80,177.19 467.80,173.63 468.00,179.71 468.20,184.32 468.40,190.05 468.60,189.38 468.80,190.02 469.00,189.03 469.20,190.34 469.40,189.72 469.60,190.45 469.80,194.58 470.00,189.60 470.20,190.88 470.40,189.82 470.60,192.92 470.80,189.20 471.00,188.83 471.20,189.73 471.40,189.87 471.60,184.29 471.80,178.23 471.90,174.21 472.00,173.68 472.20,183.85 472.40,187.49 472.60,191.03 472.80,190.93 473.00,190.40 473.20,193.05 473.40,193.95 473.60,190.55 473.80,193.03 474.00,193.51 474.20,190.65 474.40,192.69 474.60,191.84 474.80,193.68 475.00,193.61 475.20,188.80 475.40,191.66 475.60,194.07 475.80,192.79 476.00,190.51 476.20,191.34 476.40,190.46 476.60,192.57 476.80,190.14 477.00,193.93 477.20,193.37 477.40,194.63 477.60,193.73 477.80,193.66 478.00,193.51 478.20,193.01 478.40,189.26 478.60,193.00 478.80,191.00 479.00,188.59 479.20,194.54 479.40,192.18 479.60,189.76 479.80,192.65 480.00,192.85 480.20,192.49 480.40,194.41 480.60,190.55 480.80,193.56 481.00,190.75 481.20,192.93 481.40,193.19 481.60,191.50 481.80,196.01 482.00,189.52 482.20,190.01 482.40,191.53 482.60,190.89 482.80,193.94 483.00,191.36 483.20,194.24 483.40,191.58 483.60,193.45 483.80,193.44 484.00,192.42 484.20,193.32 484.40,192.77 484.60,195.42 484.80,195.82 485.00,191.74 485.20,192.99 485.40,193.99 485.60,193.11 485.80,195.21 486.00,196.21 486.20,189.28 486.40,191.43 486.60,194.25 486.80,193.04 487.00,191.17 487.20,191.87 487.40,192.42 487.60,194.70 487.80,190.76 488.00,192.49 488.20,194.37 488.40,193.69 488.60,191.86 488.80,191.56 489.00,189.18 489.20,189.12 489.40,190.05 489.60,192.06 489.80,190.86 490.00,189.28 490.20,186.69 490.20,186.46 490.40,187.58 490.60,188.44 490.80,192.63 491.00,190.81 491.20,188.96 491.40,192.53 491.60,192.11 491.80,195.70 492.00,191.70 492.20,192.66 492.40,190.43 492.60,193.20 492.80,192.59 493.00,190.98 493.20,192.57 493.40,190.29 493.60,193.08 493.80,191.52 494.00,192.75 494.20,190.84 494.40,191.05 494.60,191.96 494.80,193.45 495.00,192.39 495.20,188.61 495.40,193.18 495.60,191.99 495.80,193.10 496.00,193.86 496.20,193.34 496.40,190.97 496.60,191.48 496.80,192.72 497.00,193.40 497.20,190.59 497.40,190.59 497.60,189.70 497.80,191.09 498.00,187.95 498.20,190.22 498.30,187.42 498.40,188.50 498.60,189.92 498.80,189.54 499.00,187.28 499.20,193.66 499.40,192.11 499.60,188.90 499.80,196.09 500.00,192.97 500.20,194.27 500.40,191.50 500.60,189.19 500.80,190.67 501.00,193.03 501.20,188.62 501.40,190.97 501.60,193.47 501.80,193.31 502.00,191.76 502.20,187.72 502.40,191.12 502.60,193.38 502.80,192.67 503.00,190.66 503.20,191.71 503.40,191.87 503.60,190.26 503.80,189.56 504.00,189.41 504.20,188.95 504.40,189.81 504.60,189.52 504.80,190.05 505.00,189.56 505.20,187.88 505.40,184.15 505.60,187.37 505.80,184.18 506.00,187.01 506.20,182.68 506.40,185.22 506.60,181.65 506.80,182.40 507.00,179.87 507.00,180.35 507.20,179.24 507.40,180.00 507.60,181.16 507.80,184.29 508.00,182.73 508.20,187.11 508.40,186.19 508.60,188.38 508.80,186.67 509.00,188.83 509.20,186.68 509.40,188.69 509.60,189.71 509.80,188.78 510.00,190.20 510.20,190.94 510.40,191.15 510.60,188.04 510.80,190.79 511.00,191.05 511.20,190.20 511.40,190.13 511.60,194.54 511.80,192.99 512.00,193.29 512.20,193.65 512.40,190.51 512.60,191.58 512.80,189.35 513.00,192.33 513.20,189.21 513.40,191.04 513.60,193.27 513.80,192.99 514.00,190.74 514.20,190.89 514.40,194.21 514.60,192.95 514.80,191.55 515.00,192.54 515.20,192.53 515.40,190.74 515.60,191.54 515.80,189.23 516.00,192.76 516.20,192.54 516.40,193.98 516.60,193.99 516.80,191.77 517.00,194.87 517.20,191.38 517.40,193.89 517.60,191.72 517.80,191.57 518.00,190.65 518.20,192.43 518.40,195.91 518.60,192.77 518.80,193.25 519.00,192.04 519.20,193.32 519.40,193.50 519.60,193.29 519.80,194.64 520.00,192.55 520.20,193.22 520.40,194.93 520.60,193.55 520.80,191.49 521.00,194.54 521.20,193.59 521.40,191.42 521.60,191.47 521.80,192.06 522.00,193.89 522.20,193.16 522.40,194.14 522.60,196.37 522.80,195.28 523.00,192.85 523.20,191.69 523.40,194.78 523.60,191.63 523.80,191.53 524.00,192.53 524.20,193.13 524.40,192.32 524.60,193.11 524.80,188.68 525.00,192.16 525.20,192.77 525.40,193.79 525.60,193.25 525.80,192.39 526.00,196.47 526.20,194.21 526.40,193.67 526.60,193.21 526.80,193.43 527.00,191.52 527.20,191.21 527.40,193.09 527.60,190.36 527.80,193.64 528.00,192.16 528.20,193.81 528.40,192.92 528.60,191.50 528.80,191.68 529.00,192.12 529.20,194.69 529.40,194.79 529.60,192.44 529.80,192.92 530.00,191.51 530.20,194.81 530.40,193.05 530.60,191.70 530.80,190.68 531.00,193.40 531.20,195.40 531.40,192.69 531.60,191.16 531.80,191.14 532.00,191.51 532.20,188.85 532.40,193.47 532.60,191.08 532.80,188.95 533.00,186.96 533.20,191.45 533.40,190.78 533.60,192.18 533.80,191.36 533.80,189.25 534.00,187.47 534.20,190.78 534.40,190.09 534.60,191.50 534.80,189.33 535.00,191.51 535.20,191.81 535.40,190.36 535.60,189.77 535.80,189.15 536.00,192.65 536.20,194.40 536.40,192.58 536.60,188.81 536.80,192.63 537.00,190.21 537.20,193.11 537.40,195.36 537.60,193.31 537.80,188.92 538.00,194.38 538.20,193.32 538.40,195.66 538.60,193.60 538.80,193.90 539.00,190.17 539.20,195.01 539.40,191.02 539.60,189.86 539.80,193.65 540.00,193.99 540.20,195.07 540.40,194.64 540.60,193.47 540.80,193.42 541.00,194.22 541.20,193.47 541.40,193.62 541.60,189.89" fill="none" stroke="#ff6a10" stroke-width="1.7" stroke-linejoin="round" stroke-linecap="round" opacity="1.0"/>
<polyline points="389.40,236.59 389.60,236.33 389.80,235.20 390.00,236.09 390.20,234.19 390.40,232.46 390.60,237.28 390.80,235.49 391.00,231.81 391.20,233.09 391.40,233.55 391.60,234.74 391.80,235.95 392.00,234.35 392.20,233.15 392.40,234.26 392.60,233.19 392.80,233.69 393.00,232.49 393.00,231.74 393.20,235.27 393.40,233.14 393.60,233.90 393.80,233.09 394.00,233.37 394.20,233.85 394.40,235.49 394.60,236.48 394.80,235.72 395.00,234.37 395.20,239.22 395.40,236.63 395.60,236.91 395.80,234.95 396.00,235.49 396.20,236.78 396.40,233.59 396.60,235.02 396.80,236.74 397.00,239.65 397.20,236.92 397.40,234.93 397.60,234.74 397.80,237.87 398.00,235.41 398.20,236.11 398.40,239.39 398.60,236.77 398.80,236.22 399.00,235.67 399.20,238.65 399.40,238.68 399.60,235.93 399.80,234.92 400.00,236.77 400.20,238.89 400.40,237.64 400.60,235.33 400.80,237.52 401.00,238.16 401.20,237.06 401.40,237.36 401.60,237.16 401.80,236.48 402.00,236.28 402.20,235.31 402.40,235.57 402.60,234.84 402.80,237.90 403.00,237.98 403.20,237.40 403.40,237.94 403.60,237.42 403.80,236.28 404.00,237.62 404.20,236.91 404.40,237.08 404.60,234.45 404.80,236.63 405.00,237.97 405.20,236.89 405.40,236.18 405.60,235.09 405.80,236.41 406.00,239.32 406.20,236.45 406.40,238.77 406.60,236.59 406.80,238.70 407.00,236.41 407.20,237.62 407.40,237.90 407.60,237.73 407.80,235.39 408.00,236.02 408.20,235.00 408.40,235.64 408.60,234.83 408.80,234.17 409.00,234.23 409.20,230.14 409.40,227.60 409.60,222.96 409.80,214.86 410.00,201.31 410.20,195.04 410.20,192.81 410.40,204.96 410.60,215.38 410.80,225.58 411.00,227.41 411.20,231.42 411.40,233.87 411.60,237.36 411.80,235.86 412.00,238.39 412.20,235.76 412.40,239.19 412.60,236.40 412.80,235.07 413.00,234.97 413.20,238.17 413.40,237.70 413.60,238.45 413.80,238.10 414.00,238.97 414.20,240.64 414.40,238.14 414.60,238.88 414.80,238.00 415.00,236.18 415.20,238.26 415.40,240.80 415.60,237.60 415.80,242.02 416.00,239.63 416.20,239.53 416.40,240.24 416.60,238.99 416.80,239.06 417.00,240.91 417.20,238.06 417.40,238.90 417.60,237.48 417.80,239.32 418.00,243.47 418.20,240.90 418.40,237.95 418.60,236.81 418.80,240.10 419.00,240.33 419.20,238.52 419.40,241.27 419.60,240.02 419.80,240.46 420.00,240.56 420.20,241.05 420.40,238.90 420.60,238.55 420.80,241.45 421.00,239.35 421.20,237.86 421.40,240.09 421.60,238.93 421.80,240.05 422.00,244.05 422.20,242.13 422.40,239.01 422.60,237.93 422.80,239.64 423.00,238.33 423.20,240.00 423.40,240.09 423.60,240.61 423.80,239.70 424.00,237.77 424.20,239.52 424.40,239.82 424.60,240.05 424.80,241.43 425.00,238.30 425.20,239.53 425.40,238.92 425.60,238.58 425.80,240.65 426.00,238.89 426.20,242.47 426.40,236.26 426.60,241.87 426.80,239.44 427.00,238.05 427.20,240.02 427.40,239.95 427.60,241.15 427.80,241.54 428.00,238.72 428.20,239.80 428.40,240.28 428.60,240.08 428.80,239.34 429.00,241.72 429.20,240.24 429.40,237.97 429.60,240.22 429.80,239.49 430.00,239.43 430.20,241.02 430.40,240.76 430.60,240.26 430.80,240.45 431.00,241.08 431.20,239.00 431.40,240.00 431.60,241.63 431.80,239.03 432.00,239.21 432.20,238.98 432.40,241.31 432.60,239.17 432.80,241.33 433.00,239.24 433.20,240.09 433.40,240.24 433.60,239.04 433.80,238.36 434.00,241.08 434.20,239.14 434.40,240.37 434.60,240.52 434.80,237.49 435.00,241.14 435.20,239.44 435.40,238.61 435.60,238.17 435.80,237.46 436.00,237.48 436.20,238.09 436.40,230.95 436.60,223.01 436.70,222.66 436.80,227.51 437.00,231.23 437.20,237.93 437.40,236.11 437.60,237.09 437.80,237.14 438.00,237.76 438.20,239.21 438.40,239.61 438.60,237.08 438.80,238.16 439.00,238.54 439.20,239.13 439.40,241.60 439.60,241.82 439.80,240.30 440.00,240.75 440.20,238.49 440.40,240.07 440.60,237.08 440.80,239.36 441.00,239.73 441.20,240.30 441.40,238.62 441.60,238.03 441.80,235.59 442.00,231.50 442.20,231.70 442.20,229.90 442.40,234.00 442.60,236.37 442.80,235.96 443.00,235.85 443.20,238.36 443.40,237.84 443.60,239.22 443.80,239.71 444.00,240.49 444.20,239.18 444.40,235.87 444.60,235.96 444.80,237.02 445.00,229.10 445.20,223.17 445.40,220.26 445.40,219.24 445.60,221.93 445.80,228.82 446.00,229.61 446.20,230.80 446.40,224.75 446.60,214.39 446.80,205.24 446.80,202.18 447.00,214.78 447.20,226.98 447.40,232.33 447.60,234.38 447.80,236.59 448.00,239.70 448.20,239.20 448.40,237.78 448.60,240.47 448.80,239.59 449.00,238.65 449.20,236.96 449.40,240.36 449.60,238.06 449.80,240.17 450.00,241.28 450.20,240.73 450.40,238.09 450.60,238.50 450.80,240.73 451.00,241.32 451.20,239.79 451.40,239.54 451.60,242.27 451.80,242.00 452.00,239.96 452.20,239.00 452.40,240.31 452.60,237.50 452.80,239.31 453.00,239.09 453.20,240.08 453.40,238.61 453.60,234.54 453.80,238.60 454.00,235.10 454.20,228.70 454.40,224.61 454.60,219.55 454.80,204.52 455.00,199.75 455.00,197.12 455.20,204.13 455.40,220.82 455.60,229.24 455.80,231.14 456.00,236.61 456.20,236.54 456.40,237.86 456.60,237.64 456.80,239.38 457.00,240.91 457.20,241.21 457.40,242.26 457.60,242.04 457.80,240.47 458.00,238.85 458.20,240.70 458.40,240.24 458.60,238.39 458.80,236.70 459.00,235.93 459.20,232.43 459.40,228.91 459.60,227.03 459.60,228.53 459.80,230.41 460.00,234.01 460.20,236.65 460.40,238.39 460.60,241.09 460.80,239.96 461.00,237.56 461.20,240.25 461.40,237.93 461.60,239.47 461.80,240.67 462.00,239.34 462.20,240.44 462.40,242.32 462.60,239.52 462.80,242.19 463.00,241.96 463.20,241.70 463.40,239.54 463.60,242.30 463.80,241.32 464.00,241.82 464.20,240.85 464.40,242.59 464.60,238.93 464.80,241.39 465.00,241.93 465.20,244.69 465.40,238.64 465.60,239.15 465.80,240.50 466.00,241.18 466.20,239.67 466.40,241.78 466.60,240.43 466.80,240.88 467.00,238.83 467.20,241.27 467.40,240.83 467.60,242.75 467.80,241.76 468.00,242.72 468.20,241.09 468.40,239.56 468.60,241.56 468.80,238.44 469.00,238.58 469.20,239.61 469.40,241.61 469.60,241.91 469.80,237.97 470.00,239.89 470.20,241.97 470.40,239.68 470.60,237.93 470.80,240.24 471.00,242.02 471.20,239.22 471.40,239.21 471.60,242.81 471.80,240.87 472.00,238.24 472.20,240.90 472.40,241.34 472.60,239.07 472.80,239.65 473.00,240.41 473.20,239.48 473.40,240.98 473.60,240.44 473.80,239.57 474.00,240.08 474.20,237.04 474.40,235.81 474.60,234.39 474.80,234.73 475.00,233.06 475.20,233.21 475.40,233.69 475.60,233.09 475.80,230.59 476.00,229.23 476.20,227.94 476.40,227.94 476.40,226.51 476.60,226.65 476.80,226.73 477.00,229.22 477.20,231.51 477.40,232.19 477.60,233.89 477.80,237.36 478.00,236.24 478.20,237.21 478.40,237.06 478.60,238.32 478.80,236.57 479.00,239.15 479.20,239.64 479.40,240.20 479.60,237.07 479.80,239.01 480.00,241.33 480.20,240.66 480.40,237.80 480.60,238.65 480.80,238.34 481.00,240.54 481.20,241.26 481.40,239.75 481.60,237.82 481.80,240.41 482.00,237.46 482.20,241.65 482.40,238.97 482.60,238.92 482.80,238.77 483.00,240.31 483.20,240.48 483.40,240.97 483.60,240.24 483.80,240.29 484.00,241.91 484.20,242.41 484.40,240.92 484.60,241.38 484.80,241.75 485.00,240.39 485.20,239.85 485.40,238.82 485.60,240.05 485.80,242.97 486.00,239.78 486.20,239.00 486.40,240.48 486.60,241.12 486.80,241.32 487.00,239.54 487.20,241.39 487.40,240.15 487.60,240.25 487.80,240.50 488.00,239.55 488.20,240.03 488.40,241.77 488.60,239.33 488.80,240.30 489.00,241.49 489.20,241.11 489.40,241.12 489.60,239.16 489.80,238.98 490.00,240.40 490.20,239.86 490.40,238.19 490.60,240.48 490.80,241.04 491.00,242.34 491.20,240.00 491.40,239.54 491.60,238.08 491.80,238.15 492.00,234.78 492.20,235.68 492.20,231.93 492.40,237.00 492.60,237.61 492.80,237.62 493.00,240.44 493.20,240.69 493.40,242.56 493.60,241.63 493.80,240.77 494.00,240.17 494.20,239.88 494.40,240.71 494.60,241.17 494.80,239.78 495.00,239.85 495.20,241.39 495.40,239.68 495.60,240.76 495.80,240.53 496.00,239.92 496.20,242.77 496.40,242.29 496.60,240.98 496.80,239.24 497.00,241.30 497.20,240.75 497.40,240.85 497.60,240.99 497.80,240.23 498.00,244.09 498.20,241.82 498.40,240.72 498.60,241.40 498.80,240.38 499.00,239.91 499.20,239.76 499.40,241.49 499.60,242.56 499.80,242.92 500.00,241.36 500.20,241.42 500.40,238.66 500.60,238.31 500.80,240.38 501.00,242.13 501.20,242.67 501.40,240.57 501.60,239.13 501.80,240.36 502.00,240.57 502.20,239.27 502.40,240.13 502.60,241.50 502.80,239.26 503.00,239.57 503.20,241.63 503.40,238.59 503.60,236.29 503.80,230.33 504.00,228.17 504.00,224.91 504.20,232.81 504.40,235.59 504.60,236.74 504.80,238.15 505.00,239.40 505.20,236.80 505.40,239.69 505.60,240.19 505.80,238.39 506.00,240.71 506.20,241.83 506.40,238.23 506.60,239.33 506.80,241.21 507.00,243.33 507.20,239.90 507.40,240.87 507.60,239.72 507.80,240.84 508.00,241.43 508.20,239.95 508.40,241.65 508.60,245.23 508.80,242.98 509.00,240.67 509.20,241.04 509.40,238.78 509.60,240.32 509.80,239.90 510.00,239.27 510.20,237.73 510.40,242.48 510.60,240.97 510.80,238.59 511.00,241.12 511.20,240.93 511.40,237.84 511.60,240.88 511.80,235.09 512.00,237.56 512.20,231.30 512.40,230.08 512.40,226.97 512.60,232.91 512.80,237.84 513.00,239.83 513.20,239.14 513.40,239.68 513.60,238.56 513.80,239.09 514.00,239.75 514.20,237.88 514.40,239.97 514.60,238.79 514.80,239.30 515.00,238.92 515.20,235.70 515.40,230.77 515.60,226.64 515.70,223.75 515.80,226.02 516.00,232.35 516.20,234.51 516.40,238.89 516.60,237.32 516.80,239.41 517.00,240.98 517.20,240.88 517.40,240.74 517.60,242.87 517.80,240.55 518.00,241.04 518.20,242.19 518.40,238.51 518.60,240.33 518.80,242.04 519.00,241.58 519.20,240.06 519.40,241.61 519.60,241.71 519.80,240.96 520.00,242.48 520.20,239.26 520.40,241.76 520.60,240.65 520.80,240.50 521.00,238.22 521.20,243.93 521.40,237.20 521.60,240.84 521.80,240.39 522.00,243.16 522.20,239.82 522.40,240.30 522.60,240.83 522.80,241.57 523.00,242.08 523.20,241.40 523.40,237.48 523.60,239.55 523.80,241.35 524.00,241.26 524.20,241.82 524.40,239.38 524.60,239.89 524.80,240.28 525.00,241.20 525.20,241.54 525.40,239.72 525.60,241.35 525.80,239.55 526.00,239.86 526.20,236.68 526.40,236.70 526.60,239.42 526.80,236.23 527.00,238.27 527.20,236.75 527.40,232.22 527.60,232.82 527.80,232.49 528.00,231.38 528.00,228.88 528.20,232.54 528.40,232.64 528.60,231.88 528.80,234.37 529.00,235.12 529.20,239.47 529.40,237.79 529.60,236.54 529.80,237.99 530.00,235.75 530.20,239.48 530.40,238.55 530.60,240.30 530.80,238.25 531.00,239.55 531.20,238.01 531.40,232.00 531.50,232.74 531.60,233.88 531.80,236.13 532.00,236.89 532.20,238.77 532.40,239.36 532.60,241.01 532.80,239.78 533.00,240.49 533.20,242.09 533.40,241.21 533.60,239.83 533.80,239.06 534.00,240.76 534.20,239.26 534.40,241.38 534.60,240.16 534.80,238.34 535.00,241.56 535.20,239.40 535.40,241.39 535.60,240.89 535.80,241.29 536.00,238.15 536.20,239.89 536.40,240.44 536.60,244.26 536.80,242.04 537.00,241.43 537.20,242.75 537.40,240.82 537.60,240.84 537.80,239.88 538.00,241.28 538.20,237.74 538.40,238.39 538.60,242.35 538.80,242.28 539.00,241.20 539.20,240.38 539.40,243.10 539.60,242.26 539.80,239.39 540.00,241.33 540.20,242.10 540.40,240.40 540.60,238.33 540.80,240.54 541.00,241.58 541.20,241.89 541.40,240.14 541.60,241.42" fill="none" stroke="#159e72" stroke-width="1.7" stroke-linejoin="round" stroke-linecap="round" opacity="1.0"/>
<line x1="410.30" y1="173.00" x2="410.30" y2="248.00" stroke="#f4909c" stroke-width="1.1" opacity="1.0"/>
<line x1="454.80" y1="173.00" x2="454.80" y2="248.00" stroke="#f4909c" stroke-width="1.1" opacity="1.0"/>
<line x1="475.60" y1="175.00" x2="475.60" y2="248.00" stroke="#f4909c" stroke-width="1.1" opacity="1.0"/>
<line x1="525.40" y1="175.00" x2="525.40" y2="248.00" stroke="#f4909c" stroke-width="1.1" opacity="1.0"/>
<line x1="441.60" y1="245.00" x2="441.60" y2="248.00" stroke="#3a90f0" stroke-width="1.1" opacity="1.0"/>
<line x1="459.60" y1="245.00" x2="459.60" y2="248.00" stroke="#3a90f0" stroke-width="1.1" opacity="1.0"/>
<line x1="486.00" y1="245.00" x2="486.00" y2="248.00" stroke="#3a90f0" stroke-width="1.1" opacity="1.0"/>
<line x1="503.00" y1="245.00" x2="503.00" y2="248.00" stroke="#3a90f0" stroke-width="1.1" opacity="1.0"/>
<line x1="512.00" y1="245.00" x2="512.00" y2="248.00" stroke="#3a90f0" stroke-width="1.1" opacity="1.0"/>
<line x1="535.00" y1="245.00" x2="535.00" y2="248.00" stroke="#3a90f0" stroke-width="1.1" opacity="1.0"/>
<line x1="537.00" y1="245.00" x2="537.00" y2="248.00" stroke="#3a90f0" stroke-width="1.1" opacity="1.0"/>
<line x1="401.67" y1="248.30" x2="401.67" y2="247.10" stroke="#333" stroke-width="0.8" opacity="1.0"/>
<line x1="414.45" y1="248.30" x2="414.45" y2="246.70" stroke="#333" stroke-width="0.8" opacity="1.0"/>
<line x1="427.23" y1="248.30" x2="427.23" y2="247.10" stroke="#333" stroke-width="0.8" opacity="1.0"/>
<line x1="440.00" y1="248.30" x2="440.00" y2="246.70" stroke="#333" stroke-width="0.8" opacity="1.0"/>
<line x1="452.77" y1="248.30" x2="452.77" y2="247.10" stroke="#333" stroke-width="0.8" opacity="1.0"/>
<line x1="465.55" y1="248.30" x2="465.55" y2="246.70" stroke="#333" stroke-width="0.8" opacity="1.0"/>
<line x1="478.33" y1="248.30" x2="478.33" y2="247.10" stroke="#333" stroke-width="0.8" opacity="1.0"/>
<line x1="491.10" y1="248.30" x2="491.10" y2="246.70" stroke="#333" stroke-width="0.8" opacity="1.0"/>
<line x1="503.88" y1="248.30" x2="503.88" y2="247.10" stroke="#333" stroke-width="0.8" opacity="1.0"/>
<line x1="516.65" y1="248.30" x2="516.65" y2="246.70" stroke="#333" stroke-width="0.8" opacity="1.0"/>
<line x1="529.43" y1="248.30" x2="529.43" y2="247.10" stroke="#333" stroke-width="0.8" opacity="1.0"/>
<text x="388.90" y="255.30" font-family="'Liberation Serif', serif" font-size="5.4" font-weight="bold" fill="#222" text-anchor="middle" textLength="5.8" lengthAdjust="spacingAndGlyphs">10</text>
<text x="414.45" y="255.30" font-family="'Liberation Serif', serif" font-size="5.4" font-weight="bold" fill="#222" text-anchor="middle" textLength="5.8" lengthAdjust="spacingAndGlyphs">20</text>
<text x="440.00" y="255.30" font-family="'Liberation Serif', serif" font-size="5.4" font-weight="bold" fill="#222" text-anchor="middle" textLength="5.8" lengthAdjust="spacingAndGlyphs">30</text>
<text x="465.55" y="255.30" font-family="'Liberation Serif', serif" font-size="5.4" font-weight="bold" fill="#222" text-anchor="middle" textLength="5.8" lengthAdjust="spacingAndGlyphs">40</text>
<text x="491.10" y="255.30" font-family="'Liberation Serif', serif" font-size="5.4" font-weight="bold" fill="#222" text-anchor="middle" textLength="5.8" lengthAdjust="spacingAndGlyphs">50</text>
<text x="516.65" y="255.30" font-family="'Liberation Serif', serif" font-size="5.4" font-weight="bold" fill="#222" text-anchor="middle" textLength="5.8" lengthAdjust="spacingAndGlyphs">60</text>
<text x="542.20" y="255.30" font-family="'Liberation Serif', serif" font-size="5.4" font-weight="bold" fill="#222" text-anchor="middle" textLength="5.8" lengthAdjust="spacingAndGlyphs">70</text>
<rect x="388.9" y="140.3" width="153.30" height="108.00" fill="none" stroke="#3a3a3a" stroke-width="1.2"/>
<text x="391.90" y="159.80" font-family="'Liberation Serif', serif" font-size="12.0" font-weight="bold" fill="#111" text-anchor="start" textLength="14.8" lengthAdjust="spacingAndGlyphs">(e)</text>
<text x="410.40" y="171.80" font-family="'Liberation Serif', serif" font-size="4.9" font-weight="bold" fill="#222" text-anchor="middle" textLength="12.3" lengthAdjust="spacingAndGlyphs">(111)</text>
<text x="454.00" y="171.80" font-family="'Liberation Serif', serif" font-size="4.9" font-weight="bold" fill="#222" text-anchor="middle" textLength="12.3" lengthAdjust="spacingAndGlyphs">(311)</text>
<text x="476.50" y="172.40" font-family="'Liberation Serif', serif" font-size="4.9" font-weight="bold" fill="#222" text-anchor="middle" textLength="12.3" lengthAdjust="spacingAndGlyphs">(400)</text>
<text x="526.10" y="174.00" font-family="'Liberation Serif', serif" font-size="4.9" font-weight="bold" fill="#222" text-anchor="middle" textLength="12.3" lengthAdjust="spacingAndGlyphs">(440)</text>
<text x="520.00" y="185.00" font-family="'Liberation Serif', serif" font-size="5.9" font-weight="bold" fill="#222" text-anchor="start" textLength="13.8" lengthAdjust="spacingAndGlyphs">HMO</text>
<text x="520.00" y="225.30" font-family="'Liberation Serif', serif" font-size="5.9" font-weight="bold" fill="#222" text-anchor="start" textLength="13.8" lengthAdjust="spacingAndGlyphs">LMO</text>
<text x="382.40" y="194.00" font-family="'Liberation Serif', serif" font-size="6.9" font-weight="bold" fill="#222" text-anchor="middle" textLength="42.6" lengthAdjust="spacingAndGlyphs" transform="rotate(-90 382.4 194.0)">Intensity(a.u.)</text>
<text x="465.40" y="266.80" font-family="'Liberation Serif', serif" font-size="7.2" font-weight="bold" fill="#111" text-anchor="middle" textLength="14.5" lengthAdjust="spacingAndGlyphs">2θ(°)</text>
<polyline points="31.00,356.40 31.80,355.89 32.60,356.62 33.40,357.11 34.20,357.79 35.00,357.33 35.80,357.26 36.60,357.54 37.40,359.11 38.20,360.13 39.00,359.39 39.80,358.50 40.60,358.91 41.40,361.03 42.20,360.17 43.00,358.91 43.80,360.34 44.60,359.73 45.40,360.32 46.20,360.62 47.00,360.64 47.80,361.79 48.60,361.52 49.40,361.32 50.20,362.27 51.00,362.78 51.80,361.12 52.60,362.36 53.40,362.02 54.20,362.82 55.00,362.18 55.80,363.37 56.60,363.53 57.40,363.53 58.20,363.18 59.00,363.88 59.80,363.57 60.60,363.58 61.40,364.98 62.20,364.19 63.00,366.11 63.80,365.98 64.60,364.16 65.40,366.07 66.20,365.26 67.00,366.32 67.80,366.54 68.60,365.22 69.40,366.75 70.20,366.94 71.00,368.06 71.80,366.66 72.60,368.31 73.40,367.13 74.20,367.91 75.00,367.72 75.80,369.64 76.60,369.17 77.40,370.77 78.20,369.63 79.00,369.99 79.80,370.20 80.60,369.32 81.40,369.94 82.20,371.22 83.00,370.13 83.80,370.78 84.60,370.84 85.40,371.53 86.20,371.02 87.00,371.39 87.80,371.90 88.60,372.00 89.40,371.49 90.20,373.01 91.00,371.56 91.80,371.83 92.60,371.96 93.40,373.84 94.20,373.02 95.00,372.74 95.80,372.78 96.60,374.11 97.40,373.16 98.20,373.14 99.00,374.69 99.80,373.46 100.60,374.24 101.40,374.58 102.20,374.35 103.00,374.74 103.80,375.87 104.60,374.55 105.40,374.07 106.20,373.69 107.00,374.94 107.80,374.81 108.60,375.20 109.40,374.52 110.20,374.34 111.00,373.94 111.80,373.84 112.60,374.07 113.40,373.36 114.20,373.39 115.00,374.40 115.80,372.99 116.60,371.09 117.40,373.22 118.20,372.83 119.00,371.53 119.80,372.58 120.60,371.58 121.40,370.74 122.20,370.32 123.00,369.57 123.80,369.80 124.60,369.89 125.40,368.05 126.20,367.67 127.00,367.68 127.80,364.16 128.60,363.99 129.40,362.29 130.20,360.53 131.00,359.53 131.80,359.52 132.60,359.37 133.40,358.48 134.20,359.05 135.00,359.90 135.80,360.09 136.60,361.08 137.40,361.33 138.20,361.82 139.00,363.17 139.80,362.46 140.60,362.14 141.40,362.45 142.20,360.93 143.00,360.88 143.80,361.03 144.60,360.08 145.40,359.94 146.20,358.11 147.00,356.58 147.80,358.91 148.60,358.10 149.40,356.20 150.20,357.48 151.00,355.57 151.80,352.81 152.60,352.45 153.40,350.58 154.20,348.76 155.00,347.09 155.80,345.52 156.60,343.89 157.40,342.03 158.20,339.70 159.00,336.64 159.80,333.11 160.60,329.65 161.40,326.43 162.20,323.28 163.00,320.06 163.80,316.66 164.60,313.06 165.40,309.32 166.20,305.45 167.00,301.46 167.80,297.32 168.60,293.11 169.40,288.91 170.20,284.71 171.00,280.77" fill="none" stroke="#1fb07a" stroke-width="1.2" stroke-linejoin="round" stroke-linecap="round" opacity="1.0"/>
<polyline points="31.40,379.40 31.40,358.40 31.00,358.44 31.40,358.50 31.80,358.59 32.20,358.68 32.60,358.77 33.00,358.86 33.40,358.95 33.80,359.04 34.20,359.14 34.60,359.23 35.00,359.32 35.40,359.42 35.80,359.51 36.20,359.60 36.60,359.70 37.00,359.79 37.40,359.88 37.80,359.98 38.20,360.07 38.60,360.17 39.00,360.26 39.40,360.36 39.80,360.45 40.20,360.55 40.60,360.64 41.00,360.74 41.40,360.83 41.80,360.93 42.20,361.02 42.60,361.12 43.00,361.21 43.40,361.31 43.80,361.41 44.20,361.50 44.60,361.60 45.00,361.69 45.40,361.79 45.80,361.89 46.20,361.98 46.60,362.08 47.00,362.18 47.40,362.28 47.80,362.37 48.20,362.47 48.60,362.57 49.00,362.67 49.40,362.76 49.80,362.86 50.20,362.96 50.60,363.06 51.00,363.16 51.40,363.26 51.80,363.36 52.20,363.45 52.60,363.55 53.00,363.65 53.40,363.75 53.80,363.85 54.20,363.95 54.60,364.05 55.00,364.15 55.40,364.25 55.80,364.35 56.20,364.45 56.60,364.56 57.00,364.66 57.40,364.76 57.80,364.86 58.20,364.97 58.60,365.07 59.00,365.18 59.40,365.28 59.80,365.39 60.20,365.49 60.60,365.60 61.00,365.70 61.40,365.81 61.80,365.91 62.20,366.02 62.60,366.12 63.00,366.23 63.40,366.34 63.80,366.44 64.20,366.55 64.60,366.66 65.00,366.76 65.40,366.87 65.80,366.98 66.20,367.08 66.60,367.19 67.00,367.29 67.40,367.40 67.80,367.50 68.20,367.61 68.60,367.72 69.00,367.82 69.40,367.93 69.80,368.03 70.20,368.13 70.60,368.24 71.00,368.34 71.40,368.45 71.80,368.55 72.20,368.65 72.60,368.75 73.00,368.85 73.40,368.96 73.80,369.06 74.20,369.16 74.60,369.26 75.00,369.35 75.40,369.45 75.80,369.55 76.20,369.65 76.60,369.75 77.00,369.85 77.40,369.95 77.80,370.05 78.20,370.15 78.60,370.25 79.00,370.36 79.40,370.46 79.80,370.57 80.20,370.67 80.60,370.78 81.00,370.89 81.40,370.99 81.80,371.10 82.20,371.21 82.60,371.32 83.00,371.43 83.40,371.53 83.80,371.64 84.20,371.75 84.60,371.86 85.00,371.97 85.40,372.08 85.80,372.18 86.20,372.29 86.60,372.40 87.00,372.50 87.40,372.61 87.80,372.72 88.20,372.82 88.60,372.93 89.00,373.03 89.40,373.13 89.80,373.24 90.20,373.34 90.60,373.44 91.00,373.54 91.40,373.64 91.80,373.73 92.20,373.83 92.60,373.93 93.00,374.02 93.40,374.11 93.80,374.20 94.20,374.29 94.60,374.38 95.00,374.47 95.40,374.55 95.80,374.63 96.20,374.72 96.60,374.80 97.00,374.87 97.40,374.95 97.80,375.02 98.20,375.10 98.60,375.16 99.00,375.23 99.40,375.30 99.80,375.36 100.20,375.42 100.60,375.48 101.00,375.54 101.40,375.59 101.80,375.64 102.20,375.69 102.60,375.73 103.00,375.78 103.40,375.82 103.80,375.86 104.20,375.90 104.60,375.94 105.00,375.98 105.40,376.01 105.80,376.04 106.20,376.07 106.60,376.08 107.00,376.09 107.40,376.09 107.80,376.07 108.20,376.04 108.60,376.00 109.00,375.94 109.40,375.87 109.80,375.79 110.20,375.70 110.60,375.60 111.00,375.49 111.40,375.36 111.80,375.23 112.20,375.10 112.60,374.95 113.00,374.80 113.40,374.64 113.80,374.48 114.20,374.32 114.60,374.15 115.00,373.98 115.40,373.80 115.80,373.63 116.20,373.45 116.60,373.27 117.00,373.10 117.40,372.92 117.80,372.75 118.20,372.58 118.60,372.41 119.00,372.25 119.40,372.09 119.80,371.94 120.20,371.79 120.60,371.64 121.00,371.48 121.40,371.33 121.80,371.18 122.20,371.02 122.60,370.86 123.00,370.70 123.40,370.54 123.80,370.38 124.20,370.21 124.60,370.05 125.00,369.88 125.40,369.71 125.80,369.54 126.20,369.37 126.60,369.20 127.00,369.03 127.40,368.86 127.80,368.68 128.20,368.51 128.60,368.33 129.00,368.16 129.40,367.98 129.80,367.80 130.20,367.62 130.60,367.44 131.00,367.27 131.40,367.09 131.80,366.91 132.20,366.73 132.60,366.55 133.00,366.36 133.40,366.18 133.80,366.00 134.20,365.82 134.60,365.64 135.00,365.46 135.40,365.28 135.80,365.10 136.20,364.92 136.60,364.73 137.00,364.55 137.40,364.37 137.80,364.19 138.20,364.01 138.60,363.84 139.00,363.66 139.40,363.48 139.80,363.30 140.20,363.13 140.60,362.95 141.00,362.78 141.40,362.60 141.80,362.44 142.20,362.27 142.60,362.12 143.00,361.97 143.40,361.81 143.80,361.66 144.20,361.51 144.60,361.34 145.00,361.17 145.40,360.99 145.80,360.80 146.20,360.59 146.60,360.36 147.00,360.11 147.40,359.84 147.80,359.53 148.20,359.19 148.60,358.82 149.00,358.41 149.40,357.98 149.80,357.51 150.20,357.00 150.60,356.44 151.00,355.81 151.40,355.09 151.80,354.29 152.20,353.41 152.60,352.49 153.00,351.54 153.40,350.59 153.80,349.66 154.20,348.76 154.60,347.90 155.00,347.09 155.40,346.30 155.80,345.52 156.20,344.72 156.60,343.89 157.00,343.00 157.40,342.03 157.80,340.94 158.20,339.70 158.60,338.26 159.00,336.64 159.40,334.90 159.80,333.11 160.20,331.35 160.60,329.65 161.00,328.02 161.40,326.43 161.80,324.85 162.20,323.28 162.60,321.69 163.00,320.06 163.40,318.38 163.80,316.66 164.20,314.88 164.60,313.06 165.00,311.21 165.40,309.32 165.80,307.40 166.20,305.45 166.60,303.47 167.00,301.46 167.40,299.40 167.80,297.32 168.20,295.22 168.60,293.11 169.00,291.01 169.40,288.91 169.80,286.81 170.20,284.71 170.60,282.65 171.00,280.77 171.40,279.38" fill="none" stroke="#f7944a" stroke-width="1.1" stroke-linejoin="round" stroke-linecap="round" opacity="1.0"/>
<line x1="29.40" y1="267.80" x2="31.00" y2="267.80" stroke="#666" stroke-width="0.7" opacity="1.0"/>
<line x1="29.40" y1="295.70" x2="31.00" y2="295.70" stroke="#666" stroke-width="0.7" opacity="1.0"/>
<line x1="29.40" y1="323.60" x2="31.00" y2="323.60" stroke="#666" stroke-width="0.7" opacity="1.0"/>
<line x1="29.40" y1="351.50" x2="31.00" y2="351.50" stroke="#666" stroke-width="0.7" opacity="1.0"/>
<line x1="29.40" y1="379.40" x2="31.00" y2="379.40" stroke="#666" stroke-width="0.7" opacity="1.0"/>
<text x="27.00" y="269.70" font-family="'Liberation Serif', serif" font-size="5.8" font-weight="normal" fill="#555" text-anchor="end" textLength="18" lengthAdjust="spacingAndGlyphs">12,000</text>
<text x="27.00" y="297.60" font-family="'Liberation Serif', serif" font-size="5.8" font-weight="normal" fill="#555" text-anchor="end" textLength="18" lengthAdjust="spacingAndGlyphs">10,000</text>
<text x="27.00" y="325.50" font-family="'Liberation Serif', serif" font-size="5.8" font-weight="normal" fill="#555" text-anchor="end" textLength="13.5" lengthAdjust="spacingAndGlyphs">8,000</text>
<text x="27.00" y="353.40" font-family="'Liberation Serif', serif" font-size="5.8" font-weight="normal" fill="#555" text-anchor="end" textLength="13.5" lengthAdjust="spacingAndGlyphs">6,000</text>
<text x="27.00" y="381.30" font-family="'Liberation Serif', serif" font-size="5.8" font-weight="normal" fill="#555" text-anchor="end" textLength="13.5" lengthAdjust="spacingAndGlyphs">4,000</text>
<text x="31.00" y="387.80" font-family="'Liberation Serif', serif" font-size="6.1" font-weight="bold" fill="#333" text-anchor="middle" textLength="6.0" lengthAdjust="spacingAndGlyphs">62</text>
<line x1="54.45" y1="379.40" x2="54.45" y2="377.80" stroke="#444" stroke-width="0.7" opacity="1.0"/>
<text x="54.45" y="387.80" font-family="'Liberation Serif', serif" font-size="6.1" font-weight="bold" fill="#333" text-anchor="middle" textLength="6.0" lengthAdjust="spacingAndGlyphs">60</text>
<line x1="77.90" y1="379.40" x2="77.90" y2="377.80" stroke="#444" stroke-width="0.7" opacity="1.0"/>
<text x="77.90" y="387.80" font-family="'Liberation Serif', serif" font-size="6.1" font-weight="bold" fill="#333" text-anchor="middle" textLength="6.0" lengthAdjust="spacingAndGlyphs">58</text>
<line x1="101.35" y1="379.40" x2="101.35" y2="377.80" stroke="#444" stroke-width="0.7" opacity="1.0"/>
<text x="101.35" y="387.80" font-family="'Liberation Serif', serif" font-size="6.1" font-weight="bold" fill="#333" text-anchor="middle" textLength="6.0" lengthAdjust="spacingAndGlyphs">56</text>
<line x1="124.80" y1="379.40" x2="124.80" y2="377.80" stroke="#444" stroke-width="0.7" opacity="1.0"/>
<text x="124.80" y="387.80" font-family="'Liberation Serif', serif" font-size="6.1" font-weight="bold" fill="#333" text-anchor="middle" textLength="6.0" lengthAdjust="spacingAndGlyphs">54</text>
<line x1="148.25" y1="379.40" x2="148.25" y2="377.80" stroke="#444" stroke-width="0.7" opacity="1.0"/>
<text x="148.25" y="387.80" font-family="'Liberation Serif', serif" font-size="6.1" font-weight="bold" fill="#333" text-anchor="middle" textLength="6.0" lengthAdjust="spacingAndGlyphs">52</text>
<text x="171.70" y="387.80" font-family="'Liberation Serif', serif" font-size="6.1" font-weight="bold" fill="#333" text-anchor="middle" textLength="6.0" lengthAdjust="spacingAndGlyphs">50</text>
<rect x="31.0" y="267.8" width="140.70" height="111.60" fill="none" stroke="#7a7a7a" stroke-width="1.2"/>
<line x1="171.70" y1="282.00" x2="171.70" y2="363.30" stroke="#b85a20" stroke-width="1.3" opacity="1.0"/>
<line x1="31.30" y1="358.40" x2="31.30" y2="379.40" stroke="#f7944a" stroke-width="1.3" opacity="1.0"/>
<text x="35.00" y="287.00" font-family="'Liberation Serif', serif" font-size="12.5" font-weight="bold" fill="#111" text-anchor="start" textLength="13.0" lengthAdjust="spacingAndGlyphs">(f)</text>
<line x1="134.00" y1="337.40" x2="132.20" y2="354.00" stroke="#3a80c8" stroke-width="0.8" opacity="1.0"/>
<text x="133.40" y="334.70" font-family="'Liberation Serif', serif" font-size="7.0" font-weight="bold" fill="#2a70b8" text-anchor="middle" textLength="13.6" lengthAdjust="spacingAndGlyphs">Li 1s</text>
<text x="11.50" y="321.50" font-family="'Liberation Serif', serif" font-size="10.0" font-weight="bold" fill="#222" text-anchor="middle" textLength="37.2" lengthAdjust="spacingAndGlyphs" transform="rotate(-90 11.5 321.5)">Counts/s</text>
<text x="53.60" y="398.30" font-family="'Liberation Serif', serif" font-size="9.4" font-weight="bold" fill="#222" text-anchor="start" textLength="64.6" lengthAdjust="spacing">Binding Energy</text>
<text x="122.60" y="398.00" font-family="'Liberation Serif', serif" font-size="9.5" font-weight="normal" fill="#333" text-anchor="start">(</text>
<text x="133.45" y="398.30" font-family="'Liberation Serif', serif" font-size="9.0" font-weight="bold" fill="#222" text-anchor="middle">eV</text>
<text x="144.00" y="398.00" font-family="'Liberation Serif', serif" font-size="9.5" font-weight="normal" fill="#333" text-anchor="end">)</text>
<polyline points="209.80,333.60 210.20,333.59 210.60,333.58 211.00,333.57 211.40,333.55 211.80,333.53 212.20,333.51 212.60,333.48 213.00,333.44 213.40,333.40 213.80,333.36 214.20,333.32 214.60,333.27 215.00,333.22 215.40,333.17 215.80,333.11 216.20,333.05 216.60,332.99 217.00,332.93 217.40,332.86 217.80,332.79 218.20,332.70 218.60,332.61 219.00,332.49 219.40,332.36 219.80,332.21 220.20,332.05 220.60,331.86 221.00,331.67 221.40,331.46 221.80,331.24 222.20,331.00 222.60,330.76 223.00,330.50 223.40,330.23 223.80,329.96 224.20,329.67 224.60,329.38 225.00,329.08 225.40,328.78 225.80,328.47 226.20,328.16 226.60,327.84 227.00,327.52 227.40,327.19 227.80,326.85 228.20,326.51 228.60,326.14 229.00,325.76 229.40,325.36 229.80,324.95 230.20,324.50 230.60,324.04 231.00,323.55 231.40,323.04 231.80,322.50 232.20,321.94 232.60,321.34 233.00,320.70 233.40,320.02 233.80,319.26 234.20,318.39 234.60,317.38 235.00,316.24 235.40,314.97 235.80,313.63 236.20,312.24 236.60,310.86 237.00,309.50 237.40,308.23 237.80,307.06 238.20,306.02 238.60,305.11 239.00,304.28 239.40,303.51 239.80,302.79 240.20,302.12 240.60,301.53 241.00,301.03 241.40,300.67 241.80,300.48 242.20,300.49 242.60,300.72 243.00,301.18 243.40,301.85 243.80,302.70 244.20,303.68 244.60,304.76 245.00,305.90 245.40,307.07 245.80,308.28 246.20,309.56 246.60,310.95 247.00,312.45 247.40,314.06 247.80,315.75 248.20,317.49 248.60,319.25 249.00,321.00 249.40,322.70 249.80,324.33 250.20,325.87 250.60,327.31 251.00,328.68 251.40,329.98 251.80,331.20 252.20,332.34 252.60,333.37 253.00,334.30 253.40,335.14 253.80,335.94 254.20,336.70 254.60,337.43 255.00,338.14 255.40,338.82 255.80,339.47 256.20,340.08 256.60,340.65 257.00,341.18 257.40,341.65 257.80,342.07 258.20,342.43 258.60,342.73 259.00,342.97 259.40,343.16 259.80,343.31 260.20,343.43 260.60,343.55 261.00,343.66 261.40,343.77 261.80,343.87 262.20,343.96 262.60,344.06 263.00,344.14 263.40,344.22 263.80,344.30 264.20,344.37 264.60,344.44 265.00,344.50 265.40,344.55 265.80,344.60 266.20,344.65 266.60,344.68 267.00,344.72 267.40,344.74 267.80,344.77 268.20,344.78 268.60,344.79 269.00,344.79 269.40,344.77 269.80,344.75 270.20,344.71 270.60,344.65 271.00,344.58 271.40,344.49 271.80,344.40 272.20,344.29 272.60,344.17 273.00,344.04 273.40,343.90 273.80,343.76 274.20,343.60 274.60,343.44 275.00,343.28 275.40,343.11 275.80,342.93 276.20,342.76 276.60,342.57 277.00,342.39 277.40,342.19 277.80,341.97 278.20,341.73 278.60,341.48 279.00,341.20 279.40,340.90 279.80,340.58 280.20,340.25 280.60,339.90 281.00,339.53 281.40,339.15 281.80,338.76 282.20,338.35 282.60,337.93 283.00,337.50 283.40,337.05 283.80,336.60 284.20,336.14 284.60,335.67 285.00,335.19 285.40,334.69 285.80,334.17 286.20,333.63 286.60,333.05 287.00,332.43 287.40,331.76 287.80,331.03 288.20,330.22 288.60,329.31 289.00,328.27 289.40,327.05 289.80,325.67 290.20,324.14 290.60,322.51 291.00,320.81 291.40,319.04 291.80,317.20 292.20,315.29 292.60,313.30 293.00,311.26 293.40,309.19 293.80,307.13 294.20,305.09 294.60,303.10 295.00,301.15 295.40,299.20 295.80,297.21 296.20,295.15 296.60,293.05 297.00,290.93 297.40,288.83 297.80,286.82 298.20,284.94 298.60,283.23 299.00,281.76 299.40,280.58 299.80,279.76 300.20,279.47 300.60,279.89 301.00,281.21 301.40,283.40 301.80,286.26 302.20,289.49 302.60,292.88 303.00,296.37 303.40,299.96 303.80,303.59 304.20,307.21 304.60,310.74 305.00,314.17 305.40,317.48 305.80,320.66 306.20,323.65 306.60,326.45 307.00,329.07 307.40,331.53 307.80,333.84 308.20,335.99 308.60,338.00 309.00,339.86 309.40,341.59 309.80,343.23 310.20,344.78 310.60,346.26 311.00,347.65 311.40,348.97 311.80,350.20 312.20,351.35 312.60,352.43 313.00,353.46 313.40,354.45 313.80,355.43 314.20,356.38 314.60,357.31 315.00,358.21 315.40,359.07 315.80,359.87 316.20,360.61 316.60,361.27 317.00,361.85 317.40,362.33 317.80,362.72 318.20,363.01 318.60,363.23 319.00,363.39 319.40,363.53 319.80,363.65 320.20,363.76 320.60,363.87 321.00,363.97 321.40,364.06 321.80,364.14 322.20,364.21 322.60,364.28 323.00,364.33 323.40,364.38 323.80,364.42 324.20,364.45 324.60,364.48 325.00,364.50 325.40,364.51 325.80,364.52 326.20,364.53 326.60,364.54 327.00,364.55 327.40,364.56 327.80,364.57 328.20,364.58 328.60,364.59 329.00,364.60 329.40,364.60 329.80,364.61 330.20,364.62 330.60,364.63 331.00,364.64 331.40,364.64 331.80,364.65 332.20,364.66 332.60,364.66 333.00,364.67 333.40,364.68 333.80,364.68 334.20,364.69 334.60,364.70 335.00,364.70 335.40,364.71 335.80,364.71 336.20,364.72 336.60,364.72 337.00,364.73 337.40,364.73 337.80,364.74 338.20,364.74 338.60,364.74 339.00,364.75 339.40,364.75 339.80,364.76 340.20,364.76 340.60,364.76 341.00,364.77 341.40,364.77 341.80,364.77 342.20,364.77 342.60,364.78 343.00,364.78 343.40,364.78 343.80,364.78 344.20,364.79 344.60,364.79 345.00,364.79 345.40,364.79 345.80,364.79 346.20,364.79 346.60,364.79 347.00,364.80 347.40,364.80 347.80,364.80 348.20,364.80 348.60,364.80 349.00,364.80 349.40,364.80 349.80,364.80 350.20,364.80" fill="none" stroke="#1fb07a" stroke-width="1.4" stroke-linejoin="round" stroke-linecap="round" opacity="1.0"/>
<polyline points="209.80,333.60 210.20,333.60 210.60,333.61 211.00,333.61 211.40,333.61 211.80,333.62 212.20,333.63 212.60,333.63 213.00,333.64 213.40,333.65 213.80,333.67 214.20,333.68 214.60,333.69 215.00,333.71 215.40,333.72 215.80,333.74 216.20,333.75 216.60,333.77 217.00,333.79 217.40,333.81 217.80,333.83 218.20,333.85 218.60,333.87 219.00,333.89 219.40,333.91 219.80,333.93 220.20,333.96 220.60,333.98 221.00,334.00 221.40,334.03 221.80,334.06 222.20,334.09 222.60,334.12 223.00,334.15 223.40,334.19 223.80,334.23 224.20,334.27 224.60,334.32 225.00,334.36 225.40,334.41 225.80,334.47 226.20,334.52 226.60,334.58 227.00,334.64 227.40,334.70 227.80,334.76 228.20,334.83 228.60,334.90 229.00,334.97 229.40,335.04 229.80,335.12 230.20,335.20 230.60,335.28 231.00,335.36 231.40,335.45 231.80,335.54 232.20,335.62 232.60,335.72 233.00,335.81 233.40,335.91 233.80,336.02 234.20,336.14 234.60,336.27 235.00,336.42 235.40,336.58 235.80,336.76 236.20,336.95 236.60,337.15 237.00,337.36 237.40,337.58 237.80,337.80 238.20,338.03 238.60,338.26 239.00,338.49 239.40,338.72 239.80,338.95 240.20,339.17 240.60,339.38 241.00,339.59 241.40,339.80 241.80,339.99 242.20,340.19 242.60,340.38 243.00,340.57 243.40,340.77 243.80,340.96 244.20,341.16 244.60,341.36 245.00,341.55 245.40,341.75 245.80,341.94 246.20,342.13 246.60,342.32 247.00,342.50 247.40,342.68 247.80,342.85 248.20,343.02 248.60,343.17 249.00,343.32 249.40,343.46 249.80,343.58 250.20,343.70 250.60,343.80 251.00,343.90 251.40,343.98 251.80,344.06 252.20,344.13 252.60,344.20 253.00,344.26 253.40,344.33 253.80,344.38 254.20,344.44 254.60,344.50 255.00,344.55 255.40,344.60 255.80,344.64 256.20,344.69 256.60,344.73 257.00,344.77 257.40,344.81 257.80,344.84 258.20,344.88 258.60,344.91 259.00,344.94 259.40,344.96 259.80,344.99 260.20,345.01 260.60,345.03 261.00,345.05 261.40,345.06 261.80,345.08 262.20,345.10 262.60,345.11 263.00,345.13 263.40,345.14 263.80,345.15 264.20,345.16 264.60,345.18 265.00,345.19 265.40,345.20 265.80,345.21 266.20,345.22 266.60,345.23 267.00,345.24 267.40,345.25 267.80,345.27 268.20,345.28 268.60,345.29 269.00,345.30 269.40,345.31 269.80,345.32 270.20,345.33 270.60,345.34 271.00,345.35 271.40,345.36 271.80,345.37 272.20,345.38 272.60,345.38 273.00,345.39 273.40,345.40 273.80,345.41 274.20,345.42 274.60,345.43 275.00,345.43 275.40,345.44 275.80,345.45 276.20,345.46 276.60,345.47 277.00,345.49 277.40,345.50 277.80,345.51 278.20,345.53 278.60,345.54 279.00,345.56 279.40,345.58 279.80,345.60 280.20,345.62 280.60,345.66 281.00,345.69 281.40,345.74 281.80,345.80 282.20,345.86 282.60,345.93 283.00,346.00 283.40,346.09 283.80,346.18 284.20,346.27 284.60,346.38 285.00,346.48 285.40,346.60 285.80,346.71 286.20,346.84 286.60,346.96 287.00,347.09 287.40,347.22 287.80,347.36 288.20,347.50 288.60,347.64 289.00,347.79 289.40,347.94 289.80,348.10 290.20,348.27 290.60,348.45 291.00,348.65 291.40,348.86 291.80,349.08 292.20,349.32 292.60,349.57 293.00,349.83 293.40,350.10 293.80,350.38 294.20,350.66 294.60,350.95 295.00,351.25 295.40,351.55 295.80,351.87 296.20,352.19 296.60,352.53 297.00,352.89 297.40,353.27 297.80,353.66 298.20,354.06 298.60,354.48 299.00,354.91 299.40,355.33 299.80,355.76 300.20,356.19 300.60,356.61 301.00,357.03 301.40,357.43 301.80,357.82 302.20,358.20 302.60,358.58 303.00,358.95 303.40,359.32 303.80,359.70 304.20,360.07 304.60,360.45 305.00,360.82 305.40,361.19 305.80,361.55 306.20,361.89 306.60,362.22 307.00,362.54 307.40,362.83 307.80,363.10 308.20,363.34 308.60,363.55 309.00,363.73 309.40,363.89 309.80,364.02 310.20,364.14 310.60,364.25 311.00,364.34 311.40,364.44 311.80,364.53 312.20,364.61 312.60,364.69 313.00,364.77 313.40,364.85 313.80,364.92 314.20,364.98 314.60,365.05 315.00,365.11 315.40,365.17 315.80,365.22 316.20,365.27 316.60,365.32 317.00,365.36 317.40,365.40 317.80,365.44 318.20,365.48 318.60,365.51 319.00,365.54 319.40,365.56 319.80,365.59 320.20,365.61 320.60,365.63 321.00,365.64 321.40,365.66 321.80,365.68 322.20,365.69 322.60,365.71 323.00,365.72 323.40,365.73 323.80,365.74 324.20,365.76 324.60,365.77 325.00,365.78 325.40,365.79 325.80,365.80 326.20,365.81 326.60,365.82 327.00,365.83 327.40,365.84 327.80,365.85 328.20,365.85 328.60,365.86 329.00,365.87 329.40,365.88 329.80,365.89 330.20,365.89 330.60,365.90 331.00,365.91 331.40,365.92 331.80,365.93 332.20,365.94 332.60,365.94 333.00,365.95 333.40,365.96 333.80,365.97 334.20,365.98 334.60,365.99 335.00,366.00 335.40,366.01 335.80,366.02 336.20,366.03 336.60,366.04 337.00,366.05 337.40,366.06 337.80,366.07 338.20,366.08 338.60,366.09 339.00,366.10 339.40,366.12 339.80,366.13 340.20,366.14 340.60,366.15 341.00,366.16 341.40,366.17 341.80,366.18 342.20,366.19 342.60,366.20 343.00,366.21 343.40,366.22 343.80,366.23 344.20,366.24 344.60,366.25 345.00,366.26 345.40,366.27 345.80,366.28 346.20,366.29 346.60,366.30 347.00,366.31 347.40,366.32 347.80,366.33 348.20,366.34 348.60,366.35 349.00,366.36 349.40,366.37 349.80,366.38 350.20,366.39" fill="none" stroke="#f7944a" stroke-width="1.15" stroke-linejoin="round" stroke-linecap="round" opacity="1.0"/>
<line x1="208.00" y1="268.30" x2="209.60" y2="268.30" stroke="#555" stroke-width="0.7" opacity="1.0"/>
<text x="206.00" y="270.30" font-family="'Liberation Serif', serif" font-size="6.0" font-weight="bold" fill="#333" text-anchor="end" textLength="16.5" lengthAdjust="spacingAndGlyphs">70,000</text>
<line x1="208.00" y1="286.63" x2="209.60" y2="286.63" stroke="#555" stroke-width="0.7" opacity="1.0"/>
<text x="206.00" y="288.63" font-family="'Liberation Serif', serif" font-size="6.0" font-weight="bold" fill="#333" text-anchor="end" textLength="16.5" lengthAdjust="spacingAndGlyphs">60,000</text>
<line x1="208.00" y1="304.97" x2="209.60" y2="304.97" stroke="#555" stroke-width="0.7" opacity="1.0"/>
<text x="206.00" y="306.97" font-family="'Liberation Serif', serif" font-size="6.0" font-weight="bold" fill="#333" text-anchor="end" textLength="16.5" lengthAdjust="spacingAndGlyphs">50,000</text>
<line x1="208.00" y1="323.30" x2="209.60" y2="323.30" stroke="#555" stroke-width="0.7" opacity="1.0"/>
<text x="206.00" y="325.30" font-family="'Liberation Serif', serif" font-size="6.0" font-weight="bold" fill="#333" text-anchor="end" textLength="16.5" lengthAdjust="spacingAndGlyphs">40,000</text>
<line x1="208.00" y1="341.63" x2="209.60" y2="341.63" stroke="#555" stroke-width="0.7" opacity="1.0"/>
<text x="206.00" y="343.63" font-family="'Liberation Serif', serif" font-size="6.0" font-weight="bold" fill="#333" text-anchor="end" textLength="16.5" lengthAdjust="spacingAndGlyphs">30,000</text>
<line x1="208.00" y1="359.97" x2="209.60" y2="359.97" stroke="#555" stroke-width="0.7" opacity="1.0"/>
<text x="206.00" y="361.97" font-family="'Liberation Serif', serif" font-size="6.0" font-weight="bold" fill="#333" text-anchor="end" textLength="16.5" lengthAdjust="spacingAndGlyphs">20,000</text>
<line x1="208.00" y1="378.30" x2="209.60" y2="378.30" stroke="#555" stroke-width="0.7" opacity="1.0"/>
<text x="206.00" y="380.30" font-family="'Liberation Serif', serif" font-size="6.0" font-weight="bold" fill="#333" text-anchor="end" textLength="16.5" lengthAdjust="spacingAndGlyphs">10,000</text>
<text x="209.60" y="387.00" font-family="'Liberation Serif', serif" font-size="6.1" font-weight="bold" fill="#333" text-anchor="middle" textLength="8.0" lengthAdjust="spacingAndGlyphs">660</text>
<line x1="234.74" y1="378.30" x2="234.74" y2="376.70" stroke="#444" stroke-width="0.7" opacity="1.0"/>
<text x="234.74" y="387.00" font-family="'Liberation Serif', serif" font-size="6.1" font-weight="bold" fill="#333" text-anchor="middle" textLength="8.0" lengthAdjust="spacingAndGlyphs">655</text>
<line x1="259.89" y1="378.30" x2="259.89" y2="376.70" stroke="#444" stroke-width="0.7" opacity="1.0"/>
<text x="259.89" y="387.00" font-family="'Liberation Serif', serif" font-size="6.1" font-weight="bold" fill="#333" text-anchor="middle" textLength="8.0" lengthAdjust="spacingAndGlyphs">650</text>
<line x1="285.03" y1="378.30" x2="285.03" y2="376.70" stroke="#444" stroke-width="0.7" opacity="1.0"/>
<text x="285.03" y="387.00" font-family="'Liberation Serif', serif" font-size="6.1" font-weight="bold" fill="#333" text-anchor="middle" textLength="8.0" lengthAdjust="spacingAndGlyphs">645</text>
<line x1="310.17" y1="378.30" x2="310.17" y2="376.70" stroke="#444" stroke-width="0.7" opacity="1.0"/>
<text x="310.17" y="387.00" font-family="'Liberation Serif', serif" font-size="6.1" font-weight="bold" fill="#333" text-anchor="middle" textLength="8.0" lengthAdjust="spacingAndGlyphs">640</text>
<line x1="335.31" y1="378.30" x2="335.31" y2="376.70" stroke="#444" stroke-width="0.7" opacity="1.0"/>
<text x="335.31" y="387.00" font-family="'Liberation Serif', serif" font-size="6.1" font-weight="bold" fill="#333" text-anchor="middle" textLength="8.0" lengthAdjust="spacingAndGlyphs">635</text>
<rect x="209.6" y="268.3" width="140.80" height="110.00" fill="none" stroke="#6a6a6a" stroke-width="1.2"/>
<line x1="209.90" y1="333.60" x2="209.90" y2="378.30" stroke="#f7944a" stroke-width="1.4" opacity="1.0"/>
<line x1="350.40" y1="366.00" x2="350.40" y2="378.30" stroke="#c05010" stroke-width="1.4" opacity="1.0"/>
<text x="213.80" y="285.40" font-family="'Liberation Serif', serif" font-size="12.5" font-weight="bold" fill="#111" text-anchor="start" textLength="14.9" lengthAdjust="spacingAndGlyphs">(g)</text>
<line x1="301.80" y1="277.40" x2="324.00" y2="283.20" stroke="#3a70c0" stroke-width="0.8" opacity="1.0"/>
<text x="324.00" y="286.30" font-family="'Liberation Serif', serif" font-size="7.0" font-weight="bold" fill="#2a60b0" text-anchor="start" textLength="17.6" lengthAdjust="spacingAndGlyphs">Mn 2p</text>
<text x="188.20" y="320.50" font-family="'Liberation Serif', serif" font-size="9.6" font-weight="bold" fill="#222" text-anchor="middle" textLength="35.2" lengthAdjust="spacingAndGlyphs" transform="rotate(-90 188.2 320.5)">Counts/s</text>
<text x="232.70" y="399.80" font-family="'Liberation Serif', serif" font-size="9.4" font-weight="bold" fill="#222" text-anchor="start" textLength="63.69999999999999" lengthAdjust="spacing">Binding Energy</text>
<text x="299.00" y="399.50" font-family="'Liberation Serif', serif" font-size="9.5" font-weight="normal" fill="#333" text-anchor="start">(</text>
<text x="310.75" y="399.80" font-family="'Liberation Serif', serif" font-size="9.0" font-weight="bold" fill="#222" text-anchor="middle">eV</text>
<text x="322.20" y="399.50" font-family="'Liberation Serif', serif" font-size="9.5" font-weight="normal" fill="#333" text-anchor="end">)</text>
<polyline points="395.00,303.33 395.70,300.93 396.40,296.86 397.10,295.64 397.80,293.68 398.50,290.86 399.20,289.84 399.90,288.27 400.60,286.42 401.30,288.36 402.00,293.11 402.70,293.65 403.40,290.34 404.10,294.23 404.80,293.19 405.50,294.70 406.20,296.02 406.90,301.79 407.60,301.21 408.30,306.09 409.00,304.71 409.70,307.20 410.40,306.50 411.10,314.70 411.80,314.41 412.50,317.90 413.20,323.57 413.90,324.24 414.60,329.02 415.30,327.98 416.00,332.42 416.70,332.36 417.40,334.18 418.10,339.32 418.80,341.00 419.50,346.17 420.20,346.63 420.90,348.32 421.60,348.47 422.30,348.50 423.00,349.78 423.70,352.10 424.40,351.07 425.10,351.01 425.80,351.52 426.50,353.48 427.20,353.56 427.90,358.47 428.60,355.08 429.30,356.59 430.00,359.13 430.70,361.81 431.40,361.38 432.10,360.88 432.80,361.18 433.50,361.86 434.20,363.82 434.90,360.86 435.60,362.15 436.30,361.32 437.00,362.68 437.70,362.74 438.40,359.90 439.10,365.63 439.80,362.30 440.50,361.21 441.20,360.60 441.90,361.51 442.60,361.92 443.30,362.73 444.00,361.81 444.70,362.49 445.40,359.31 446.10,360.57 446.80,360.15 447.50,361.87 448.20,362.28 448.90,359.36 449.60,361.27 450.30,362.57 451.00,362.83 451.70,359.75 452.40,362.24 453.10,361.87 453.80,360.68 454.50,364.25 455.20,359.60 455.90,360.83 456.60,361.90 457.30,361.54 458.00,360.88 458.70,363.16 459.40,363.21 460.10,362.36 460.80,362.41 461.50,360.70 462.20,358.88 462.90,363.74 463.60,358.84 464.30,363.44 465.00,359.73 465.70,360.11 466.40,359.38 467.10,360.99 467.80,358.75 468.50,362.31 469.20,360.53 469.90,360.25 470.60,359.44 471.30,361.02 472.00,360.83 472.70,363.82 473.40,362.30 474.10,358.10 474.80,361.99 475.50,355.24 476.20,360.20 476.90,354.27 477.60,356.39 478.30,356.84 479.00,354.95 479.70,352.92 480.40,356.46 481.10,352.42 481.80,353.61 482.50,358.62 483.20,355.84 483.90,358.01 484.60,359.32 485.30,358.40 486.00,359.41 486.70,359.61 487.40,360.18 488.10,362.07 488.80,362.11 489.50,361.60 490.20,362.89 490.90,361.09 491.60,361.14 492.30,361.15 493.00,364.18 493.70,365.79 494.40,363.84 495.10,361.11 495.80,363.67 496.50,365.48 497.20,365.55 497.90,365.53 498.60,367.13 499.30,367.24 500.00,363.99 500.70,366.76 501.40,365.11 502.10,366.66 502.80,368.26 503.50,369.22 504.20,367.60 504.90,365.86 505.60,366.15 506.30,367.54 507.00,365.31 507.70,366.74 508.40,367.80 509.10,368.32 509.80,366.54 510.50,367.59 511.20,369.13 511.90,367.59 512.60,364.60 513.30,367.55 514.00,367.65 514.70,366.68 515.40,367.42 516.10,365.18 516.80,369.29 517.50,368.09 518.20,366.66 518.90,367.84 519.60,367.70 520.30,366.20 521.00,363.48 521.70,363.18 522.40,370.45 523.10,365.68 523.80,366.86 524.50,368.09 525.20,366.61 525.90,368.85 526.60,365.55 527.30,367.72 528.00,363.65 528.70,367.76 529.40,367.62 530.10,367.03 530.80,366.81 531.50,366.59 532.20,367.30 532.90,367.25 533.60,364.18 534.30,367.00 535.00,363.82 535.70,365.36 536.40,364.65 537.10,365.72 537.80,364.51 538.50,365.64 539.20,364.35 539.90,363.69 540.60,366.81 541.30,366.16 542.00,366.20 542.70,367.00 543.40,364.15 544.10,367.30" fill="none" stroke="#1fb07a" stroke-width="1.3" stroke-linejoin="round" stroke-linecap="round" opacity="1.0"/>
<polyline points="394.80,304.25 395.20,304.52 395.60,304.88 396.00,305.30 396.40,305.76 396.80,306.25 397.20,306.75 397.60,307.27 398.00,307.80 398.40,308.34 398.80,308.89 399.20,309.45 399.60,310.02 400.00,310.60 400.40,311.19 400.80,311.79 401.20,312.41 401.60,313.04 402.00,313.69 402.40,314.36 402.80,315.05 403.20,315.76 403.60,316.50 404.00,317.27 404.40,318.07 404.80,318.90 405.20,319.77 405.60,320.69 406.00,321.66 406.40,322.70 406.80,323.81 407.20,325.02 407.60,326.36 408.00,327.83 408.40,329.41 408.80,331.05 409.20,332.68 409.60,334.22 410.00,335.62 410.40,336.88 410.80,338.01 411.20,339.05 411.60,340.01 412.00,340.92 412.40,341.79 412.80,342.61 413.20,343.40 413.60,344.15 414.00,344.87 414.40,345.57 414.80,346.25 415.20,346.90 415.60,347.54 416.00,348.17 416.40,348.79 416.80,349.39 417.20,349.99 417.60,350.58 418.00,351.16 418.40,351.74 418.80,352.29 419.20,352.84 419.60,353.37 420.00,353.88 420.40,354.38 420.80,354.86 421.20,355.31 421.60,355.75 422.00,356.16 422.40,356.55 422.80,356.91 423.20,357.25 423.60,357.57 424.00,357.87 424.40,358.15 424.80,358.43 425.20,358.70 425.60,358.96 426.00,359.22 426.40,359.47 426.80,359.71 427.20,359.95 427.60,360.17 428.00,360.39 428.40,360.60 428.80,360.81 429.20,361.00 429.60,361.18 430.00,361.36 430.40,361.52 430.80,361.68 431.20,361.82 431.60,361.95 432.00,362.08 432.40,362.19 432.80,362.29 433.20,362.39 433.60,362.47 434.00,362.55 434.40,362.63 434.80,362.70 435.20,362.77 435.60,362.84 436.00,362.90 436.40,362.96 436.80,363.02 437.20,363.08 437.60,363.13 438.00,363.19 438.40,363.24 438.80,363.29 439.20,363.34 439.60,363.38 440.00,363.43 440.40,363.47 440.80,363.51 441.20,363.56 441.60,363.60 442.00,363.63 442.40,363.67 442.80,363.71 443.20,363.75 443.60,363.78 444.00,363.82 444.40,363.86 444.80,363.89 445.20,363.93 445.60,363.96 446.00,364.00 446.40,364.03 446.80,364.07 447.20,364.10 447.60,364.13 448.00,364.17 448.40,364.20 448.80,364.23 449.20,364.26 449.60,364.29 450.00,364.31 450.40,364.34 450.80,364.37 451.20,364.39 451.60,364.42 452.00,364.44 452.40,364.47 452.80,364.49 453.20,364.52 453.60,364.54 454.00,364.56 454.40,364.59 454.80,364.61 455.20,364.63 455.60,364.65 456.00,364.67 456.40,364.70 456.80,364.72 457.20,364.74 457.60,364.76 458.00,364.78 458.40,364.80 458.80,364.82 459.20,364.85 459.60,364.87 460.00,364.89 460.40,364.91 460.80,364.94 461.20,364.96 461.60,364.98 462.00,365.00 462.40,365.03 462.80,365.05 463.20,365.08 463.60,365.10 464.00,365.13 464.40,365.15 464.80,365.18 465.20,365.21 465.60,365.24 466.00,365.27 466.40,365.30 466.80,365.33 467.20,365.36 467.60,365.39 468.00,365.42 468.40,365.46 468.80,365.49 469.20,365.53 469.60,365.56 470.00,365.60 470.40,365.64 470.80,365.69 471.20,365.73 471.60,365.78 472.00,365.83 472.40,365.88 472.80,365.93 473.20,365.99 473.60,366.04 474.00,366.10 474.40,366.16 474.80,366.22 475.20,366.28 475.60,366.35 476.00,366.41 476.40,366.47 476.80,366.54 477.20,366.60 477.60,366.67 478.00,366.73 478.40,366.79 478.80,366.86 479.20,366.92 479.60,366.98 480.00,367.05 480.40,367.11 480.80,367.17 481.20,367.23 481.60,367.29 482.00,367.35 482.40,367.41 482.80,367.47 483.20,367.54 483.60,367.60 484.00,367.66 484.40,367.73 484.80,367.79 485.20,367.85 485.60,367.92 486.00,367.98 486.40,368.05 486.80,368.11 487.20,368.18 487.60,368.24 488.00,368.30 488.40,368.37 488.80,368.43 489.20,368.50 489.60,368.56 490.00,368.62 490.40,368.69 490.80,368.75 491.20,368.81 491.60,368.87 492.00,368.93 492.40,368.99 492.80,369.05 493.20,369.10 493.60,369.16 494.00,369.22 494.40,369.27 494.80,369.32 495.20,369.38 495.60,369.43 496.00,369.48 496.40,369.53 496.80,369.58 497.20,369.62 497.60,369.67 498.00,369.72 498.40,369.77 498.80,369.81 499.20,369.86 499.60,369.91 500.00,369.96 500.40,370.01 500.80,370.06 501.20,370.11 501.60,370.16 502.00,370.21 502.40,370.26 502.80,370.31 503.20,370.36 503.60,370.40 504.00,370.45 504.40,370.50 504.80,370.55 505.20,370.60 505.60,370.64 506.00,370.69 506.40,370.74 506.80,370.78 507.20,370.82 507.60,370.87 508.00,370.91 508.40,370.95 508.80,370.99 509.20,371.03 509.60,371.07 510.00,371.11 510.40,371.14 510.80,371.18 511.20,371.21 511.60,371.24 512.00,371.27 512.40,371.30 512.80,371.32 513.20,371.35 513.60,371.37 514.00,371.39 514.40,371.41 514.80,371.43 515.20,371.45 515.60,371.46 516.00,371.47 516.40,371.48 516.80,371.49 517.20,371.49 517.60,371.50 518.00,371.50 518.40,371.49 518.80,371.49 519.20,371.48 519.60,371.47 520.00,371.46 520.40,371.45 520.80,371.44 521.20,371.42 521.60,371.41 522.00,371.39 522.40,371.37 522.80,371.35 523.20,371.32 523.60,371.30 524.00,371.27 524.40,371.25 524.80,371.22 525.20,371.19 525.60,371.16 526.00,371.14 526.40,371.11 526.80,371.07 527.20,371.04 527.60,371.01 528.00,370.98 528.40,370.95 528.80,370.91 529.20,370.88 529.60,370.84 530.00,370.80 530.40,370.76 530.80,370.72 531.20,370.67 531.60,370.62 532.00,370.57 532.40,370.52 532.80,370.46 533.20,370.40 533.60,370.34 534.00,370.28 534.40,370.21 534.80,370.15 535.20,370.08 535.60,370.00 536.00,369.93 536.40,369.85 536.80,369.77 537.20,369.69 537.60,369.61 538.00,369.53 538.40,369.44 538.80,369.35 539.20,369.26 539.60,369.17 540.00,369.08 540.40,368.99 540.80,368.89 541.20,368.79 541.60,368.70 542.00,368.60 542.40,368.50 542.80,368.40 543.20,368.31 543.60,368.22 544.00,368.16" fill="none" stroke="#ff7010" stroke-width="1.6" stroke-linejoin="round" stroke-linecap="round" opacity="1.0"/>
<line x1="392.80" y1="265.30" x2="394.60" y2="265.30" stroke="#222" stroke-width="0.8" opacity="1.0"/>
<text x="390.90" y="267.40" font-family="'Liberation Serif', serif" font-size="6.2" font-weight="normal" fill="#333" text-anchor="end" textLength="17.7" lengthAdjust="spacingAndGlyphs">10,000</text>
<line x1="392.80" y1="287.96" x2="394.60" y2="287.96" stroke="#222" stroke-width="0.8" opacity="1.0"/>
<text x="390.90" y="290.06" font-family="'Liberation Serif', serif" font-size="6.2" font-weight="normal" fill="#333" text-anchor="end" textLength="14.7" lengthAdjust="spacingAndGlyphs">9,000</text>
<line x1="392.80" y1="310.62" x2="394.60" y2="310.62" stroke="#222" stroke-width="0.8" opacity="1.0"/>
<text x="390.90" y="312.72" font-family="'Liberation Serif', serif" font-size="6.2" font-weight="normal" fill="#333" text-anchor="end" textLength="14.7" lengthAdjust="spacingAndGlyphs">8,000</text>
<line x1="392.80" y1="333.28" x2="394.60" y2="333.28" stroke="#222" stroke-width="0.8" opacity="1.0"/>
<text x="390.90" y="335.38" font-family="'Liberation Serif', serif" font-size="6.2" font-weight="normal" fill="#333" text-anchor="end" textLength="14.7" lengthAdjust="spacingAndGlyphs">7,000</text>
<line x1="392.80" y1="355.94" x2="394.60" y2="355.94" stroke="#222" stroke-width="0.8" opacity="1.0"/>
<text x="390.90" y="358.04" font-family="'Liberation Serif', serif" font-size="6.2" font-weight="normal" fill="#333" text-anchor="end" textLength="14.7" lengthAdjust="spacingAndGlyphs">6,000</text>
<line x1="392.80" y1="378.60" x2="394.60" y2="378.60" stroke="#222" stroke-width="0.8" opacity="1.0"/>
<text x="390.90" y="380.70" font-family="'Liberation Serif', serif" font-size="6.2" font-weight="normal" fill="#333" text-anchor="end" textLength="14.7" lengthAdjust="spacingAndGlyphs">5,000</text>
<line x1="402.10" y1="378.60" x2="402.10" y2="377.00" stroke="#222" stroke-width="0.7" opacity="1.0"/>
<text x="402.10" y="387.00" font-family="'Liberation Serif', serif" font-size="6.2" font-weight="bold" fill="#333" text-anchor="middle" textLength="6.0" lengthAdjust="spacingAndGlyphs">84</text>
<line x1="417.09" y1="378.60" x2="417.09" y2="377.00" stroke="#222" stroke-width="0.7" opacity="1.0"/>
<text x="417.09" y="387.00" font-family="'Liberation Serif', serif" font-size="6.2" font-weight="bold" fill="#333" text-anchor="middle" textLength="6.0" lengthAdjust="spacingAndGlyphs">82</text>
<line x1="432.08" y1="378.60" x2="432.08" y2="377.00" stroke="#222" stroke-width="0.7" opacity="1.0"/>
<text x="432.08" y="387.00" font-family="'Liberation Serif', serif" font-size="6.2" font-weight="bold" fill="#333" text-anchor="middle" textLength="6.0" lengthAdjust="spacingAndGlyphs">80</text>
<line x1="447.06" y1="378.60" x2="447.06" y2="377.00" stroke="#222" stroke-width="0.7" opacity="1.0"/>
<text x="447.06" y="387.00" font-family="'Liberation Serif', serif" font-size="6.2" font-weight="bold" fill="#333" text-anchor="middle" textLength="6.0" lengthAdjust="spacingAndGlyphs">78</text>
<line x1="462.06" y1="378.60" x2="462.06" y2="377.00" stroke="#222" stroke-width="0.7" opacity="1.0"/>
<text x="462.06" y="387.00" font-family="'Liberation Serif', serif" font-size="6.2" font-weight="bold" fill="#333" text-anchor="middle" textLength="6.0" lengthAdjust="spacingAndGlyphs">76</text>
<line x1="477.05" y1="378.60" x2="477.05" y2="377.00" stroke="#222" stroke-width="0.7" opacity="1.0"/>
<text x="477.05" y="387.00" font-family="'Liberation Serif', serif" font-size="6.2" font-weight="bold" fill="#333" text-anchor="middle" textLength="6.0" lengthAdjust="spacingAndGlyphs">74</text>
<line x1="492.04" y1="378.60" x2="492.04" y2="377.00" stroke="#222" stroke-width="0.7" opacity="1.0"/>
<text x="492.04" y="387.00" font-family="'Liberation Serif', serif" font-size="6.2" font-weight="bold" fill="#333" text-anchor="middle" textLength="6.0" lengthAdjust="spacingAndGlyphs">72</text>
<line x1="507.02" y1="378.60" x2="507.02" y2="377.00" stroke="#222" stroke-width="0.7" opacity="1.0"/>
<text x="507.02" y="387.00" font-family="'Liberation Serif', serif" font-size="6.2" font-weight="bold" fill="#333" text-anchor="middle" textLength="6.0" lengthAdjust="spacingAndGlyphs">70</text>
<line x1="522.01" y1="378.60" x2="522.01" y2="377.00" stroke="#222" stroke-width="0.7" opacity="1.0"/>
<text x="522.01" y="387.00" font-family="'Liberation Serif', serif" font-size="6.2" font-weight="bold" fill="#333" text-anchor="middle" textLength="6.0" lengthAdjust="spacingAndGlyphs">68</text>
<line x1="537.00" y1="378.60" x2="537.00" y2="377.00" stroke="#222" stroke-width="0.7" opacity="1.0"/>
<text x="537.00" y="387.00" font-family="'Liberation Serif', serif" font-size="6.2" font-weight="bold" fill="#333" text-anchor="middle" textLength="6.0" lengthAdjust="spacingAndGlyphs">66</text>
<rect x="394.6" y="265.3" width="149.90" height="113.30" fill="none" stroke="#1a1a1a" stroke-width="1.3"/>
<line x1="394.90" y1="303.90" x2="394.90" y2="378.60" stroke="#ff6a10" stroke-width="1.5" opacity="1.0"/>
<line x1="544.50" y1="368.00" x2="544.50" y2="378.60" stroke="#e05a00" stroke-width="1.4" opacity="1.0"/>
<text x="397.40" y="284.20" font-family="'Liberation Serif', serif" font-size="12.5" font-weight="bold" fill="#111" text-anchor="start" textLength="15.9" lengthAdjust="spacingAndGlyphs">(h)</text>
<line x1="407.00" y1="293.00" x2="424.00" y2="297.00" stroke="#3a80c8" stroke-width="0.8" opacity="1.0"/>
<text x="425.20" y="299.40" font-family="'Liberation Serif', serif" font-size="7.0" font-weight="bold" fill="#2a70b8" text-anchor="start" textLength="16" lengthAdjust="spacingAndGlyphs">Al 2p</text>
<text x="373.60" y="321.80" font-family="'Liberation Serif', serif" font-size="10.0" font-weight="bold" fill="#222" text-anchor="middle" textLength="37.9" lengthAdjust="spacingAndGlyphs" transform="rotate(-90 373.6 321.8)">Counts/s</text>
<text x="416.40" y="397.70" font-family="'Liberation Serif', serif" font-size="9.4" font-weight="bold" fill="#222" text-anchor="start" textLength="67.70000000000005" lengthAdjust="spacing">Binding Energy</text>
<text x="489.20" y="397.40" font-family="'Liberation Serif', serif" font-size="9.5" font-weight="normal" fill="#333" text-anchor="start">(</text>
<text x="501.80" y="397.70" font-family="'Liberation Serif', serif" font-size="9.0" font-weight="bold" fill="#222" text-anchor="middle">eV</text>
<text x="514.10" y="397.40" font-family="'Liberation Serif', serif" font-size="9.5" font-weight="normal" fill="#333" text-anchor="end">)</text>
</svg>
</body></html>
